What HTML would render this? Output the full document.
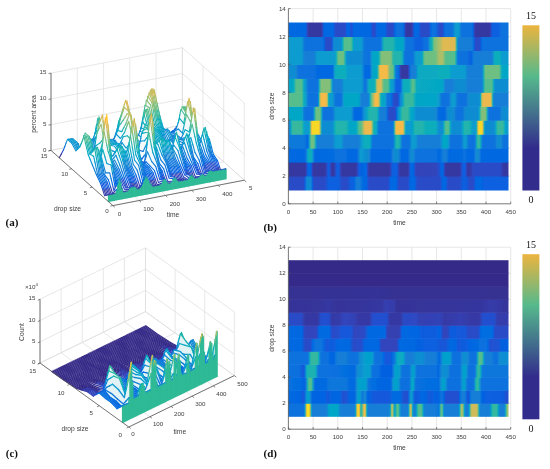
<!DOCTYPE html><html><head><meta charset="utf-8"><title>Figure</title><style>html,body{margin:0;padding:0;background:#fff;overflow:hidden}svg{display:block}.pa .q0{stroke:#352a87}.pa .q1{stroke:#363298}.pa .q2{stroke:#353ba9}.pa .q3{stroke:#3244ba}.pa .q4{stroke:#274dcb}.pa .q5{stroke:#1459db}.pa .q6{stroke:#0363e1}.pa .q7{stroke:#036ae1}.pa .q8{stroke:#0770df}.pa .q9{stroke:#0d75dc}.pa .q10{stroke:#117ad9}.pa .q11{stroke:#1380d6}.pa .q12{stroke:#1485d4}.pa .q13{stroke:#128bd2}.pa .q14{stroke:#0d92d2}.pa .q15{stroke:#0999d1}.pa .q16{stroke:#069ece}.pa .q17{stroke:#06a3ca}.pa .q18{stroke:#06a7c6}.pa .q19{stroke:#08abc0}.pa .q20{stroke:#0eaeba}.pa .q21{stroke:#17b1b3}.pa .q22{stroke:#21b4ac}.pa .q23{stroke:#2cb7a5}.pa .q24{stroke:#39b99d}.pa .q25{stroke:#48bb95}.pa .q26{stroke:#57bd8c}.pa .q27{stroke:#67be85}.pa .q28{stroke:#77bf7e}.pa .q29{stroke:#86bf77}.pa .q30{stroke:#94bf72}.pa .q31{stroke:#a1be6c}.pa .q32{stroke:#adbe68}.pa .q33{stroke:#b9bd63}.pa .q34{stroke:#c5bc5e}.pa .q35{stroke:#d0bb59}.pa .q36{stroke:#dbba55}.pa .q37{stroke:#e6b950}.pa .q38{stroke:#f0b94a}.pa .q39{stroke:#fabc42}.pa .q40{stroke:#fec13a}.pa .q41{stroke:#fec832}.pa .q42{stroke:#fbcf2d}.pa .q43{stroke:#f8d627}.pa .q44{stroke:#f6de21}.pa .q45{stroke:#f5e61b}.pa .q46{stroke:#f6f015}.pa .q47{stroke:#f9fb0e}.pa .w{fill:#f4f9fc;stroke:none}.w0{fill:#fff;stroke:none}.pa .k{stroke:#2fba96;stroke-width:2.0;stroke-linecap:butt}.pc .q0{stroke:#352a87}.pc .q1{stroke:#363298}.pc .q2{stroke:#353ba9}.pc .q3{stroke:#3244ba}.pc .q4{stroke:#274dcb}.pc .q5{stroke:#1459db}.pc .q6{stroke:#0363e1}.pc .q7{stroke:#036ae1}.pc .q8{stroke:#0770df}.pc .q9{stroke:#0d75dc}.pc .q10{stroke:#117ad9}.pc .q11{stroke:#1380d6}.pc .q12{stroke:#1485d4}.pc .q13{stroke:#128bd2}.pc .q14{stroke:#0d92d2}.pc .q15{stroke:#0999d1}.pc .q16{stroke:#069ece}.pc .q17{stroke:#06a3ca}.pc .q18{stroke:#06a7c6}.pc .q19{stroke:#08abc0}.pc .q20{stroke:#0eaeba}.pc .q21{stroke:#17b1b3}.pc .q22{stroke:#21b4ac}.pc .q23{stroke:#2cb7a5}.pc .q24{stroke:#39b99d}.pc .q25{stroke:#48bb95}.pc .q26{stroke:#57bd8c}.pc .q27{stroke:#67be85}.pc .q28{stroke:#77bf7e}.pc .q29{stroke:#86bf77}.pc .q30{stroke:#94bf72}.pc .q31{stroke:#a1be6c}.pc .q32{stroke:#adbe68}.pc .q33{stroke:#b9bd63}.pc .q34{stroke:#c5bc5e}.pc .q35{stroke:#d0bb59}.pc .q36{stroke:#dbba55}.pc .q37{stroke:#e6b950}.pc .q38{stroke:#f0b94a}.pc .q39{stroke:#fabc42}.pc .q40{stroke:#fec13a}.pc .q41{stroke:#fec832}.pc .q42{stroke:#fbcf2d}.pc .q43{stroke:#f8d627}.pc .q44{stroke:#f6de21}.pc .q45{stroke:#f5e61b}.pc .q46{stroke:#f6f015}.pc .q47{stroke:#f9fb0e}.pc .w{fill:#e2f2f5;stroke:none}.w0{fill:#fff;stroke:none}.pc .k{stroke:#2fba96;stroke-width:2.0;stroke-linecap:butt}</style></head><body><svg width="550" height="469" viewBox="0 0 550 469"><defs><linearGradient id="b1" gradientUnits="userSpaceOnUse" x1="288.4" y1="0" x2="508.5" y2="0"><stop offset=".003" stop-color="#2b4bc7"/><stop offset=".070" stop-color="#2b4bc7"/><stop offset=".076" stop-color="#0364e1"/><stop offset=".081" stop-color="#137fd7"/><stop offset=".087" stop-color="#118cd2"/><stop offset=".098" stop-color="#118cd2"/><stop offset=".104" stop-color="#137fd7"/><stop offset=".109" stop-color="#0364e1"/><stop offset=".115" stop-color="#2b4bc7"/><stop offset=".166" stop-color="#2b4bc7"/><stop offset=".182" stop-color="#0860df"/><stop offset=".227" stop-color="#0860df"/><stop offset=".244" stop-color="#2b4bc7"/><stop offset=".267" stop-color="#2b4bc7"/><stop offset=".283" stop-color="#0860df"/><stop offset=".295" stop-color="#0860df"/><stop offset=".300" stop-color="#0269e1"/><stop offset=".306" stop-color="#0f77db"/><stop offset=".311" stop-color="#137ed7"/><stop offset=".323" stop-color="#137ed7"/><stop offset=".328" stop-color="#1079da"/><stop offset=".334" stop-color="#066fdf"/><stop offset=".340" stop-color="#0269e1"/><stop offset=".351" stop-color="#0269e1"/><stop offset=".356" stop-color="#0364e1"/><stop offset=".362" stop-color="#1e53d5"/><stop offset=".368" stop-color="#2b4bc7"/><stop offset=".452" stop-color="#2b4bc7"/><stop offset=".457" stop-color="#1e53d5"/><stop offset=".463" stop-color="#0364e1"/><stop offset=".469" stop-color="#0269e1"/><stop offset=".485" stop-color="#0269e1"/><stop offset=".491" stop-color="#0364e1"/><stop offset=".497" stop-color="#1e53d5"/><stop offset=".502" stop-color="#2b4bc7"/><stop offset=".542" stop-color="#2b4bc7"/><stop offset=".547" stop-color="#1e53d5"/><stop offset=".553" stop-color="#0364e1"/><stop offset=".558" stop-color="#0269e1"/><stop offset=".570" stop-color="#0269e1"/><stop offset=".575" stop-color="#0364e1"/><stop offset=".581" stop-color="#1e53d5"/><stop offset=".586" stop-color="#2b4bc7"/><stop offset=".687" stop-color="#2b4bc7"/><stop offset=".693" stop-color="#1e53d5"/><stop offset=".699" stop-color="#0364e1"/><stop offset=".704" stop-color="#0269e1"/><stop offset=".710" stop-color="#0269e1"/><stop offset=".715" stop-color="#0364e1"/><stop offset=".721" stop-color="#1e53d5"/><stop offset=".727" stop-color="#2b4bc7"/><stop offset=".777" stop-color="#2b4bc7"/><stop offset=".794" stop-color="#0860df"/><stop offset=".811" stop-color="#105bdd"/><stop offset=".822" stop-color="#2b4bc7"/><stop offset=".839" stop-color="#2b4bc7"/><stop offset=".845" stop-color="#1e53d5"/><stop offset=".850" stop-color="#0364e1"/><stop offset=".856" stop-color="#0269e1"/><stop offset=".873" stop-color="#0267e1"/><stop offset=".889" stop-color="#0860df"/><stop offset="1" stop-color="#0860df"/></linearGradient><linearGradient id="b2" gradientUnits="userSpaceOnUse" x1="288.4" y1="0" x2="508.5" y2="0"><stop offset=".003" stop-color="#3637a1"/><stop offset=".076" stop-color="#3637a1"/><stop offset=".081" stop-color="#3243b8"/><stop offset=".087" stop-color="#0a5fdf"/><stop offset=".093" stop-color="#0269e1"/><stop offset=".098" stop-color="#0269e1"/><stop offset=".104" stop-color="#0a5fdf"/><stop offset=".109" stop-color="#3243b8"/><stop offset=".115" stop-color="#3637a1"/><stop offset=".166" stop-color="#3637a1"/><stop offset=".171" stop-color="#3440b3"/><stop offset=".177" stop-color="#1d54d6"/><stop offset=".182" stop-color="#0860df"/><stop offset=".188" stop-color="#1d54d6"/><stop offset=".194" stop-color="#3440b3"/><stop offset=".199" stop-color="#3637a1"/><stop offset=".205" stop-color="#3637a1"/><stop offset=".210" stop-color="#3440b3"/><stop offset=".216" stop-color="#1d54d6"/><stop offset=".222" stop-color="#0860df"/><stop offset=".227" stop-color="#0860df"/><stop offset=".233" stop-color="#1d54d6"/><stop offset=".238" stop-color="#3440b3"/><stop offset=".244" stop-color="#3637a1"/><stop offset=".306" stop-color="#3637a1"/><stop offset=".311" stop-color="#3440b3"/><stop offset=".317" stop-color="#1d54d6"/><stop offset=".323" stop-color="#0860df"/><stop offset=".340" stop-color="#0265e1"/><stop offset=".351" stop-color="#0269e1"/><stop offset=".356" stop-color="#0a5fdf"/><stop offset=".362" stop-color="#3243b8"/><stop offset=".368" stop-color="#3637a1"/><stop offset=".457" stop-color="#3637a1"/><stop offset=".463" stop-color="#3440b3"/><stop offset=".469" stop-color="#1d54d6"/><stop offset=".474" stop-color="#0860df"/><stop offset=".491" stop-color="#0860df"/><stop offset=".497" stop-color="#1d54d6"/><stop offset=".502" stop-color="#3440b3"/><stop offset=".508" stop-color="#3637a1"/><stop offset=".542" stop-color="#3637a1"/><stop offset=".547" stop-color="#3243b8"/><stop offset=".553" stop-color="#0a5fdf"/><stop offset=".558" stop-color="#0269e1"/><stop offset=".564" stop-color="#0269e1"/><stop offset=".570" stop-color="#0462e1"/><stop offset=".575" stop-color="#294cc9"/><stop offset=".581" stop-color="#3243b8"/><stop offset=".671" stop-color="#3244ba"/><stop offset=".687" stop-color="#1e53d5"/><stop offset=".693" stop-color="#0364e1"/><stop offset=".699" stop-color="#0269e1"/><stop offset=".704" stop-color="#0a5fdf"/><stop offset=".710" stop-color="#3243b8"/><stop offset=".715" stop-color="#3637a1"/><stop offset=".777" stop-color="#3637a1"/><stop offset=".783" stop-color="#3440b3"/><stop offset=".788" stop-color="#1d54d6"/><stop offset=".794" stop-color="#0860df"/><stop offset=".800" stop-color="#0860df"/><stop offset=".805" stop-color="#1d54d6"/><stop offset=".811" stop-color="#3440b3"/><stop offset=".816" stop-color="#3637a1"/><stop offset=".828" stop-color="#353cab"/><stop offset=".839" stop-color="#2b4bc7"/><stop offset=".962" stop-color="#2b4bc7"/><stop offset=".979" stop-color="#3637a1"/><stop offset="1" stop-color="#3637a1"/></linearGradient><linearGradient id="b3" gradientUnits="userSpaceOnUse" x1="288.4" y1="0" x2="508.5" y2="0"><stop offset=".003" stop-color="#0269e1"/><stop offset=".076" stop-color="#0269e1"/><stop offset=".081" stop-color="#117bd9"/><stop offset=".087" stop-color="#06a1cc"/><stop offset=".093" stop-color="#0daebb"/><stop offset=".104" stop-color="#0daebb"/><stop offset=".109" stop-color="#06a1cc"/><stop offset=".115" stop-color="#117bd9"/><stop offset=".121" stop-color="#0269e1"/><stop offset=".205" stop-color="#046ce0"/><stop offset=".216" stop-color="#0a72de"/><stop offset=".261" stop-color="#0870df"/><stop offset=".272" stop-color="#0269e1"/><stop offset=".311" stop-color="#0269e1"/><stop offset=".317" stop-color="#0d76dc"/><stop offset=".323" stop-color="#108ed2"/><stop offset=".328" stop-color="#079ccf"/><stop offset=".340" stop-color="#0b95d2"/><stop offset=".351" stop-color="#118cd2"/><stop offset=".362" stop-color="#118cd2"/><stop offset=".368" stop-color="#1483d5"/><stop offset=".373" stop-color="#0a72de"/><stop offset=".379" stop-color="#0269e1"/><stop offset=".463" stop-color="#0269e1"/><stop offset=".469" stop-color="#0a72de"/><stop offset=".474" stop-color="#1483d5"/><stop offset=".480" stop-color="#118cd2"/><stop offset=".497" stop-color="#118cd2"/><stop offset=".502" stop-color="#1483d5"/><stop offset=".508" stop-color="#0a72de"/><stop offset=".513" stop-color="#0269e1"/><stop offset=".542" stop-color="#0269e1"/><stop offset=".547" stop-color="#0a72de"/><stop offset=".553" stop-color="#1483d5"/><stop offset=".558" stop-color="#118cd2"/><stop offset=".564" stop-color="#118cd2"/><stop offset=".570" stop-color="#1485d4"/><stop offset=".575" stop-color="#1078da"/><stop offset=".581" stop-color="#0a72de"/><stop offset=".671" stop-color="#0971de"/><stop offset=".687" stop-color="#0269e1"/><stop offset=".693" stop-color="#066fdf"/><stop offset=".699" stop-color="#1079da"/><stop offset=".704" stop-color="#137ed7"/><stop offset=".715" stop-color="#137ed7"/><stop offset=".721" stop-color="#1079da"/><stop offset=".727" stop-color="#066fdf"/><stop offset=".732" stop-color="#0269e1"/><stop offset=".788" stop-color="#046ce0"/><stop offset=".800" stop-color="#0a72de"/><stop offset=".816" stop-color="#0269e1"/><stop offset=".839" stop-color="#0269e1"/><stop offset=".845" stop-color="#0a72de"/><stop offset=".850" stop-color="#1483d5"/><stop offset=".856" stop-color="#118cd2"/><stop offset=".861" stop-color="#118cd2"/><stop offset=".867" stop-color="#1483d5"/><stop offset=".873" stop-color="#0a72de"/><stop offset=".878" stop-color="#0269e1"/><stop offset="1" stop-color="#0269e1"/></linearGradient><linearGradient id="b4" gradientUnits="userSpaceOnUse" x1="288.4" y1="0" x2="508.5" y2="0"><stop offset=".003" stop-color="#1079da"/><stop offset=".070" stop-color="#1079da"/><stop offset=".087" stop-color="#0269e1"/><stop offset=".093" stop-color="#1485d4"/><stop offset=".098" stop-color="#24b5aa"/><stop offset=".104" stop-color="#6ebf82"/><stop offset=".115" stop-color="#6ebf82"/><stop offset=".121" stop-color="#2fb7a3"/><stop offset=".126" stop-color="#0998d1"/><stop offset=".132" stop-color="#137ed7"/><stop offset=".199" stop-color="#137ed7"/><stop offset=".205" stop-color="#1484d4"/><stop offset=".210" stop-color="#0b95d2"/><stop offset=".216" stop-color="#079ccf"/><stop offset=".238" stop-color="#079ccf"/><stop offset=".244" stop-color="#0b95d2"/><stop offset=".250" stop-color="#1484d4"/><stop offset=".255" stop-color="#137ed7"/><stop offset=".317" stop-color="#137ed7"/><stop offset=".323" stop-color="#1484d4"/><stop offset=".334" stop-color="#069fce"/><stop offset=".345" stop-color="#0aacbe"/><stop offset=".362" stop-color="#0daebb"/><stop offset=".368" stop-color="#0daebb"/><stop offset=".373" stop-color="#06a3ca"/><stop offset=".379" stop-color="#1481d5"/><stop offset=".384" stop-color="#0a72de"/><stop offset=".474" stop-color="#0a72de"/><stop offset=".480" stop-color="#1484d4"/><stop offset=".485" stop-color="#07a9c2"/><stop offset=".491" stop-color="#20b4ad"/><stop offset=".502" stop-color="#20b4ad"/><stop offset=".508" stop-color="#07a9c2"/><stop offset=".513" stop-color="#1484d4"/><stop offset=".519" stop-color="#0a72de"/><stop offset=".547" stop-color="#0a72de"/><stop offset=".553" stop-color="#127cd8"/><stop offset=".558" stop-color="#0e91d2"/><stop offset=".564" stop-color="#079ccf"/><stop offset=".575" stop-color="#079ccf"/><stop offset=".581" stop-color="#0b95d2"/><stop offset=".586" stop-color="#1484d4"/><stop offset=".592" stop-color="#137ed7"/><stop offset=".687" stop-color="#137ed7"/><stop offset=".693" stop-color="#1388d3"/><stop offset=".699" stop-color="#069fce"/><stop offset=".704" stop-color="#06a6c6"/><stop offset=".721" stop-color="#06a6c6"/><stop offset=".727" stop-color="#079cd0"/><stop offset=".732" stop-color="#137fd7"/><stop offset=".738" stop-color="#0a72de"/><stop offset=".783" stop-color="#0a72de"/><stop offset=".788" stop-color="#127cd8"/><stop offset=".794" stop-color="#0e91d2"/><stop offset=".800" stop-color="#079ccf"/><stop offset=".805" stop-color="#079ccf"/><stop offset=".811" stop-color="#0e91d2"/><stop offset=".816" stop-color="#127cd8"/><stop offset=".822" stop-color="#0a72de"/><stop offset=".845" stop-color="#0a72de"/><stop offset=".850" stop-color="#1487d3"/><stop offset=".856" stop-color="#0faeb9"/><stop offset=".861" stop-color="#39b99d"/><stop offset=".867" stop-color="#39b99d"/><stop offset=".873" stop-color="#0faeb9"/><stop offset=".878" stop-color="#1487d3"/><stop offset=".884" stop-color="#0a72de"/><stop offset=".934" stop-color="#0a72de"/><stop offset=".940" stop-color="#1078da"/><stop offset=".946" stop-color="#1485d4"/><stop offset=".951" stop-color="#118cd2"/><stop offset=".962" stop-color="#118cd2"/><stop offset=".968" stop-color="#1485d4"/><stop offset=".974" stop-color="#1078da"/><stop offset=".979" stop-color="#0a72de"/><stop offset="1" stop-color="#0a72de"/></linearGradient><linearGradient id="b5" gradientUnits="userSpaceOnUse" x1="288.4" y1="0" x2="508.5" y2="0"><stop offset=".003" stop-color="#137ed7"/><stop offset=".008" stop-color="#0d92d2"/><stop offset=".014" stop-color="#13b0b6"/><stop offset=".020" stop-color="#39b99d"/><stop offset=".059" stop-color="#39b99d"/><stop offset=".065" stop-color="#20b4ad"/><stop offset=".070" stop-color="#06a6c7"/><stop offset=".076" stop-color="#079ccf"/><stop offset=".093" stop-color="#079ccf"/><stop offset=".098" stop-color="#27b5a8"/><stop offset=".104" stop-color="#dfba53"/><stop offset=".109" stop-color="#f7d826"/><stop offset=".137" stop-color="#f7d826"/><stop offset=".143" stop-color="#d8ba56"/><stop offset=".149" stop-color="#14b0b5"/><stop offset=".154" stop-color="#118cd2"/><stop offset=".199" stop-color="#118cd2"/><stop offset=".205" stop-color="#089bd0"/><stop offset=".210" stop-color="#0cadbb"/><stop offset=".216" stop-color="#20b4ad"/><stop offset=".261" stop-color="#20b4ad"/><stop offset=".267" stop-color="#16b1b4"/><stop offset=".272" stop-color="#08aac1"/><stop offset=".278" stop-color="#06a6c6"/><stop offset=".306" stop-color="#06a6c6"/><stop offset=".311" stop-color="#0daebb"/><stop offset=".317" stop-color="#39b99d"/><stop offset=".323" stop-color="#57bd8c"/><stop offset=".328" stop-color="#57bd8c"/><stop offset=".334" stop-color="#6fbf81"/><stop offset=".345" stop-color="#dcba54"/><stop offset=".351" stop-color="#ebb94d"/><stop offset=".373" stop-color="#ebb94d"/><stop offset=".379" stop-color="#babd62"/><stop offset=".384" stop-color="#3dba9b"/><stop offset=".390" stop-color="#0daebb"/><stop offset=".396" stop-color="#0daebb"/><stop offset=".401" stop-color="#06a3ca"/><stop offset=".407" stop-color="#1481d5"/><stop offset=".412" stop-color="#0a72de"/><stop offset=".474" stop-color="#0a72de"/><stop offset=".480" stop-color="#069ece"/><stop offset=".485" stop-color="#a1be6c"/><stop offset=".491" stop-color="#f6ba46"/><stop offset=".519" stop-color="#f6ba46"/><stop offset=".525" stop-color="#b7bd64"/><stop offset=".530" stop-color="#1ab2b1"/><stop offset=".536" stop-color="#079ccf"/><stop offset=".558" stop-color="#079ccf"/><stop offset=".564" stop-color="#06a4c9"/><stop offset=".570" stop-color="#11afb8"/><stop offset=".575" stop-color="#20b4ad"/><stop offset=".609" stop-color="#20b4ad"/><stop offset=".626" stop-color="#0daebb"/><stop offset=".665" stop-color="#0daebb"/><stop offset=".671" stop-color="#09abbf"/><stop offset=".682" stop-color="#0d92d2"/><stop offset=".687" stop-color="#118cd2"/><stop offset=".699" stop-color="#118cd2"/><stop offset=".704" stop-color="#06a0cd"/><stop offset=".710" stop-color="#2ab6a6"/><stop offset=".715" stop-color="#57bd8c"/><stop offset=".727" stop-color="#57bd8c"/><stop offset=".732" stop-color="#2ab6a6"/><stop offset=".738" stop-color="#06a0cd"/><stop offset=".744" stop-color="#118cd2"/><stop offset=".783" stop-color="#118cd2"/><stop offset=".788" stop-color="#089bd0"/><stop offset=".794" stop-color="#0cadbb"/><stop offset=".800" stop-color="#20b4ad"/><stop offset=".822" stop-color="#20b4ad"/><stop offset=".828" stop-color="#11afb8"/><stop offset=".833" stop-color="#06a4c9"/><stop offset=".839" stop-color="#079ccf"/><stop offset=".850" stop-color="#079ccf"/><stop offset=".856" stop-color="#27b5a8"/><stop offset=".861" stop-color="#dfba53"/><stop offset=".867" stop-color="#f7d826"/><stop offset=".878" stop-color="#f7d826"/><stop offset=".884" stop-color="#d8ba56"/><stop offset=".889" stop-color="#14b0b5"/><stop offset=".895" stop-color="#118cd2"/><stop offset=".934" stop-color="#118cd2"/><stop offset=".940" stop-color="#079dcf"/><stop offset=".946" stop-color="#19b2b1"/><stop offset=".951" stop-color="#39b99d"/><stop offset=".974" stop-color="#39b99d"/><stop offset=".979" stop-color="#20b4ad"/><stop offset=".985" stop-color="#06a6c7"/><stop offset=".990" stop-color="#079ccf"/><stop offset="1" stop-color="#079ccf"/></linearGradient><linearGradient id="b6" gradientUnits="userSpaceOnUse" x1="288.4" y1="0" x2="508.5" y2="0"><stop offset=".003" stop-color="#06a6c6"/><stop offset=".059" stop-color="#06a6c6"/><stop offset=".065" stop-color="#079cd0"/><stop offset=".070" stop-color="#137fd7"/><stop offset=".076" stop-color="#0a72de"/><stop offset=".109" stop-color="#0a72de"/><stop offset=".115" stop-color="#118dd2"/><stop offset=".121" stop-color="#29b6a7"/><stop offset=".126" stop-color="#6ebf82"/><stop offset=".143" stop-color="#6ebf82"/><stop offset=".149" stop-color="#29b6a7"/><stop offset=".154" stop-color="#118dd2"/><stop offset=".160" stop-color="#0a72de"/><stop offset=".199" stop-color="#0a72de"/><stop offset=".205" stop-color="#127cd8"/><stop offset=".210" stop-color="#0e91d2"/><stop offset=".216" stop-color="#079ccf"/><stop offset=".283" stop-color="#079ccf"/><stop offset=".289" stop-color="#108ed2"/><stop offset=".295" stop-color="#0d76dc"/><stop offset=".300" stop-color="#0269e1"/><stop offset=".328" stop-color="#0269e1"/><stop offset=".334" stop-color="#066fdf"/><stop offset=".345" stop-color="#0b95d2"/><stop offset=".356" stop-color="#06a4c9"/><stop offset=".362" stop-color="#11afb8"/><stop offset=".368" stop-color="#20b4ad"/><stop offset=".401" stop-color="#20b4ad"/><stop offset=".407" stop-color="#09abbf"/><stop offset=".412" stop-color="#108ed2"/><stop offset=".418" stop-color="#137ed7"/><stop offset=".441" stop-color="#137ed7"/><stop offset=".446" stop-color="#0d75dc"/><stop offset=".452" stop-color="#0b5edf"/><stop offset=".457" stop-color="#2b4bc7"/><stop offset=".485" stop-color="#2b4bc7"/><stop offset=".491" stop-color="#0268e1"/><stop offset=".497" stop-color="#1389d3"/><stop offset=".502" stop-color="#079ccf"/><stop offset=".508" stop-color="#06a6c7"/><stop offset=".513" stop-color="#20b4ad"/><stop offset=".519" stop-color="#39b99d"/><stop offset=".542" stop-color="#39b99d"/><stop offset=".547" stop-color="#26b5a9"/><stop offset=".553" stop-color="#0aacbe"/><stop offset=".558" stop-color="#06a6c6"/><stop offset=".564" stop-color="#06a6c6"/><stop offset=".570" stop-color="#06a2cc"/><stop offset=".575" stop-color="#0c94d2"/><stop offset=".581" stop-color="#118cd2"/><stop offset=".665" stop-color="#118cd2"/><stop offset=".671" stop-color="#1487d3"/><stop offset=".682" stop-color="#056de0"/><stop offset=".693" stop-color="#0269e1"/><stop offset=".710" stop-color="#0269e1"/><stop offset=".715" stop-color="#0a72de"/><stop offset=".721" stop-color="#1483d5"/><stop offset=".727" stop-color="#118cd2"/><stop offset=".749" stop-color="#118cd2"/><stop offset=".755" stop-color="#1485d4"/><stop offset=".760" stop-color="#1078da"/><stop offset=".766" stop-color="#0a72de"/><stop offset=".788" stop-color="#0a72de"/><stop offset=".794" stop-color="#1078da"/><stop offset=".800" stop-color="#1485d4"/><stop offset=".805" stop-color="#118cd2"/><stop offset=".861" stop-color="#118cd2"/><stop offset=".867" stop-color="#06a3ca"/><stop offset=".873" stop-color="#46bb95"/><stop offset=".878" stop-color="#83bf78"/><stop offset=".895" stop-color="#83bf78"/><stop offset=".901" stop-color="#36b99f"/><stop offset=".906" stop-color="#108fd2"/><stop offset=".912" stop-color="#0a72de"/><stop offset=".957" stop-color="#0a72de"/><stop offset=".962" stop-color="#1078da"/><stop offset=".968" stop-color="#1485d4"/><stop offset=".974" stop-color="#118cd2"/><stop offset="1" stop-color="#118cd2"/></linearGradient><linearGradient id="b7" gradientUnits="userSpaceOnUse" x1="288.4" y1="0" x2="508.5" y2="0"><stop offset=".003" stop-color="#57bd8c"/><stop offset=".059" stop-color="#57bd8c"/><stop offset=".065" stop-color="#39b99d"/><stop offset=".070" stop-color="#0daebb"/><stop offset=".081" stop-color="#079cd0"/><stop offset=".087" stop-color="#137fd7"/><stop offset=".093" stop-color="#0a72de"/><stop offset=".132" stop-color="#0a72de"/><stop offset=".137" stop-color="#069ece"/><stop offset=".143" stop-color="#a1be6c"/><stop offset=".149" stop-color="#f6ba46"/><stop offset=".171" stop-color="#f6ba46"/><stop offset=".177" stop-color="#b7bd64"/><stop offset=".182" stop-color="#1ab2b1"/><stop offset=".188" stop-color="#079ccf"/><stop offset=".199" stop-color="#079ccf"/><stop offset=".205" stop-color="#0e91d2"/><stop offset=".210" stop-color="#127cd8"/><stop offset=".216" stop-color="#0a72de"/><stop offset=".238" stop-color="#0a72de"/><stop offset=".244" stop-color="#137fd7"/><stop offset=".250" stop-color="#079cd0"/><stop offset=".255" stop-color="#06a6c6"/><stop offset=".317" stop-color="#06a6c6"/><stop offset=".323" stop-color="#069fce"/><stop offset=".328" stop-color="#1388d3"/><stop offset=".334" stop-color="#137ed7"/><stop offset=".362" stop-color="#137ed7"/><stop offset=".368" stop-color="#0998d1"/><stop offset=".373" stop-color="#2fb7a3"/><stop offset=".379" stop-color="#6ebf82"/><stop offset=".384" stop-color="#96bf71"/><stop offset=".390" stop-color="#d8ba56"/><stop offset=".396" stop-color="#f6ba46"/><stop offset=".407" stop-color="#f6ba46"/><stop offset=".412" stop-color="#bebc61"/><stop offset=".418" stop-color="#2db7a5"/><stop offset=".424" stop-color="#06a6c6"/><stop offset=".435" stop-color="#06a6c6"/><stop offset=".441" stop-color="#079cd0"/><stop offset=".446" stop-color="#137fd7"/><stop offset=".452" stop-color="#0a72de"/><stop offset=".463" stop-color="#0a72de"/><stop offset=".469" stop-color="#046ce0"/><stop offset=".474" stop-color="#1658da"/><stop offset=".480" stop-color="#2b4bc7"/><stop offset=".497" stop-color="#2b4bc7"/><stop offset=".502" stop-color="#0364e1"/><stop offset=".508" stop-color="#137fd7"/><stop offset=".519" stop-color="#079dcf"/><stop offset=".525" stop-color="#19b2b1"/><stop offset=".530" stop-color="#39b99d"/><stop offset=".564" stop-color="#39b99d"/><stop offset=".570" stop-color="#26b5a9"/><stop offset=".575" stop-color="#0aacbe"/><stop offset=".581" stop-color="#06a6c6"/><stop offset=".671" stop-color="#06a5c8"/><stop offset=".682" stop-color="#079ecf"/><stop offset=".687" stop-color="#0e91d2"/><stop offset=".693" stop-color="#127cd8"/><stop offset=".699" stop-color="#0a72de"/><stop offset=".727" stop-color="#0a72de"/><stop offset=".732" stop-color="#127cd8"/><stop offset=".738" stop-color="#0e91d2"/><stop offset=".744" stop-color="#079ccf"/><stop offset=".755" stop-color="#079ccf"/><stop offset=".760" stop-color="#0e91d2"/><stop offset=".766" stop-color="#127cd8"/><stop offset=".772" stop-color="#0a72de"/><stop offset=".805" stop-color="#0a72de"/><stop offset=".811" stop-color="#1078da"/><stop offset=".816" stop-color="#1485d4"/><stop offset=".822" stop-color="#118cd2"/><stop offset=".867" stop-color="#118cd2"/><stop offset=".873" stop-color="#09abbf"/><stop offset=".878" stop-color="#a6be6b"/><stop offset=".884" stop-color="#ebb94d"/><stop offset=".918" stop-color="#ebb94d"/><stop offset=".923" stop-color="#9ebe6e"/><stop offset=".929" stop-color="#06a4c9"/><stop offset=".934" stop-color="#137ed7"/><stop offset="1" stop-color="#137ed7"/></linearGradient><linearGradient id="b8" gradientUnits="userSpaceOnUse" x1="288.4" y1="0" x2="508.5" y2="0"><stop offset=".003" stop-color="#06a6c6"/><stop offset=".020" stop-color="#06a6c6"/><stop offset=".025" stop-color="#0daebb"/><stop offset=".031" stop-color="#39b99d"/><stop offset=".036" stop-color="#57bd8c"/><stop offset=".059" stop-color="#57bd8c"/><stop offset=".065" stop-color="#32b8a1"/><stop offset=".070" stop-color="#06a8c4"/><stop offset=".076" stop-color="#079ccf"/><stop offset=".081" stop-color="#0e91d2"/><stop offset=".087" stop-color="#127cd8"/><stop offset=".093" stop-color="#0a72de"/><stop offset=".132" stop-color="#0a72de"/><stop offset=".137" stop-color="#108fd2"/><stop offset=".143" stop-color="#36b99f"/><stop offset=".149" stop-color="#83bf78"/><stop offset=".188" stop-color="#83bf78"/><stop offset=".194" stop-color="#3dba9b"/><stop offset=".199" stop-color="#089ad0"/><stop offset=".205" stop-color="#137ed7"/><stop offset=".238" stop-color="#137ed7"/><stop offset=".244" stop-color="#1484d4"/><stop offset=".250" stop-color="#0b95d2"/><stop offset=".255" stop-color="#079ccf"/><stop offset=".328" stop-color="#079ccf"/><stop offset=".334" stop-color="#0a97d1"/><stop offset=".345" stop-color="#0e77db"/><stop offset=".351" stop-color="#0a72de"/><stop offset=".356" stop-color="#1481d5"/><stop offset=".362" stop-color="#06a3ca"/><stop offset=".368" stop-color="#0daebb"/><stop offset=".390" stop-color="#0daebb"/><stop offset=".396" stop-color="#39b99d"/><stop offset=".401" stop-color="#b0bd66"/><stop offset=".407" stop-color="#dfba53"/><stop offset=".418" stop-color="#dfba53"/><stop offset=".424" stop-color="#c2bc5f"/><stop offset=".429" stop-color="#80bf7a"/><stop offset=".435" stop-color="#57bd8c"/><stop offset=".452" stop-color="#57bd8c"/><stop offset=".457" stop-color="#32b8a1"/><stop offset=".463" stop-color="#06a8c4"/><stop offset=".469" stop-color="#079ccf"/><stop offset=".474" stop-color="#079ccf"/><stop offset=".480" stop-color="#118cd2"/><stop offset=".485" stop-color="#0871de"/><stop offset=".491" stop-color="#0860df"/><stop offset=".508" stop-color="#0860df"/><stop offset=".513" stop-color="#0e76dc"/><stop offset=".519" stop-color="#06a0cd"/><stop offset=".525" stop-color="#0daebb"/><stop offset=".547" stop-color="#0daebb"/><stop offset=".553" stop-color="#1bb2b0"/><stop offset=".558" stop-color="#40ba99"/><stop offset=".564" stop-color="#57bd8c"/><stop offset=".570" stop-color="#57bd8c"/><stop offset=".575" stop-color="#3cba9b"/><stop offset=".581" stop-color="#12afb7"/><stop offset=".586" stop-color="#07a9c2"/><stop offset=".676" stop-color="#06a8c4"/><stop offset=".699" stop-color="#06a6c6"/><stop offset=".704" stop-color="#069fce"/><stop offset=".710" stop-color="#1388d3"/><stop offset=".715" stop-color="#137ed7"/><stop offset=".744" stop-color="#137ed7"/><stop offset=".760" stop-color="#118cd2"/><stop offset=".800" stop-color="#118cd2"/><stop offset=".816" stop-color="#137ed7"/><stop offset=".878" stop-color="#137ed7"/><stop offset=".884" stop-color="#0b95d1"/><stop offset=".889" stop-color="#23b4ab"/><stop offset=".895" stop-color="#57bd8c"/><stop offset=".923" stop-color="#57bd8c"/><stop offset=".929" stop-color="#2ab6a6"/><stop offset=".934" stop-color="#06a0cd"/><stop offset=".940" stop-color="#118cd2"/><stop offset="1" stop-color="#118cd2"/></linearGradient><linearGradient id="b9" gradientUnits="userSpaceOnUse" x1="288.4" y1="0" x2="508.5" y2="0"><stop offset=".003" stop-color="#118cd2"/><stop offset=".031" stop-color="#118cd2"/><stop offset=".036" stop-color="#1485d4"/><stop offset=".042" stop-color="#1078da"/><stop offset=".048" stop-color="#0a72de"/><stop offset=".121" stop-color="#0870df"/><stop offset=".132" stop-color="#0269e1"/><stop offset=".199" stop-color="#0269e1"/><stop offset=".205" stop-color="#117bd9"/><stop offset=".210" stop-color="#06a1cc"/><stop offset=".216" stop-color="#0daebb"/><stop offset=".255" stop-color="#0daebb"/><stop offset=".261" stop-color="#08aac1"/><stop offset=".267" stop-color="#06a2cc"/><stop offset=".272" stop-color="#079ccf"/><stop offset=".328" stop-color="#079ccf"/><stop offset=".334" stop-color="#0b95d2"/><stop offset=".345" stop-color="#066fdf"/><stop offset=".351" stop-color="#0269e1"/><stop offset=".368" stop-color="#0269e1"/><stop offset=".373" stop-color="#1078da"/><stop offset=".379" stop-color="#0899d1"/><stop offset=".384" stop-color="#06a6c6"/><stop offset=".401" stop-color="#06a6c6"/><stop offset=".407" stop-color="#2db7a5"/><stop offset=".412" stop-color="#bebc61"/><stop offset=".418" stop-color="#f6ba46"/><stop offset=".446" stop-color="#f6ba46"/><stop offset=".452" stop-color="#d8ba56"/><stop offset=".457" stop-color="#96bf71"/><stop offset=".463" stop-color="#6ebf82"/><stop offset=".474" stop-color="#6ebf82"/><stop offset=".480" stop-color="#29b6a7"/><stop offset=".485" stop-color="#118dd2"/><stop offset=".491" stop-color="#0a72de"/><stop offset=".497" stop-color="#0a72de"/><stop offset=".502" stop-color="#0268e1"/><stop offset=".508" stop-color="#2f46bf"/><stop offset=".513" stop-color="#3637a1"/><stop offset=".542" stop-color="#3637a1"/><stop offset=".547" stop-color="#2a4cc9"/><stop offset=".553" stop-color="#0972de"/><stop offset=".558" stop-color="#137ed7"/><stop offset=".575" stop-color="#137ed7"/><stop offset=".581" stop-color="#1389d3"/><stop offset=".586" stop-color="#06a1cc"/><stop offset=".592" stop-color="#07a9c2"/><stop offset=".671" stop-color="#08aac1"/><stop offset=".687" stop-color="#0daebb"/><stop offset=".727" stop-color="#0daebb"/><stop offset=".732" stop-color="#08aac1"/><stop offset=".738" stop-color="#06a2cc"/><stop offset=".744" stop-color="#079ccf"/><stop offset=".800" stop-color="#079ccf"/><stop offset=".805" stop-color="#0b95d2"/><stop offset=".811" stop-color="#1484d4"/><stop offset=".816" stop-color="#137ed7"/><stop offset=".878" stop-color="#137ed7"/><stop offset=".884" stop-color="#0998d1"/><stop offset=".889" stop-color="#2fb7a3"/><stop offset=".895" stop-color="#6ebf82"/><stop offset=".957" stop-color="#6ebf82"/><stop offset=".962" stop-color="#48bb94"/><stop offset=".968" stop-color="#10afb8"/><stop offset=".974" stop-color="#06a6c6"/><stop offset="1" stop-color="#06a6c6"/></linearGradient><linearGradient id="b10" gradientUnits="userSpaceOnUse" x1="288.4" y1="0" x2="508.5" y2="0"><stop offset=".003" stop-color="#079ccf"/><stop offset=".059" stop-color="#079ccf"/><stop offset=".065" stop-color="#0b95d2"/><stop offset=".070" stop-color="#1484d4"/><stop offset=".076" stop-color="#137ed7"/><stop offset=".115" stop-color="#137ed7"/><stop offset=".121" stop-color="#1484d4"/><stop offset=".126" stop-color="#0b95d2"/><stop offset=".132" stop-color="#079ccf"/><stop offset=".210" stop-color="#079ccf"/><stop offset=".216" stop-color="#07a9c2"/><stop offset=".222" stop-color="#40ba99"/><stop offset=".227" stop-color="#6ebf82"/><stop offset=".250" stop-color="#6ebf82"/><stop offset=".255" stop-color="#37b99e"/><stop offset=".261" stop-color="#06a2cc"/><stop offset=".267" stop-color="#118cd2"/><stop offset=".328" stop-color="#118cd2"/><stop offset=".334" stop-color="#1388d3"/><stop offset=".345" stop-color="#0d75dc"/><stop offset=".362" stop-color="#0a72de"/><stop offset=".368" stop-color="#0a72de"/><stop offset=".373" stop-color="#137fd7"/><stop offset=".379" stop-color="#079cd0"/><stop offset=".384" stop-color="#06a6c6"/><stop offset=".407" stop-color="#06a6c6"/><stop offset=".412" stop-color="#13b0b6"/><stop offset=".418" stop-color="#58bd8c"/><stop offset=".424" stop-color="#83bf78"/><stop offset=".463" stop-color="#83bf78"/><stop offset=".469" stop-color="#69be84"/><stop offset=".474" stop-color="#35b8a0"/><stop offset=".480" stop-color="#20b4ad"/><stop offset=".513" stop-color="#20b4ad"/><stop offset=".519" stop-color="#07a9c2"/><stop offset=".525" stop-color="#1484d4"/><stop offset=".530" stop-color="#0a72de"/><stop offset=".564" stop-color="#0a72de"/><stop offset=".570" stop-color="#127cd8"/><stop offset=".575" stop-color="#0e91d2"/><stop offset=".581" stop-color="#079ccf"/><stop offset=".603" stop-color="#079ccf"/><stop offset=".609" stop-color="#07a9c2"/><stop offset=".614" stop-color="#40ba99"/><stop offset=".620" stop-color="#6ebf82"/><stop offset=".665" stop-color="#6ebf82"/><stop offset=".671" stop-color="#76bf7e"/><stop offset=".682" stop-color="#a6be6b"/><stop offset=".693" stop-color="#adbe68"/><stop offset=".699" stop-color="#adbe68"/><stop offset=".704" stop-color="#9abf6f"/><stop offset=".710" stop-color="#6fbf81"/><stop offset=".715" stop-color="#57bd8c"/><stop offset=".755" stop-color="#57bd8c"/><stop offset=".760" stop-color="#1db3af"/><stop offset=".766" stop-color="#128ad3"/><stop offset=".772" stop-color="#0a72de"/><stop offset=".811" stop-color="#0a72de"/><stop offset=".828" stop-color="#0860df"/><stop offset=".833" stop-color="#0269e1"/><stop offset=".839" stop-color="#0f77db"/><stop offset=".845" stop-color="#137ed7"/><stop offset=".923" stop-color="#137ed7"/><stop offset=".929" stop-color="#128bd2"/><stop offset=".934" stop-color="#06a5c8"/><stop offset=".940" stop-color="#0daebb"/><stop offset=".957" stop-color="#0daebb"/><stop offset=".962" stop-color="#08aac1"/><stop offset=".968" stop-color="#06a2cc"/><stop offset=".974" stop-color="#079ccf"/><stop offset="1" stop-color="#079ccf"/></linearGradient><linearGradient id="b11" gradientUnits="userSpaceOnUse" x1="288.4" y1="0" x2="508.5" y2="0"><stop offset=".003" stop-color="#079ccf"/><stop offset=".059" stop-color="#079ccf"/><stop offset=".065" stop-color="#0e91d2"/><stop offset=".070" stop-color="#127cd8"/><stop offset=".076" stop-color="#0a72de"/><stop offset=".154" stop-color="#0a72de"/><stop offset=".160" stop-color="#046ce0"/><stop offset=".166" stop-color="#1658da"/><stop offset=".171" stop-color="#2b4bc7"/><stop offset=".194" stop-color="#2b4bc7"/><stop offset=".199" stop-color="#0364e1"/><stop offset=".205" stop-color="#137fd7"/><stop offset=".210" stop-color="#118cd2"/><stop offset=".238" stop-color="#118cd2"/><stop offset=".244" stop-color="#06a0cd"/><stop offset=".250" stop-color="#2ab6a6"/><stop offset=".255" stop-color="#57bd8c"/><stop offset=".283" stop-color="#57bd8c"/><stop offset=".289" stop-color="#32b8a1"/><stop offset=".295" stop-color="#06a8c4"/><stop offset=".300" stop-color="#079ccf"/><stop offset=".328" stop-color="#079ccf"/><stop offset=".334" stop-color="#0a97d1"/><stop offset=".345" stop-color="#0e77db"/><stop offset=".351" stop-color="#0a72de"/><stop offset=".418" stop-color="#0a72de"/><stop offset=".424" stop-color="#1484d4"/><stop offset=".429" stop-color="#07a9c2"/><stop offset=".435" stop-color="#20b4ad"/><stop offset=".474" stop-color="#20b4ad"/><stop offset=".480" stop-color="#16b1b4"/><stop offset=".485" stop-color="#08aac1"/><stop offset=".491" stop-color="#06a6c6"/><stop offset=".519" stop-color="#06a6c6"/><stop offset=".525" stop-color="#079cd0"/><stop offset=".530" stop-color="#137fd7"/><stop offset=".536" stop-color="#0a72de"/><stop offset=".564" stop-color="#0a72de"/><stop offset=".581" stop-color="#0860df"/><stop offset=".603" stop-color="#0860df"/><stop offset=".620" stop-color="#0a72de"/><stop offset=".631" stop-color="#0a72de"/><stop offset=".637" stop-color="#1481d5"/><stop offset=".643" stop-color="#06a3ca"/><stop offset=".654" stop-color="#22b4ab"/><stop offset=".659" stop-color="#61be88"/><stop offset=".665" stop-color="#83bf78"/><stop offset=".671" stop-color="#89bf76"/><stop offset=".682" stop-color="#a8be6a"/><stop offset=".693" stop-color="#babd62"/><stop offset=".699" stop-color="#d3bb58"/><stop offset=".704" stop-color="#dfba53"/><stop offset=".755" stop-color="#dfba53"/><stop offset=".760" stop-color="#93bf72"/><stop offset=".766" stop-color="#06a3ca"/><stop offset=".772" stop-color="#137ed7"/><stop offset=".833" stop-color="#137ed7"/><stop offset=".839" stop-color="#0d75dc"/><stop offset=".845" stop-color="#0b5edf"/><stop offset=".850" stop-color="#2b4bc7"/><stop offset=".867" stop-color="#2b4bc7"/><stop offset=".873" stop-color="#1658da"/><stop offset=".878" stop-color="#046ce0"/><stop offset=".884" stop-color="#0a72de"/><stop offset="1" stop-color="#0a72de"/></linearGradient><linearGradient id="b12" gradientUnits="userSpaceOnUse" x1="288.4" y1="0" x2="508.5" y2="0"><stop offset=".003" stop-color="#0269e1"/><stop offset=".076" stop-color="#0269e1"/><stop offset=".081" stop-color="#0a5fdf"/><stop offset=".087" stop-color="#3243b8"/><stop offset=".093" stop-color="#3637a1"/><stop offset=".149" stop-color="#3637a1"/><stop offset=".154" stop-color="#3243b8"/><stop offset=".160" stop-color="#0a5fdf"/><stop offset=".166" stop-color="#0269e1"/><stop offset=".199" stop-color="#0269e1"/><stop offset=".205" stop-color="#0364e1"/><stop offset=".210" stop-color="#1e53d5"/><stop offset=".216" stop-color="#2b4bc7"/><stop offset=".255" stop-color="#2b4bc7"/><stop offset=".261" stop-color="#1e53d5"/><stop offset=".267" stop-color="#0364e1"/><stop offset=".272" stop-color="#0269e1"/><stop offset=".278" stop-color="#0364e1"/><stop offset=".283" stop-color="#1e53d5"/><stop offset=".289" stop-color="#1e53d5"/><stop offset=".295" stop-color="#0364e1"/><stop offset=".300" stop-color="#0269e1"/><stop offset=".368" stop-color="#0269e1"/><stop offset=".373" stop-color="#0364e1"/><stop offset=".379" stop-color="#1e53d5"/><stop offset=".384" stop-color="#2b4bc7"/><stop offset=".390" stop-color="#2b4bc7"/><stop offset=".396" stop-color="#1e53d5"/><stop offset=".401" stop-color="#0364e1"/><stop offset=".407" stop-color="#0269e1"/><stop offset=".435" stop-color="#0269e1"/><stop offset=".441" stop-color="#0364e1"/><stop offset=".446" stop-color="#1e53d5"/><stop offset=".452" stop-color="#2b4bc7"/><stop offset=".474" stop-color="#2b4bc7"/><stop offset=".480" stop-color="#1658da"/><stop offset=".485" stop-color="#046ce0"/><stop offset=".491" stop-color="#0a72de"/><stop offset=".519" stop-color="#0a72de"/><stop offset=".525" stop-color="#0268e1"/><stop offset=".530" stop-color="#2f46bf"/><stop offset=".536" stop-color="#3637a1"/><stop offset=".558" stop-color="#3637a1"/><stop offset=".564" stop-color="#3243b8"/><stop offset=".570" stop-color="#0a5fdf"/><stop offset=".575" stop-color="#0269e1"/><stop offset=".586" stop-color="#0269e1"/><stop offset=".592" stop-color="#0364e1"/><stop offset=".598" stop-color="#1e53d5"/><stop offset=".603" stop-color="#2b4bc7"/><stop offset=".637" stop-color="#2b4bc7"/><stop offset=".643" stop-color="#1658da"/><stop offset=".648" stop-color="#046ce0"/><stop offset=".654" stop-color="#0a72de"/><stop offset=".671" stop-color="#076fdf"/><stop offset=".682" stop-color="#2152d2"/><stop offset=".693" stop-color="#2b4bc7"/><stop offset=".699" stop-color="#2b4bc7"/><stop offset=".704" stop-color="#1658da"/><stop offset=".710" stop-color="#046ce0"/><stop offset=".715" stop-color="#0a72de"/><stop offset=".744" stop-color="#0a72de"/><stop offset=".749" stop-color="#127cd8"/><stop offset=".755" stop-color="#0e91d2"/><stop offset=".760" stop-color="#079ccf"/><stop offset=".772" stop-color="#079ccf"/><stop offset=".777" stop-color="#0e91d2"/><stop offset=".783" stop-color="#127cd8"/><stop offset=".788" stop-color="#0a72de"/><stop offset=".833" stop-color="#0a72de"/><stop offset=".839" stop-color="#0268e1"/><stop offset=".845" stop-color="#2f46bf"/><stop offset=".850" stop-color="#3637a1"/><stop offset=".912" stop-color="#3637a1"/><stop offset=".918" stop-color="#3440b3"/><stop offset=".923" stop-color="#1d54d6"/><stop offset=".929" stop-color="#0860df"/><stop offset=".951" stop-color="#0860df"/><stop offset=".968" stop-color="#0a72de"/><stop offset="1" stop-color="#0a72de"/></linearGradient><linearGradient id="d1" gradientUnits="userSpaceOnUse" x1="288.4" y1="0" x2="508.5" y2="0"><stop offset=".003" stop-color="#0a72de"/><stop offset=".070" stop-color="#0a72de"/><stop offset=".076" stop-color="#06a5c8"/><stop offset=".081" stop-color="#d5ba57"/><stop offset=".087" stop-color="#f5e21e"/><stop offset=".093" stop-color="#f5e21e"/><stop offset=".098" stop-color="#dbba55"/><stop offset=".104" stop-color="#09abbf"/><stop offset=".109" stop-color="#137ed7"/><stop offset=".171" stop-color="#137ed7"/><stop offset=".177" stop-color="#1388d3"/><stop offset=".182" stop-color="#069ece"/><stop offset=".188" stop-color="#06a6c7"/><stop offset=".222" stop-color="#06a6c7"/><stop offset=".227" stop-color="#069ece"/><stop offset=".233" stop-color="#1388d3"/><stop offset=".238" stop-color="#137ed7"/><stop offset=".300" stop-color="#137ed7"/><stop offset=".306" stop-color="#09abbf"/><stop offset=".311" stop-color="#dbba55"/><stop offset=".317" stop-color="#f5e21e"/><stop offset=".323" stop-color="#e3b951"/><stop offset=".328" stop-color="#36b99f"/><stop offset=".334" stop-color="#33b8a0"/><stop offset=".340" stop-color="#b7bd63"/><stop offset=".345" stop-color="#fabc42"/><stop offset=".351" stop-color="#bdbd61"/><stop offset=".356" stop-color="#06a8c4"/><stop offset=".362" stop-color="#137ed7"/><stop offset=".457" stop-color="#137ed7"/><stop offset=".463" stop-color="#06a6c7"/><stop offset=".469" stop-color="#a8be6a"/><stop offset=".474" stop-color="#b1bd66"/><stop offset=".480" stop-color="#0cadbb"/><stop offset=".485" stop-color="#06a3cb"/><stop offset=".491" stop-color="#38b99d"/><stop offset=".497" stop-color="#6ebf82"/><stop offset=".502" stop-color="#2fb7a3"/><stop offset=".508" stop-color="#0998d1"/><stop offset=".513" stop-color="#137ed7"/><stop offset=".542" stop-color="#137ed7"/><stop offset=".547" stop-color="#07a9c3"/><stop offset=".553" stop-color="#c7bc5d"/><stop offset=".558" stop-color="#c7bc5d"/><stop offset=".564" stop-color="#07a9c3"/><stop offset=".570" stop-color="#137ed7"/><stop offset=".575" stop-color="#137ed7"/><stop offset=".581" stop-color="#0b95d1"/><stop offset=".586" stop-color="#23b4ab"/><stop offset=".592" stop-color="#57bd8c"/><stop offset=".603" stop-color="#57bd8c"/><stop offset=".609" stop-color="#23b4ab"/><stop offset=".614" stop-color="#0b95d1"/><stop offset=".620" stop-color="#137ed7"/><stop offset=".671" stop-color="#127cd8"/><stop offset=".682" stop-color="#0b74dd"/><stop offset=".687" stop-color="#0c94d2"/><stop offset=".693" stop-color="#58bd8c"/><stop offset=".699" stop-color="#61be87"/><stop offset=".704" stop-color="#069ece"/><stop offset=".710" stop-color="#137ed7"/><stop offset=".772" stop-color="#137ed7"/><stop offset=".777" stop-color="#06a0cd"/><stop offset=".783" stop-color="#73bf80"/><stop offset=".788" stop-color="#bebc61"/><stop offset=".794" stop-color="#73bf80"/><stop offset=".800" stop-color="#06a0cd"/><stop offset=".805" stop-color="#137ed7"/><stop offset=".816" stop-color="#137ed7"/><stop offset=".822" stop-color="#06a2cc"/><stop offset=".828" stop-color="#83bf78"/><stop offset=".833" stop-color="#cfbb5a"/><stop offset=".856" stop-color="#cfbb5a"/><stop offset=".861" stop-color="#83bf78"/><stop offset=".867" stop-color="#06a2cc"/><stop offset=".873" stop-color="#137ed7"/><stop offset=".912" stop-color="#137ed7"/><stop offset=".918" stop-color="#0e91d2"/><stop offset=".923" stop-color="#11afb7"/><stop offset=".929" stop-color="#35b8a0"/><stop offset=".946" stop-color="#35b8a0"/><stop offset=".951" stop-color="#11afb7"/><stop offset=".957" stop-color="#0e91d2"/><stop offset=".962" stop-color="#137ed7"/><stop offset=".979" stop-color="#137ed7"/><stop offset=".985" stop-color="#079cd0"/><stop offset=".990" stop-color="#4fbc91"/><stop offset=".996" stop-color="#99bf70"/><stop offset="1" stop-color="#99bf70"/></linearGradient><linearGradient id="d2" gradientUnits="userSpaceOnUse" x1="288.4" y1="0" x2="508.5" y2="0"><stop offset=".003" stop-color="#0268e1"/><stop offset=".053" stop-color="#0265e1"/><stop offset=".065" stop-color="#1459db"/><stop offset=".070" stop-color="#1459db"/><stop offset=".076" stop-color="#066fdf"/><stop offset=".081" stop-color="#108ed2"/><stop offset=".087" stop-color="#06a0cd"/><stop offset=".093" stop-color="#06a0cd"/><stop offset=".098" stop-color="#0e91d2"/><stop offset=".104" stop-color="#0c74dd"/><stop offset=".109" stop-color="#0265e1"/><stop offset=".166" stop-color="#0363e1"/><stop offset=".177" stop-color="#1459db"/><stop offset=".199" stop-color="#0265e1"/><stop offset=".233" stop-color="#0265e1"/><stop offset=".250" stop-color="#2350d0"/><stop offset=".267" stop-color="#1956d7"/><stop offset=".278" stop-color="#0265e1"/><stop offset=".300" stop-color="#0265e1"/><stop offset=".306" stop-color="#0c74dd"/><stop offset=".311" stop-color="#0e91d2"/><stop offset=".317" stop-color="#06a0cd"/><stop offset=".323" stop-color="#06a0cd"/><stop offset=".328" stop-color="#0d92d2"/><stop offset=".334" stop-color="#117bd9"/><stop offset=".340" stop-color="#117ad9"/><stop offset=".345" stop-color="#1388d3"/><stop offset=".351" stop-color="#1483d5"/><stop offset=".356" stop-color="#0870df"/><stop offset=".362" stop-color="#0265e1"/><stop offset=".390" stop-color="#1459db"/><stop offset=".457" stop-color="#1459db"/><stop offset=".474" stop-color="#036be0"/><stop offset=".508" stop-color="#036be0"/><stop offset=".525" stop-color="#2350d0"/><stop offset=".542" stop-color="#2350d0"/><stop offset=".547" stop-color="#046ce0"/><stop offset=".553" stop-color="#118dd2"/><stop offset=".558" stop-color="#06a0cd"/><stop offset=".564" stop-color="#108ed2"/><stop offset=".570" stop-color="#066fdf"/><stop offset=".575" stop-color="#1459db"/><stop offset=".592" stop-color="#0c5ede"/><stop offset=".603" stop-color="#0268e1"/><stop offset=".626" stop-color="#0265e1"/><stop offset=".637" stop-color="#1459db"/><stop offset=".654" stop-color="#0d5dde"/><stop offset=".665" stop-color="#0265e1"/><stop offset=".676" stop-color="#0860df"/><stop offset=".682" stop-color="#0363e1"/><stop offset=".693" stop-color="#0a72de"/><stop offset=".699" stop-color="#0a72de"/><stop offset=".704" stop-color="#046ce0"/><stop offset=".710" stop-color="#0e5dde"/><stop offset=".715" stop-color="#2350d0"/><stop offset=".772" stop-color="#2350d0"/><stop offset=".777" stop-color="#0562e0"/><stop offset=".783" stop-color="#0d75dc"/><stop offset=".788" stop-color="#137ed7"/><stop offset=".800" stop-color="#137ed7"/><stop offset=".805" stop-color="#0d75dc"/><stop offset=".811" stop-color="#0562e0"/><stop offset=".816" stop-color="#2350d0"/><stop offset=".822" stop-color="#0562e0"/><stop offset=".828" stop-color="#0d75dc"/><stop offset=".833" stop-color="#137ed7"/><stop offset=".867" stop-color="#137ed7"/><stop offset=".873" stop-color="#0f77db"/><stop offset=".878" stop-color="#036ae1"/><stop offset=".884" stop-color="#0661e0"/><stop offset=".974" stop-color="#0c5dde"/><stop offset=".990" stop-color="#2350d0"/><stop offset="1" stop-color="#2350d0"/></linearGradient><linearGradient id="d3" gradientUnits="userSpaceOnUse" x1="288.4" y1="0" x2="508.5" y2="0"><stop offset=".003" stop-color="#0770df"/><stop offset=".053" stop-color="#056de0"/><stop offset=".065" stop-color="#0265e1"/><stop offset=".076" stop-color="#0265e1"/><stop offset=".081" stop-color="#1481d6"/><stop offset=".087" stop-color="#17b1b3"/><stop offset=".093" stop-color="#57bd8c"/><stop offset=".104" stop-color="#57bd8c"/><stop offset=".109" stop-color="#1ab2b1"/><stop offset=".115" stop-color="#1484d4"/><stop offset=".121" stop-color="#036be0"/><stop offset=".171" stop-color="#036be0"/><stop offset=".188" stop-color="#0e77db"/><stop offset=".261" stop-color="#0e77db"/><stop offset=".278" stop-color="#036be0"/><stop offset=".300" stop-color="#036be0"/><stop offset=".306" stop-color="#0f78db"/><stop offset=".311" stop-color="#0d92d2"/><stop offset=".317" stop-color="#06a0cd"/><stop offset=".351" stop-color="#06a0cd"/><stop offset=".356" stop-color="#0c93d2"/><stop offset=".362" stop-color="#117bd9"/><stop offset=".368" stop-color="#0770df"/><stop offset=".396" stop-color="#056de0"/><stop offset=".407" stop-color="#0265e1"/><stop offset=".463" stop-color="#0265e1"/><stop offset=".469" stop-color="#0c74dd"/><stop offset=".474" stop-color="#0e91d2"/><stop offset=".480" stop-color="#06a0cd"/><stop offset=".497" stop-color="#06a0cd"/><stop offset=".502" stop-color="#0c93d2"/><stop offset=".508" stop-color="#117bd9"/><stop offset=".513" stop-color="#0770df"/><stop offset=".547" stop-color="#0770df"/><stop offset=".553" stop-color="#137ed7"/><stop offset=".558" stop-color="#069fce"/><stop offset=".564" stop-color="#07aac1"/><stop offset=".570" stop-color="#069fce"/><stop offset=".575" stop-color="#137ed7"/><stop offset=".581" stop-color="#0770df"/><stop offset=".676" stop-color="#056de0"/><stop offset=".682" stop-color="#046ce0"/><stop offset=".687" stop-color="#0f78db"/><stop offset=".693" stop-color="#0d92d2"/><stop offset=".699" stop-color="#06a0cd"/><stop offset=".710" stop-color="#06a0cd"/><stop offset=".715" stop-color="#0c93d2"/><stop offset=".721" stop-color="#117bd9"/><stop offset=".727" stop-color="#0770df"/><stop offset=".777" stop-color="#0770df"/><stop offset=".783" stop-color="#117bd9"/><stop offset=".788" stop-color="#0c93d2"/><stop offset=".794" stop-color="#06a0cd"/><stop offset=".800" stop-color="#06a0cd"/><stop offset=".805" stop-color="#0c93d2"/><stop offset=".811" stop-color="#117bd9"/><stop offset=".816" stop-color="#0770df"/><stop offset=".839" stop-color="#0770df"/><stop offset=".845" stop-color="#1484d4"/><stop offset=".850" stop-color="#0cadbc"/><stop offset=".856" stop-color="#35b8a0"/><stop offset=".861" stop-color="#35b8a0"/><stop offset=".867" stop-color="#0dadbb"/><stop offset=".873" stop-color="#1487d3"/><stop offset=".878" stop-color="#0a72de"/><stop offset="1" stop-color="#0a72de"/></linearGradient><linearGradient id="d4" gradientUnits="userSpaceOnUse" x1="288.4" y1="0" x2="508.5" y2="0"><stop offset=".003" stop-color="#0770df"/><stop offset=".048" stop-color="#0770df"/><stop offset=".065" stop-color="#1459db"/><stop offset=".070" stop-color="#1459db"/><stop offset=".076" stop-color="#0d76dc"/><stop offset=".081" stop-color="#06a4c9"/><stop offset=".087" stop-color="#1ab2b1"/><stop offset=".121" stop-color="#1ab2b1"/><stop offset=".126" stop-color="#06a7c5"/><stop offset=".132" stop-color="#1483d5"/><stop offset=".137" stop-color="#0a72de"/><stop offset=".255" stop-color="#066fdf"/><stop offset=".283" stop-color="#036be0"/><stop offset=".300" stop-color="#036be0"/><stop offset=".306" stop-color="#0c74dd"/><stop offset=".311" stop-color="#1484d4"/><stop offset=".317" stop-color="#108ed2"/><stop offset=".334" stop-color="#0e91d2"/><stop offset=".345" stop-color="#079ecf"/><stop offset=".368" stop-color="#06a0cd"/><stop offset=".373" stop-color="#0c93d2"/><stop offset=".379" stop-color="#117bd9"/><stop offset=".384" stop-color="#0770df"/><stop offset=".407" stop-color="#0770df"/><stop offset=".424" stop-color="#0661e0"/><stop offset=".469" stop-color="#0661e0"/><stop offset=".474" stop-color="#0972de"/><stop offset=".480" stop-color="#0f90d2"/><stop offset=".485" stop-color="#06a0cd"/><stop offset=".502" stop-color="#06a0cd"/><stop offset=".508" stop-color="#0c94d2"/><stop offset=".513" stop-color="#127cd8"/><stop offset=".519" stop-color="#0a72de"/><stop offset=".547" stop-color="#0a72de"/><stop offset=".553" stop-color="#127cd8"/><stop offset=".558" stop-color="#0c94d2"/><stop offset=".564" stop-color="#06a0cd"/><stop offset=".570" stop-color="#06a0cd"/><stop offset=".575" stop-color="#0c94d2"/><stop offset=".581" stop-color="#127cd8"/><stop offset=".586" stop-color="#0a72de"/><stop offset=".671" stop-color="#0871de"/><stop offset=".682" stop-color="#0267e1"/><stop offset=".687" stop-color="#0870df"/><stop offset=".693" stop-color="#1483d5"/><stop offset=".699" stop-color="#108ed2"/><stop offset=".721" stop-color="#108ed2"/><stop offset=".727" stop-color="#1486d4"/><stop offset=".732" stop-color="#0e77db"/><stop offset=".738" stop-color="#0770df"/><stop offset=".777" stop-color="#0770df"/><stop offset=".783" stop-color="#117bd9"/><stop offset=".788" stop-color="#0c93d2"/><stop offset=".794" stop-color="#06a0cd"/><stop offset=".805" stop-color="#06a0cd"/><stop offset=".811" stop-color="#0c93d2"/><stop offset=".816" stop-color="#117bd9"/><stop offset=".822" stop-color="#0770df"/><stop offset=".845" stop-color="#0770df"/><stop offset=".850" stop-color="#1484d4"/><stop offset=".856" stop-color="#0cadbc"/><stop offset=".861" stop-color="#35b8a0"/><stop offset=".867" stop-color="#35b8a0"/><stop offset=".873" stop-color="#0faeb9"/><stop offset=".878" stop-color="#128bd3"/><stop offset=".884" stop-color="#0e77db"/><stop offset="1" stop-color="#0e77db"/></linearGradient><linearGradient id="d5" gradientUnits="userSpaceOnUse" x1="288.4" y1="0" x2="508.5" y2="0"><stop offset=".003" stop-color="#0a72de"/><stop offset=".087" stop-color="#0a72de"/><stop offset=".093" stop-color="#1487d3"/><stop offset=".098" stop-color="#0dadbb"/><stop offset=".104" stop-color="#35b8a0"/><stop offset=".132" stop-color="#35b8a0"/><stop offset=".137" stop-color="#0dadbb"/><stop offset=".143" stop-color="#1487d3"/><stop offset=".149" stop-color="#0a72de"/><stop offset=".177" stop-color="#0a72de"/><stop offset=".194" stop-color="#0265e1"/><stop offset=".205" stop-color="#0265e1"/><stop offset=".210" stop-color="#046ce0"/><stop offset=".216" stop-color="#0f78db"/><stop offset=".222" stop-color="#137ed7"/><stop offset=".261" stop-color="#137ed7"/><stop offset=".278" stop-color="#0a72de"/><stop offset=".311" stop-color="#0a72de"/><stop offset=".317" stop-color="#1079da"/><stop offset=".323" stop-color="#1486d3"/><stop offset=".328" stop-color="#108ed2"/><stop offset=".340" stop-color="#0998d1"/><stop offset=".351" stop-color="#06a0cd"/><stop offset=".379" stop-color="#06a0cd"/><stop offset=".384" stop-color="#0c94d2"/><stop offset=".390" stop-color="#127cd8"/><stop offset=".396" stop-color="#0a72de"/><stop offset=".424" stop-color="#0a72de"/><stop offset=".429" stop-color="#056ee0"/><stop offset=".435" stop-color="#0462e0"/><stop offset=".441" stop-color="#1459db"/><stop offset=".463" stop-color="#1459db"/><stop offset=".469" stop-color="#0462e0"/><stop offset=".474" stop-color="#056ee0"/><stop offset=".480" stop-color="#0a72de"/><stop offset=".485" stop-color="#1480d6"/><stop offset=".491" stop-color="#069fce"/><stop offset=".497" stop-color="#07aac1"/><stop offset=".519" stop-color="#07aac1"/><stop offset=".525" stop-color="#06a2cb"/><stop offset=".530" stop-color="#1389d3"/><stop offset=".536" stop-color="#137ed7"/><stop offset=".564" stop-color="#137ed7"/><stop offset=".581" stop-color="#108ed2"/><stop offset=".609" stop-color="#108ed2"/><stop offset=".626" stop-color="#137ed7"/><stop offset=".665" stop-color="#137ed7"/><stop offset=".671" stop-color="#117bd9"/><stop offset=".682" stop-color="#056de0"/><stop offset=".687" stop-color="#036be0"/><stop offset=".693" stop-color="#0f78db"/><stop offset=".699" stop-color="#0d92d2"/><stop offset=".704" stop-color="#06a0cd"/><stop offset=".732" stop-color="#06a0cd"/><stop offset=".738" stop-color="#0c93d2"/><stop offset=".744" stop-color="#117bd9"/><stop offset=".749" stop-color="#0770df"/><stop offset=".777" stop-color="#0770df"/><stop offset=".783" stop-color="#0e77db"/><stop offset=".788" stop-color="#1486d4"/><stop offset=".794" stop-color="#108ed2"/><stop offset=".811" stop-color="#108ed2"/><stop offset=".816" stop-color="#1486d3"/><stop offset=".822" stop-color="#1079da"/><stop offset=".828" stop-color="#0a72de"/><stop offset=".850" stop-color="#0a72de"/><stop offset=".856" stop-color="#128ad3"/><stop offset=".861" stop-color="#1db3af"/><stop offset=".867" stop-color="#57bd8c"/><stop offset=".878" stop-color="#57bd8c"/><stop offset=".884" stop-color="#23b4ab"/><stop offset=".889" stop-color="#0b95d1"/><stop offset=".895" stop-color="#137ed7"/><stop offset=".923" stop-color="#137ed7"/><stop offset=".940" stop-color="#0770df"/><stop offset=".946" stop-color="#0770df"/><stop offset=".951" stop-color="#0e77db"/><stop offset=".957" stop-color="#1486d4"/><stop offset=".962" stop-color="#108ed2"/><stop offset="1" stop-color="#108ed2"/></linearGradient><linearGradient id="d6" gradientUnits="userSpaceOnUse" x1="288.4" y1="0" x2="508.5" y2="0"><stop offset=".003" stop-color="#0268e1"/><stop offset=".059" stop-color="#0268e1"/><stop offset=".076" stop-color="#2b4bc7"/><stop offset=".098" stop-color="#2b4bc7"/><stop offset=".104" stop-color="#1857d8"/><stop offset=".109" stop-color="#0269e1"/><stop offset=".126" stop-color="#0d75dc"/><stop offset=".149" stop-color="#0d75dc"/><stop offset=".160" stop-color="#036be0"/><stop offset=".171" stop-color="#1459db"/><stop offset=".210" stop-color="#0c5ede"/><stop offset=".222" stop-color="#0268e1"/><stop offset=".278" stop-color="#0268e1"/><stop offset=".295" stop-color="#2b4bc7"/><stop offset=".334" stop-color="#254fce"/><stop offset=".345" stop-color="#0266e1"/><stop offset=".407" stop-color="#0269e1"/><stop offset=".412" stop-color="#0462e1"/><stop offset=".418" stop-color="#264ecc"/><stop offset=".424" stop-color="#3145bc"/><stop offset=".491" stop-color="#3145bc"/><stop offset=".497" stop-color="#264fcd"/><stop offset=".502" stop-color="#0363e1"/><stop offset=".508" stop-color="#036ae1"/><stop offset=".570" stop-color="#0268e1"/><stop offset=".586" stop-color="#0661e0"/><stop offset=".671" stop-color="#0860df"/><stop offset=".693" stop-color="#1956d7"/><stop offset=".715" stop-color="#1956d7"/><stop offset=".732" stop-color="#0268e1"/><stop offset=".760" stop-color="#0265e1"/><stop offset=".772" stop-color="#1459db"/><stop offset=".805" stop-color="#0d5dde"/><stop offset=".822" stop-color="#0265e1"/><stop offset=".856" stop-color="#0268e1"/><stop offset=".867" stop-color="#0770df"/><stop offset=".901" stop-color="#0770df"/><stop offset=".906" stop-color="#036ae1"/><stop offset=".912" stop-color="#105bdd"/><stop offset=".918" stop-color="#2350d0"/><stop offset=".957" stop-color="#1c55d6"/><stop offset=".968" stop-color="#0661e0"/><stop offset="1" stop-color="#0661e0"/></linearGradient><linearGradient id="d7" gradientUnits="userSpaceOnUse" x1="288.4" y1="0" x2="508.5" y2="0"><stop offset=".003" stop-color="#0268e1"/><stop offset=".059" stop-color="#0268e1"/><stop offset=".065" stop-color="#0661e0"/><stop offset=".070" stop-color="#274ecc"/><stop offset=".076" stop-color="#3145bc"/><stop offset=".126" stop-color="#3145bc"/><stop offset=".132" stop-color="#254fce"/><stop offset=".137" stop-color="#0364e1"/><stop offset=".143" stop-color="#036be0"/><stop offset=".182" stop-color="#036be0"/><stop offset=".188" stop-color="#0266e1"/><stop offset=".194" stop-color="#1d54d6"/><stop offset=".199" stop-color="#2b4bc7"/><stop offset=".227" stop-color="#264ecd"/><stop offset=".244" stop-color="#1459db"/><stop offset=".283" stop-color="#1459db"/><stop offset=".300" stop-color="#3145bc"/><stop offset=".345" stop-color="#2c4ac6"/><stop offset=".362" stop-color="#0269e1"/><stop offset=".435" stop-color="#0269e1"/><stop offset=".441" stop-color="#0761e0"/><stop offset=".446" stop-color="#2d49c4"/><stop offset=".452" stop-color="#343fb1"/><stop offset=".502" stop-color="#343fb1"/><stop offset=".508" stop-color="#2d49c3"/><stop offset=".513" stop-color="#095fdf"/><stop offset=".519" stop-color="#0268e1"/><stop offset=".592" stop-color="#0265e1"/><stop offset=".609" stop-color="#0e5cde"/><stop offset=".671" stop-color="#0c5dde"/><stop offset=".687" stop-color="#0265e1"/><stop offset=".693" stop-color="#0b5edf"/><stop offset=".699" stop-color="#294cca"/><stop offset=".704" stop-color="#3145bc"/><stop offset=".721" stop-color="#3145bc"/><stop offset=".738" stop-color="#0e5cde"/><stop offset=".805" stop-color="#1758d9"/><stop offset=".816" stop-color="#2b4bc7"/><stop offset=".861" stop-color="#2b4bc7"/><stop offset=".867" stop-color="#1b55d6"/><stop offset=".873" stop-color="#0267e1"/><stop offset=".878" stop-color="#046de0"/><stop offset=".923" stop-color="#046de0"/><stop offset=".929" stop-color="#0267e1"/><stop offset=".934" stop-color="#1b55d6"/><stop offset=".940" stop-color="#2b4bc7"/><stop offset="1" stop-color="#2b4bc7"/></linearGradient><linearGradient id="d8" gradientUnits="userSpaceOnUse" x1="288.4" y1="0" x2="508.5" y2="0"><stop offset=".003" stop-color="#2b4bc7"/><stop offset=".059" stop-color="#2b4bc7"/><stop offset=".076" stop-color="#3638a2"/><stop offset=".132" stop-color="#3638a2"/><stop offset=".149" stop-color="#2350d0"/><stop offset=".182" stop-color="#2350d0"/><stop offset=".199" stop-color="#3639a5"/><stop offset=".233" stop-color="#353cab"/><stop offset=".250" stop-color="#3145bc"/><stop offset=".300" stop-color="#3342b6"/><stop offset=".317" stop-color="#3639a5"/><stop offset=".368" stop-color="#3639a5"/><stop offset=".384" stop-color="#2350d0"/><stop offset=".446" stop-color="#2350d0"/><stop offset=".463" stop-color="#3638a2"/><stop offset=".508" stop-color="#3638a2"/><stop offset=".525" stop-color="#2b4bc7"/><stop offset=".581" stop-color="#2e48c2"/><stop offset=".598" stop-color="#343fb1"/><stop offset=".676" stop-color="#3342b7"/><stop offset=".693" stop-color="#3342b6"/><stop offset=".710" stop-color="#3639a5"/><stop offset=".783" stop-color="#343fb1"/><stop offset=".828" stop-color="#3639a5"/><stop offset=".867" stop-color="#3639a5"/><stop offset=".884" stop-color="#2350d0"/><stop offset=".934" stop-color="#2350d0"/><stop offset=".951" stop-color="#353cac"/><stop offset="1" stop-color="#353cac"/></linearGradient><linearGradient id="d9" gradientUnits="userSpaceOnUse" x1="288.4" y1="0" x2="508.5" y2="0"><stop offset=".003" stop-color="#363398"/><stop offset=".137" stop-color="#36349a"/><stop offset=".182" stop-color="#3638a2"/><stop offset=".222" stop-color="#363398"/><stop offset=".424" stop-color="#3637a1"/><stop offset=".441" stop-color="#343fb1"/><stop offset=".480" stop-color="#353cab"/><stop offset=".491" stop-color="#363398"/><stop offset=".884" stop-color="#36369f"/><stop offset=".912" stop-color="#353ba9"/><stop offset=".951" stop-color="#3639a5"/><stop offset=".985" stop-color="#36359c"/><stop offset="1" stop-color="#36359c"/></linearGradient><linearGradient id="d10" gradientUnits="userSpaceOnUse" x1="288.4" y1="0" x2="508.5" y2="0"><stop offset=".003" stop-color="#363093"/><stop offset=".407" stop-color="#363398"/><stop offset=".485" stop-color="#363093"/><stop offset="1" stop-color="#363092"/></linearGradient><linearGradient id="d11" gradientUnits="userSpaceOnUse" x1="288.4" y1="0" x2="508.5" y2="0"><stop offset=".003" stop-color="#352c8a"/><stop offset="1" stop-color="#352c8a"/></linearGradient><linearGradient id="d12" gradientUnits="userSpaceOnUse" x1="288.4" y1="0" x2="508.5" y2="0"><stop offset=".003" stop-color="#352b88"/><stop offset="1" stop-color="#352b88"/></linearGradient><filter id="bl" x="-5%" y="-5%" width="110%" height="110%"><feGaussianBlur stdDeviation="0.45"/></filter><linearGradient id="cb" x1="0" y1="0" x2="0" y2="1"><stop offset="0" stop-color="#ecb43e"/><stop offset="0.31" stop-color="#55b98c"/><stop offset="0.74" stop-color="#322d8c"/><stop offset="1" stop-color="#322d8c"/></linearGradient></defs><g font-family="Liberation Sans, sans-serif"><path d="M313.1 8.6V203.8M337.8 8.6V203.8M362.5 8.6V203.8M387.2 8.6V203.8M411.9 8.6V203.8M436.6 8.6V203.8M461.3 8.6V203.8M486 8.6V203.8M510.7 8.6V203.8M288.4 175.9H510.7M288.4 148.1H510.7M288.4 120.2H510.7M288.4 92.2H510.7M288.4 64.3H510.7M288.4 36.5H510.7M288.4 8.6H510.7" stroke="#dcdcdc" stroke-width="0.7" fill="none"/>
<g filter="url(#bl)">
<rect x="288.4" y="175.95" width="220.1" height="14.55" fill="url(#b1)"/>
<rect x="288.4" y="162.00" width="220.1" height="14.55" fill="url(#b2)"/>
<rect x="288.4" y="148.05" width="220.1" height="14.55" fill="url(#b3)"/>
<rect x="288.4" y="134.10" width="220.1" height="14.55" fill="url(#b4)"/>
<rect x="288.4" y="120.15" width="220.1" height="14.55" fill="url(#b5)"/>
<rect x="288.4" y="106.20" width="220.1" height="14.55" fill="url(#b6)"/>
<rect x="288.4" y="92.25" width="220.1" height="14.55" fill="url(#b7)"/>
<rect x="288.4" y="78.30" width="220.1" height="14.55" fill="url(#b8)"/>
<rect x="288.4" y="64.35" width="220.1" height="14.55" fill="url(#b9)"/>
<rect x="288.4" y="50.40" width="220.1" height="14.55" fill="url(#b10)"/>
<rect x="288.4" y="36.45" width="220.1" height="14.55" fill="url(#b11)"/>
<rect x="288.4" y="22.50" width="220.1" height="14.55" fill="url(#b12)"/>
</g>
<path d="M288.4 8.6V203.8H510.7" stroke="#555" stroke-width="0.8" fill="none"/>
<path d="M288.4 203.8v-2.2M313.1 203.8v-2.2M337.8 203.8v-2.2M362.5 203.8v-2.2M387.2 203.8v-2.2M411.9 203.8v-2.2M436.6 203.8v-2.2M461.3 203.8v-2.2M486 203.8v-2.2M510.7 203.8v-2.2M288.4 203.8h2.2M288.4 175.9h2.2M288.4 148.1h2.2M288.4 120.2h2.2M288.4 92.2h2.2M288.4 64.3h2.2M288.4 36.5h2.2M288.4 8.6h2.2" stroke="#555" stroke-width="0.7" fill="none"/>
<text x="288.4" y="214" font-size="6.2" text-anchor="middle" fill="#404040" >0</text>
<text x="313.1" y="214" font-size="6.2" text-anchor="middle" fill="#404040" >50</text>
<text x="337.8" y="214" font-size="6.2" text-anchor="middle" fill="#404040" >100</text>
<text x="362.5" y="214" font-size="6.2" text-anchor="middle" fill="#404040" >150</text>
<text x="387.2" y="214" font-size="6.2" text-anchor="middle" fill="#404040" >200</text>
<text x="411.9" y="214" font-size="6.2" text-anchor="middle" fill="#404040" >250</text>
<text x="436.6" y="214" font-size="6.2" text-anchor="middle" fill="#404040" >300</text>
<text x="461.3" y="214" font-size="6.2" text-anchor="middle" fill="#404040" >350</text>
<text x="486" y="214" font-size="6.2" text-anchor="middle" fill="#404040" >400</text>
<text x="510.7" y="214" font-size="6.2" text-anchor="middle" fill="#404040" >450</text>
<text x="285.8" y="206" font-size="6.2" text-anchor="end" fill="#404040" >0</text>
<text x="285.8" y="178.1" font-size="6.2" text-anchor="end" fill="#404040" >2</text>
<text x="285.8" y="150.2" font-size="6.2" text-anchor="end" fill="#404040" >4</text>
<text x="285.8" y="122.4" font-size="6.2" text-anchor="end" fill="#404040" >6</text>
<text x="285.8" y="94.5" font-size="6.2" text-anchor="end" fill="#404040" >8</text>
<text x="285.8" y="66.5" font-size="6.2" text-anchor="end" fill="#404040" >10</text>
<text x="285.8" y="38.7" font-size="6.2" text-anchor="end" fill="#404040" >12</text>
<text x="285.8" y="10.8" font-size="6.2" text-anchor="end" fill="#404040" >14</text>
<text x="399.5" y="224.8" font-size="6.7" text-anchor="middle" fill="#404040" >time</text>
<text transform="translate(274.2 106.2) rotate(-90)" font-size="6.7" text-anchor="middle" fill="#404040">drop size</text>
<path d="M313.1 247.2V429.2M337.8 247.2V429.2M362.5 247.2V429.2M387.2 247.2V429.2M411.9 247.2V429.2M436.6 247.2V429.2M461.3 247.2V429.2M486 247.2V429.2M510.7 247.2V429.2M288.4 403.2H510.7M288.4 377.2H510.7M288.4 351.2H510.7M288.4 325.2H510.7M288.4 299.2H510.7M288.4 273.2H510.7M288.4 247.2H510.7" stroke="#dcdcdc" stroke-width="0.7" fill="none"/>
<g filter="url(#bl)">
<rect x="288.4" y="403.20" width="220.1" height="13.60" fill="url(#d1)"/>
<rect x="288.4" y="390.20" width="220.1" height="13.60" fill="url(#d2)"/>
<rect x="288.4" y="377.20" width="220.1" height="13.60" fill="url(#d3)"/>
<rect x="288.4" y="364.20" width="220.1" height="13.60" fill="url(#d4)"/>
<rect x="288.4" y="351.20" width="220.1" height="13.60" fill="url(#d5)"/>
<rect x="288.4" y="338.20" width="220.1" height="13.60" fill="url(#d6)"/>
<rect x="288.4" y="325.20" width="220.1" height="13.60" fill="url(#d7)"/>
<rect x="288.4" y="312.20" width="220.1" height="13.60" fill="url(#d8)"/>
<rect x="288.4" y="299.20" width="220.1" height="13.60" fill="url(#d9)"/>
<rect x="288.4" y="286.20" width="220.1" height="13.60" fill="url(#d10)"/>
<rect x="288.4" y="273.20" width="220.1" height="13.60" fill="url(#d11)"/>
<rect x="288.4" y="260.20" width="220.1" height="13.60" fill="url(#d12)"/>
</g>
<path d="M288.4 247.2V429.2H510.7" stroke="#555" stroke-width="0.8" fill="none"/>
<path d="M288.4 429.2v-2.2M313.1 429.2v-2.2M337.8 429.2v-2.2M362.5 429.2v-2.2M387.2 429.2v-2.2M411.9 429.2v-2.2M436.6 429.2v-2.2M461.3 429.2v-2.2M486 429.2v-2.2M510.7 429.2v-2.2M288.4 429.2h2.2M288.4 403.2h2.2M288.4 377.2h2.2M288.4 351.2h2.2M288.4 325.2h2.2M288.4 299.2h2.2M288.4 273.2h2.2M288.4 247.2h2.2" stroke="#555" stroke-width="0.7" fill="none"/>
<text x="288.4" y="439.4" font-size="6.2" text-anchor="middle" fill="#404040" >0</text>
<text x="313.1" y="439.4" font-size="6.2" text-anchor="middle" fill="#404040" >50</text>
<text x="337.8" y="439.4" font-size="6.2" text-anchor="middle" fill="#404040" >100</text>
<text x="362.5" y="439.4" font-size="6.2" text-anchor="middle" fill="#404040" >150</text>
<text x="387.2" y="439.4" font-size="6.2" text-anchor="middle" fill="#404040" >200</text>
<text x="411.9" y="439.4" font-size="6.2" text-anchor="middle" fill="#404040" >250</text>
<text x="436.6" y="439.4" font-size="6.2" text-anchor="middle" fill="#404040" >300</text>
<text x="461.3" y="439.4" font-size="6.2" text-anchor="middle" fill="#404040" >350</text>
<text x="486" y="439.4" font-size="6.2" text-anchor="middle" fill="#404040" >400</text>
<text x="510.7" y="439.4" font-size="6.2" text-anchor="middle" fill="#404040" >450</text>
<text x="285.8" y="431.4" font-size="6.2" text-anchor="end" fill="#404040" >0</text>
<text x="285.8" y="405.4" font-size="6.2" text-anchor="end" fill="#404040" >2</text>
<text x="285.8" y="379.4" font-size="6.2" text-anchor="end" fill="#404040" >4</text>
<text x="285.8" y="353.4" font-size="6.2" text-anchor="end" fill="#404040" >6</text>
<text x="285.8" y="327.4" font-size="6.2" text-anchor="end" fill="#404040" >8</text>
<text x="285.8" y="301.4" font-size="6.2" text-anchor="end" fill="#404040" >10</text>
<text x="285.8" y="275.4" font-size="6.2" text-anchor="end" fill="#404040" >12</text>
<text x="285.8" y="249.4" font-size="6.2" text-anchor="end" fill="#404040" >14</text>
<text x="399.5" y="450.2" font-size="6.7" text-anchor="middle" fill="#404040" >time</text>
<text transform="translate(274.2 338.2) rotate(-90)" font-size="6.7" text-anchor="middle" fill="#404040">drop size</text>
<rect x="522.4" y="25.3" width="17" height="165.2" fill="url(#cb)"/>
<text x="531" y="18.6" font-size="10" text-anchor="middle" fill="#111" font-family="Liberation Serif, serif">15</text>
<text x="531" y="203.3" font-size="10" text-anchor="middle" fill="#111" font-family="Liberation Serif, serif">0</text>
<rect x="522.4" y="254.2" width="17" height="165.1" fill="url(#cb)"/>
<text x="531" y="247.5" font-size="10" text-anchor="middle" fill="#111" font-family="Liberation Serif, serif">15</text>
<text x="531" y="432.3" font-size="10" text-anchor="middle" fill="#111" font-family="Liberation Serif, serif">0</text>
<path d="M112.9 205.6L51 150.4L51 73.1M139.2 200.5L77.3 145.3L77.3 68.1M165.5 195.4L103.6 140.2L103.6 63M191.7 190.4L129.8 135.2L129.8 57.9M218 185.3L156.1 130.1L156.1 52.8M244.3 180.2L182.4 125L182.4 47.7M112.9 205.6L244.3 180.2L244.3 102.9M92.3 187.2L223.7 161.8L223.7 84.5M71.6 168.8L203 143.4L203 66.1M51 150.4L182.4 125L182.4 47.7M51 150.4L182.4 125L244.3 180.2M51 124.6L182.4 99.2L244.3 154.4M51 98.9L182.4 73.5L244.3 128.7M51 73.1L182.4 47.7L244.3 102.9" stroke="#dcdcdc" stroke-width="0.7" fill="none"/>
<g class="pa" filter="url(#bl)" fill="none" stroke-width="1.1" stroke-linecap="round" stroke-linejoin="round"><path class="w" d="M225.7 179.3L225.7 168.7L221.6 173.1L217.5 160.6L213.3 154.4L209.2 138.5L205.1 139.3L201 139.7L196.8 131.9L192.7 120.5L188.6 120.4L184.5 128.6L180.3 124.9L176.2 135.2L176.2 135.2Z"/><path class="k" d="M225.7 179.3L225.7 168.7"/><path class="q4" d="M225.7 168.7L223.7 170.9"/><path class="q2" d="M223.7 170.9L221.6 173.1L219.5 166.8"/><path class="q5" d="M219.5 166.8L217.5 160.6"/><path class="q7" d="M217.5 160.6L213.3 154.4"/><path class="q10" d="M213.3 154.4L211.3 146.5"/><path class="q14" d="M211.3 146.5L209.2 138.5L205.1 139.3"/><path class="q11" d="M205.1 139.3L201 139.7L196.8 131.9"/><path class="q14" d="M196.8 131.9L194.8 126.2"/><path class="q17" d="M194.8 126.2L192.7 120.5L188.6 120.4"/><path class="q13" d="M188.6 120.4L186.5 124.5"/><path class="q10" d="M186.5 124.5L184.5 128.6"/><path class="q8" d="M184.5 128.6L180.3 124.9"/><path class="q6" d="M180.3 124.9L179 128.3"/><path class="q3" d="M179 128.3L177.6 131.7"/><path class="q0" d="M177.6 131.7L176.2 135.2"/><path class="w" d="M224.4 179.6L224.4 168.9L220.3 173.2L216.2 160.9L212 154.5L207.9 136.1L203.8 139.5L199.6 140L195.5 132.2L191.4 120.8L187.3 120.7L183.1 128.9L179 125.2L174.9 135.4L174.9 135.4Z"/><path class="k" d="M224.4 179.6L224.4 168.9"/><path class="q4" d="M224.4 168.9L222.3 171.1"/><path class="q2" d="M222.3 171.1L220.3 173.2L218.2 167.1"/><path class="q5" d="M218.2 167.1L216.2 160.9"/><path class="q7" d="M216.2 160.9L212 154.5"/><path class="q9" d="M212 154.5L210.6 148.3"/><path class="q13" d="M210.6 148.3L209.3 142.2"/><path class="q16" d="M209.3 142.2L207.9 136.1L205.8 137.8"/><path class="q14" d="M205.8 137.8L203.8 139.5"/><path class="q11" d="M203.8 139.5L199.6 140L195.5 132.2"/><path class="q14" d="M195.5 132.2L193.5 126.5"/><path class="q17" d="M193.5 126.5L191.4 120.8L187.3 120.7"/><path class="q13" d="M187.3 120.7L185.2 124.8"/><path class="q10" d="M185.2 124.8L183.1 128.9"/><path class="q8" d="M183.1 128.9L179 125.2"/><path class="q6" d="M179 125.2L177.6 128.6"/><path class="q3" d="M177.6 128.6L176.3 132"/><path class="q0" d="M176.3 132L174.9 135.4"/><path class="w" d="M223.1 179.8L223.1 169.2L219 172.8L214.8 161.1L210.7 153.2L206.6 131.2L202.5 140.5L198.3 140.2L194.2 132.4L190.1 119.6L186 120.3L181.8 129.1L177.7 125.5L173.6 135.7L173.6 135.7Z"/><path class="k" d="M223.1 179.8L223.1 169.2"/><path class="q4" d="M223.1 169.2L221 171"/><path class="q2" d="M221 171L219 172.8L216.9 166.9"/><path class="q5" d="M216.9 166.9L214.8 161.1"/><path class="q7" d="M214.8 161.1L210.7 153.2"/><path class="q11" d="M210.7 153.2L209.3 145.8"/><path class="q15" d="M209.3 145.8L208 138.5"/><path class="q19" d="M208 138.5L206.6 131.2L204.5 135.8"/><path class="q14" d="M204.5 135.8L202.5 140.5"/><path class="q11" d="M202.5 140.5L198.3 140.2L194.2 132.4"/><path class="q14" d="M194.2 132.4L192.1 126"/><path class="q17" d="M192.1 126L190.1 119.6L186 120.3"/><path class="q14" d="M186 120.3L183.9 124.7"/><path class="q10" d="M183.9 124.7L181.8 129.1"/><path class="q8" d="M181.8 129.1L177.7 125.5"/><path class="q6" d="M177.7 125.5L176.3 128.9"/><path class="q3" d="M176.3 128.9L174.9 132.3"/><path class="q0" d="M174.9 132.3L173.6 135.7"/><path class="w" d="M221.8 180.1L221.8 169.4L217.7 171.7L213.5 161.4L209.4 150.5L205.3 127.2L201.1 143.1L197 140.5L192.9 132.7L188.8 115L184.6 118.4L180.5 129.4L176.4 126.7L172.3 135.9L172.3 135.9Z"/><path class="k" d="M221.8 180.1L221.8 169.4"/><path class="q4" d="M221.8 169.4L217.7 171.7L213.5 161.4"/><path class="q7" d="M213.5 161.4L211.5 155.9"/><path class="q10" d="M211.5 155.9L209.4 150.5"/><path class="q13" d="M209.4 150.5L208 142.7"/><path class="q17" d="M208 142.7L206.6 134.9"/><path class="q21" d="M206.6 134.9L205.3 127.2L203.9 132.5"/><path class="q17" d="M203.9 132.5L202.5 137.8"/><path class="q13" d="M202.5 137.8L201.1 143.1"/><path class="q10" d="M201.1 143.1L197 140.5"/><path class="q11" d="M197 140.5L192.9 132.7"/><path class="q14" d="M192.9 132.7L191.5 126.8"/><path class="q17" d="M191.5 126.8L190.1 120.9"/><path class="q20" d="M190.1 120.9L188.8 115"/><path class="q21" d="M188.8 115L186.7 116.7"/><path class="q18" d="M186.7 116.7L184.6 118.4"/><path class="q16" d="M184.6 118.4L183.3 122.1"/><path class="q12" d="M183.3 122.1L181.9 125.7"/><path class="q9" d="M181.9 125.7L180.5 129.4"/><path class="q7" d="M180.5 129.4L176.4 126.7"/><path class="q5" d="M176.4 126.7L174.3 131.3"/><path class="q1" d="M174.3 131.3L172.3 135.9"/><path class="w" d="M220.5 180.3L220.5 169.7L216.3 170.8L212.2 161.6L208.1 149L204 127.8L199.8 146.3L195.7 140.7L191.6 132.9L187.5 109.3L183.3 116.1L179.2 129.6L175.1 128.7L170.9 136.2L170.9 136.2Z"/><path class="k" d="M220.5 180.3L220.5 169.7"/><path class="q4" d="M220.5 169.7L216.3 170.8L212.2 161.6"/><path class="q7" d="M212.2 161.6L210.1 155.3"/><path class="q10" d="M210.1 155.3L208.1 149"/><path class="q14" d="M208.1 149L206.7 142"/><path class="q18" d="M206.7 142L205.3 134.9"/><path class="q21" d="M205.3 134.9L204 127.8L202.9 132.4"/><path class="q18" d="M202.9 132.4L201.9 137.1"/><path class="q14" d="M201.9 137.1L200.9 141.7"/><path class="q11" d="M200.9 141.7L199.8 146.3"/><path class="q9" d="M199.8 146.3L195.7 140.7"/><path class="q11" d="M195.7 140.7L191.6 132.9"/><path class="q15" d="M191.6 132.9L190.2 125.1"/><path class="q19" d="M190.2 125.1L188.8 117.2"/><path class="q23" d="M188.8 117.2L187.5 109.3"/><path class="q24" d="M187.5 109.3L185.4 112.7"/><path class="q21" d="M185.4 112.7L183.3 116.1"/><path class="q17" d="M183.3 116.1L181.9 120.6"/><path class="q13" d="M181.9 120.6L180.6 125.1"/><path class="q10" d="M180.6 125.1L179.2 129.6"/><path class="q7" d="M179.2 129.6L175.1 128.7"/><path class="q4" d="M175.1 128.7L173 132.4"/><path class="q0" d="M173 132.4L170.9 136.2"/><path class="w" d="M219.1 180.6L219.1 169.9L215 170.7L210.9 161.9L206.8 151L202.6 133.6L198.5 148.1L194.4 140L190.3 131.3L186.1 106.4L182 116.3L177.9 129.9L173.8 130.4L169.6 136.4L169.6 136.4Z"/><path class="k" d="M219.1 180.6L219.1 169.9"/><path class="q4" d="M219.1 169.9L215 170.7L210.9 161.9"/><path class="q7" d="M210.9 161.9L208.8 156.4"/><path class="q10" d="M208.8 156.4L206.8 151"/><path class="q12" d="M206.8 151L205.4 145.2"/><path class="q15" d="M205.4 145.2L204 139.4"/><path class="q18" d="M204 139.4L202.6 133.6L201.3 138.4"/><path class="q14" d="M201.3 138.4L199.9 143.3"/><path class="q10" d="M199.9 143.3L198.5 148.1"/><path class="q9" d="M198.5 148.1L194.4 140"/><path class="q12" d="M194.4 140L190.3 131.3"/><path class="q16" d="M190.3 131.3L189.2 125.1"/><path class="q19" d="M189.2 125.1L188.2 118.9"/><path class="q22" d="M188.2 118.9L187.2 112.7"/><path class="q26" d="M187.2 112.7L186.1 106.4L184.8 109.7"/><path class="q23" d="M184.8 109.7L183.4 113"/><path class="q20" d="M183.4 113L182 116.3"/><path class="q17" d="M182 116.3L180.6 120.8"/><path class="q13" d="M180.6 120.8L179.3 125.3"/><path class="q10" d="M179.3 125.3L177.9 129.9"/><path class="q6" d="M177.9 129.9L173.8 130.4"/><path class="q3" d="M173.8 130.4L171.7 133.4"/><path class="q0" d="M171.7 133.4L169.6 136.4"/><path class="w" d="M217.8 180.8L217.8 170.2L213.7 171L209.6 162.1L205.5 154.2L201.3 140.5L197.2 148.5L193.1 131.5L188.9 125L184.8 106.3L180.7 121.1L176.6 130.1L172.4 131.7L168.3 136.7L168.3 136.7Z"/><path class="k" d="M217.8 180.8L217.8 170.2"/><path class="q4" d="M217.8 170.2L213.7 171L209.6 162.1"/><path class="q7" d="M209.6 162.1L205.5 154.2"/><path class="q10" d="M205.5 154.2L203.4 147.4"/><path class="q14" d="M203.4 147.4L201.3 140.5"/><path class="q13" d="M201.3 140.5L199.3 144.5"/><path class="q10" d="M199.3 144.5L197.2 148.5L195.1 140"/><path class="q14" d="M195.1 140L193.1 131.5"/><path class="q17" d="M193.1 131.5L188.9 125"/><path class="q20" d="M188.9 125L187.6 118.8"/><path class="q23" d="M187.6 118.8L186.2 112.6"/><path class="q26" d="M186.2 112.6L184.8 106.3L183.4 111.3"/><path class="q22" d="M183.4 111.3L182.1 116.2"/><path class="q18" d="M182.1 116.2L180.7 121.1"/><path class="q14" d="M180.7 121.1L178.6 125.6"/><path class="q10" d="M178.6 125.6L176.6 130.1"/><path class="q6" d="M176.6 130.1L172.4 131.7"/><path class="q3" d="M172.4 131.7L170.4 134.2"/><path class="q0" d="M170.4 134.2L168.3 136.7"/><path class="w" d="M216.5 181.1L216.5 170.4L212.4 171.2L208.3 162.4L204.1 156L200 144.3L195.9 148L191.8 115.1L187.6 117.3L183.5 106.6L179.4 127.1L175.3 130.4L171.1 134L167 136.9L167 136.9Z"/><path class="k" d="M216.5 181.1L216.5 170.4"/><path class="q4" d="M216.5 170.4L212.4 171.2L208.3 162.4"/><path class="q7" d="M208.3 162.4L204.1 156"/><path class="q9" d="M204.1 156L202.1 150.2"/><path class="q12" d="M202.1 150.2L200 144.3L198 146.2"/><path class="q9" d="M198 146.2L195.9 148"/><path class="q10" d="M195.9 148L195.1 141.5"/><path class="q14" d="M195.1 141.5L194.2 134.9"/><path class="q18" d="M194.2 134.9L193.4 128.3"/><path class="q21" d="M193.4 128.3L192.6 121.7"/><path class="q25" d="M192.6 121.7L191.8 115.1L187.6 117.3"/><path class="q24" d="M187.6 117.3L185.6 111.9"/><path class="q26" d="M185.6 111.9L183.5 106.6L182.5 111.7"/><path class="q22" d="M182.5 111.7L181.4 116.8"/><path class="q18" d="M181.4 116.8L180.4 122"/><path class="q14" d="M180.4 122L179.4 127.1"/><path class="q11" d="M179.4 127.1L177.3 128.7"/><path class="q9" d="M177.3 128.7L175.3 130.4"/><path class="q6" d="M175.3 130.4L173.2 132.2"/><path class="q4" d="M173.2 132.2L171.1 134"/><path class="q1" d="M171.1 134L167 136.9"/><path class="w" d="M215.2 181.3L215.2 170.7L211.1 171.5L207 162.7L202.8 156.4L198.7 145L194.6 141.6L190.4 101.6L186.3 113.3L182.2 106.8L178.1 130.4L173.9 130.6L169.8 136.8L165.7 137.2L165.7 137.2Z"/><path class="k" d="M215.2 181.3L215.2 170.7"/><path class="q4" d="M215.2 170.7L211.1 171.5L207 162.7"/><path class="q7" d="M207 162.7L202.8 156.4"/><path class="q9" d="M202.8 156.4L200.8 150.7"/><path class="q11" d="M200.8 150.7L198.7 145"/><path class="q13" d="M198.7 145L194.6 141.6"/><path class="q15" d="M194.6 141.6L193.9 134.9"/><path class="q18" d="M193.9 134.9L193.2 128.3"/><path class="q22" d="M193.2 128.3L192.5 121.6"/><path class="q26" d="M192.5 121.6L191.8 115"/><path class="q30" d="M191.8 115L191.1 108.3"/><path class="q33" d="M191.1 108.3L190.4 101.6"/><path class="q34" d="M190.4 101.6L189.1 105.5"/><path class="q30" d="M189.1 105.5L187.7 109.4"/><path class="q27" d="M187.7 109.4L186.3 113.3L182.2 106.8"/><path class="q26" d="M182.2 106.8L181.4 111.6"/><path class="q22" d="M181.4 111.6L180.5 116.3"/><path class="q19" d="M180.5 116.3L179.7 121"/><path class="q16" d="M179.7 121L178.9 125.7"/><path class="q12" d="M178.9 125.7L178.1 130.4"/><path class="q9" d="M178.1 130.4L173.9 130.6"/><path class="q6" d="M173.9 130.6L171.9 133.7"/><path class="q3" d="M171.9 133.7L169.8 136.8"/><path class="q0" d="M169.8 136.8L165.7 137.2"/><path class="w" d="M213.9 181.6L213.9 170.9L209.8 171.7L205.6 162.9L201.5 156.7L197.4 140.9L193.3 129.2L189.1 98L185 115.3L180.9 109.5L176.8 131L172.6 130.9L168.5 138.4L164.4 137.4L164.4 137.4Z"/><path class="k" d="M213.9 181.6L213.9 170.9"/><path class="q4" d="M213.9 170.9L209.8 171.7L205.6 162.9"/><path class="q7" d="M205.6 162.9L201.5 156.7"/><path class="q10" d="M201.5 156.7L199.5 148.8"/><path class="q14" d="M199.5 148.8L197.4 140.9"/><path class="q17" d="M197.4 140.9L195.3 135"/><path class="q19" d="M195.3 135L193.3 129.2"/><path class="q22" d="M193.3 129.2L192.4 123"/><path class="q26" d="M192.4 123L191.6 116.7"/><path class="q29" d="M191.6 116.7L190.8 110.5"/><path class="q32" d="M190.8 110.5L190 104.2"/><path class="q36" d="M190 104.2L189.1 98L188.1 102.3"/><path class="q33" d="M188.1 102.3L187.1 106.7"/><path class="q29" d="M187.1 106.7L186 111"/><path class="q26" d="M186 111L185 115.3"/><path class="q25" d="M185 115.3L180.9 109.5"/><path class="q24" d="M180.9 109.5L179.8 114.9"/><path class="q20" d="M179.8 114.9L178.8 120.3"/><path class="q16" d="M178.8 120.3L177.8 125.6"/><path class="q12" d="M177.8 125.6L176.8 131"/><path class="q9" d="M176.8 131L172.6 130.9"/><path class="q6" d="M172.6 130.9L170.6 134.6"/><path class="q2" d="M170.6 134.6L168.5 138.4"/><path class="q0" d="M168.5 138.4L164.4 137.4"/><path class="w" d="M212.6 181.9L212.6 171L208.5 172L204.3 162.9L200.2 154.6L196.1 125.7L191.9 119.6L187.8 101.8L183.7 123.4L179.6 118.4L175.4 131.2L171.3 131.8L167.2 138.8L163.1 137.7L163.1 137.7Z"/><path class="k" d="M212.6 181.9L212.6 171"/><path class="q4" d="M212.6 171L208.5 172L204.3 162.9"/><path class="q8" d="M204.3 162.9L200.2 154.6"/><path class="q11" d="M200.2 154.6L199.2 147.4"/><path class="q15" d="M199.2 147.4L198.1 140.2"/><path class="q19" d="M198.1 140.2L197.1 133"/><path class="q23" d="M197.1 133L196.1 125.7"/><path class="q26" d="M196.1 125.7L191.9 119.6"/><path class="q28" d="M191.9 119.6L190.6 113.7"/><path class="q31" d="M190.6 113.7L189.2 107.7"/><path class="q34" d="M189.2 107.7L187.8 101.8"/><path class="q33" d="M187.8 101.8L186.8 107.2"/><path class="q30" d="M186.8 107.2L185.8 112.6"/><path class="q26" d="M185.8 112.6L184.7 118"/><path class="q22" d="M184.7 118L183.7 123.4"/><path class="q20" d="M183.7 123.4L179.6 118.4"/><path class="q19" d="M179.6 118.4L178.2 122.7"/><path class="q15" d="M178.2 122.7L176.8 126.9"/><path class="q12" d="M176.8 126.9L175.4 131.2"/><path class="q9" d="M175.4 131.2L171.3 131.8"/><path class="q5" d="M171.3 131.8L169.2 135.3"/><path class="q2" d="M169.2 135.3L167.2 138.8"/><path class="q0" d="M167.2 138.8L163.1 137.7"/><path class="w" d="M211.3 182.1L211.3 170.5L207.1 172.2L203 161.1L198.9 147L194.8 108.3L190.6 122.1L186.5 114.5L182.4 133.2L178.3 129L174.1 131.5L170 134.5L165.9 139.1L161.7 137.9L161.7 137.9Z"/><path class="k" d="M211.3 182.1L211.3 170.5"/><path class="q4" d="M211.3 170.5L207.1 172.2L205.1 166.7"/><path class="q6" d="M205.1 166.7L203 161.1"/><path class="q9" d="M203 161.1L200.9 154"/><path class="q13" d="M200.9 154L198.9 147"/><path class="q16" d="M198.9 147L198.2 140.5"/><path class="q20" d="M198.2 140.5L197.5 134.1"/><path class="q24" d="M197.5 134.1L196.8 127.6"/><path class="q27" d="M196.8 127.6L196.1 121.2"/><path class="q31" d="M196.1 121.2L195.4 114.8"/><path class="q34" d="M195.4 114.8L194.8 108.3L193.4 112.9"/><path class="q31" d="M193.4 112.9L192 117.5"/><path class="q27" d="M192 117.5L190.6 122.1L186.5 114.5"/><path class="q26" d="M186.5 114.5L185.5 119.1"/><path class="q23" d="M185.5 119.1L184.4 123.8"/><path class="q19" d="M184.4 123.8L183.4 128.5"/><path class="q16" d="M183.4 128.5L182.4 133.2"/><path class="q14" d="M182.4 133.2L178.3 129"/><path class="q12" d="M178.3 129L174.1 131.5"/><path class="q8" d="M174.1 131.5L170 134.5"/><path class="q4" d="M170 134.5L167.9 136.8"/><path class="q2" d="M167.9 136.8L165.9 139.1"/><path class="q0" d="M165.9 139.1L161.7 137.9"/><path class="w" d="M210 182.4L210 170L205.8 172.5L201.7 157.7L197.6 139.9L193.4 107.7L189.3 132L185.2 129.8L181.1 138.5L176.9 134.8L172.8 131.7L168.7 137.7L164.6 139.3L160.4 138.2L160.4 138.2Z"/><path class="k" d="M210 182.4L210 170"/><path class="q5" d="M210 170L205.8 172.5"/><path class="q4" d="M205.8 172.5L203.8 165.1"/><path class="q8" d="M203.8 165.1L201.7 157.7"/><path class="q11" d="M201.7 157.7L200.3 151.8"/><path class="q15" d="M200.3 151.8L198.9 145.8"/><path class="q18" d="M198.9 145.8L197.6 139.9"/><path class="q21" d="M197.6 139.9L196.7 133.4"/><path class="q24" d="M196.7 133.4L195.9 127"/><path class="q28" d="M195.9 127L195.1 120.6"/><path class="q31" d="M195.1 120.6L194.3 114.2"/><path class="q35" d="M194.3 114.2L193.4 107.7L192.6 112.6"/><path class="q31" d="M192.6 112.6L191.8 117.5"/><path class="q28" d="M191.8 117.5L191 122.3"/><path class="q25" d="M191 122.3L190.1 127.2"/><path class="q21" d="M190.1 127.2L189.3 132"/><path class="q19" d="M189.3 132L185.2 129.8"/><path class="q17" d="M185.2 129.8L183.1 134.2"/><path class="q12" d="M183.1 134.2L181.1 138.5"/><path class="q10" d="M181.1 138.5L176.9 134.8L172.8 131.7"/><path class="q8" d="M172.8 131.7L170.7 134.7"/><path class="q5" d="M170.7 134.7L168.7 137.7"/><path class="q2" d="M168.7 137.7L164.6 139.3"/><path class="q0" d="M164.6 139.3L160.4 138.2"/><path class="w" d="M208.6 182.6L208.6 171L204.5 172.8L200.4 156.8L196.3 142.9L192.1 124L188 140.3L183.9 138L179.8 139.3L175.6 135.7L171.5 132.2L167.4 138.5L163.2 138.6L159.1 138.5L159.1 138.5Z"/><path class="k" d="M208.6 182.6L208.6 171"/><path class="q4" d="M208.6 171L204.5 172.8"/><path class="q5" d="M204.5 172.8L202.4 164.8"/><path class="q9" d="M202.4 164.8L200.4 156.8"/><path class="q12" d="M200.4 156.8L198.3 149.9"/><path class="q16" d="M198.3 149.9L196.3 142.9"/><path class="q19" d="M196.3 142.9L194.9 136.6"/><path class="q22" d="M194.9 136.6L193.5 130.3"/><path class="q25" d="M193.5 130.3L192.1 124L190.8 129.4"/><path class="q21" d="M190.8 129.4L189.4 134.9"/><path class="q16" d="M189.4 134.9L188 140.3"/><path class="q14" d="M188 140.3L183.9 138"/><path class="q12" d="M183.9 138L179.8 139.3"/><path class="q10" d="M179.8 139.3L175.6 135.7L171.5 132.2"/><path class="q8" d="M171.5 132.2L169.4 135.3"/><path class="q5" d="M169.4 135.3L167.4 138.5"/><path class="q2" d="M167.4 138.5L163.2 138.6"/><path class="q0" d="M163.2 138.6L159.1 138.5"/><path class="w" d="M207.3 182.9L207.3 173.4L203.2 173.3L199.1 160.1L194.9 152.3L190.8 137.5L186.7 142.8L182.6 139.2L178.4 139.6L174.3 135.9L170.2 134.1L166.1 135.4L161.9 135.3L157.8 138.7L157.8 138.7Z"/><path class="k" d="M207.3 182.9L207.3 173.4"/><path class="q4" d="M207.3 173.4L203.2 173.3L201.1 166.7"/><path class="q7" d="M201.1 166.7L199.1 160.1"/><path class="q10" d="M199.1 160.1L194.9 152.3"/><path class="q13" d="M194.9 152.3L192.9 144.9"/><path class="q17" d="M192.9 144.9L190.8 137.5L188.8 140.1"/><path class="q14" d="M188.8 140.1L186.7 142.8"/><path class="q13" d="M186.7 142.8L182.6 139.2"/><path class="q11" d="M182.6 139.2L178.4 139.6"/><path class="q10" d="M178.4 139.6L174.3 135.9"/><path class="q9" d="M174.3 135.9L170.2 134.1"/><path class="q7" d="M170.2 134.1L166.1 135.4"/><path class="q4" d="M166.1 135.4L161.9 135.3"/><path class="q2" d="M161.9 135.3L159.9 137"/><path class="q0" d="M159.9 137L157.8 138.7"/><path class="w" d="M206 183.1L206 175.4L201.9 174.7L197.8 163.5L193.6 157.3L189.5 138.5L185.4 143.1L181.2 139.6L177.1 139.9L173 136.2L168.9 137L164.7 131.3L160.6 131.3L156.5 139L156.5 139Z"/><path class="k" d="M206 183.1L206 175.4"/><path class="q3" d="M206 175.4L201.9 174.7L199.8 169.1"/><path class="q5" d="M199.8 169.1L197.8 163.5"/><path class="q7" d="M197.8 163.5L193.6 157.3"/><path class="q10" d="M193.6 157.3L192.3 151.1"/><path class="q13" d="M192.3 151.1L190.9 144.8"/><path class="q16" d="M190.9 144.8L189.5 138.5"/><path class="q17" d="M189.5 138.5L187.4 140.8"/><path class="q14" d="M187.4 140.8L185.4 143.1"/><path class="q13" d="M185.4 143.1L181.2 139.6"/><path class="q11" d="M181.2 139.6L177.1 139.9"/><path class="q10" d="M177.1 139.9L173 136.2"/><path class="q9" d="M173 136.2L168.9 137"/><path class="q8" d="M168.9 137L164.7 131.3"/><path class="q7" d="M164.7 131.3L160.6 131.3"/><path class="q4" d="M160.6 131.3L158.6 135.1"/><path class="q0" d="M158.6 135.1L156.5 139"/><path class="w" d="M204.7 183.4L204.7 175.5L200.6 175.7L196.4 164.5L192.3 155.8L188.2 134.9L184.1 143.3L179.9 141.4L175.8 139.7L171.7 135.7L167.6 138.4L163.4 129.3L159.3 129.2L155.2 139.2L155.2 139.2Z"/><path class="k" d="M204.7 183.4L204.7 175.5"/><path class="q2" d="M204.7 175.5L200.6 175.7L198.5 170.1"/><path class="q5" d="M198.5 170.1L196.4 164.5"/><path class="q8" d="M196.4 164.5L192.3 155.8"/><path class="q11" d="M192.3 155.8L190.9 148.8"/><path class="q15" d="M190.9 148.8L189.6 141.9"/><path class="q19" d="M189.6 141.9L188.2 134.9L186.1 139.1"/><path class="q15" d="M186.1 139.1L184.1 143.3"/><path class="q12" d="M184.1 143.3L179.9 141.4"/><path class="q11" d="M179.9 141.4L175.8 139.7"/><path class="q10" d="M175.8 139.7L171.7 135.7"/><path class="q8" d="M171.7 135.7L167.6 138.4L163.4 129.3"/><path class="q9" d="M163.4 129.3L159.3 129.2"/><path class="q6" d="M159.3 129.2L157.9 132.6"/><path class="q3" d="M157.9 132.6L156.6 135.9"/><path class="q0" d="M156.6 135.9L155.2 139.2"/><path class="w" d="M203.4 183.6L203.4 174.4L199.3 174.6L195.1 164L191 151.8L186.9 133.4L182.7 144.3L178.6 144.6L174.5 138.7L170.4 133.4L166.2 137.6L162.1 129.3L158 129.2L153.9 139.5L153.9 139.5Z"/><path class="k" d="M203.4 183.6L203.4 174.4"/><path class="q3" d="M203.4 174.4L199.3 174.6L197.2 169.3"/><path class="q5" d="M197.2 169.3L195.1 164"/><path class="q8" d="M195.1 164L193.1 157.9"/><path class="q11" d="M193.1 157.9L191 151.8"/><path class="q14" d="M191 151.8L189.6 145.7"/><path class="q17" d="M189.6 145.7L188.3 139.6"/><path class="q20" d="M188.3 139.6L186.9 133.4L185.5 137"/><path class="q17" d="M185.5 137L184.1 140.7"/><path class="q14" d="M184.1 140.7L182.7 144.3"/><path class="q11" d="M182.7 144.3L178.6 144.6"/><path class="q10" d="M178.6 144.6L174.5 138.7"/><path class="q12" d="M174.5 138.7L170.4 133.4"/><path class="q11" d="M170.4 133.4L168.3 135.5"/><path class="q8" d="M168.3 135.5L166.2 137.6"/><path class="q9" d="M166.2 137.6L162.1 129.3L158 129.2"/><path class="q6" d="M158 129.2L156.6 132.7"/><path class="q3" d="M156.6 132.7L155.2 136.1"/><path class="q0" d="M155.2 136.1L153.9 139.5"/><path class="w" d="M202.1 183.9L202.1 173.9L197.9 173L193.8 163.8L189.7 150.8L185.6 136.3L181.4 146.9L177.3 147.2L173.2 137.4L169.1 130.5L164.9 137L160.8 129.6L156.7 129.2L152.5 139.7L152.5 139.7Z"/><path class="k" d="M202.1 183.9L202.1 173.9"/><path class="q4" d="M202.1 173.9L197.9 173"/><path class="q5" d="M197.9 173L193.8 163.8"/><path class="q8" d="M193.8 163.8L191.8 157.3"/><path class="q12" d="M191.8 157.3L189.7 150.8"/><path class="q15" d="M189.7 150.8L187.6 143.6"/><path class="q18" d="M187.6 143.6L185.6 136.3"/><path class="q19" d="M185.6 136.3L184.2 139.9"/><path class="q15" d="M184.2 139.9L182.8 143.4"/><path class="q12" d="M182.8 143.4L181.4 146.9"/><path class="q9" d="M181.4 146.9L177.3 147.2"/><path class="q10" d="M177.3 147.2L173.2 137.4"/><path class="q13" d="M173.2 137.4L169.1 130.5L167 133.7"/><path class="q9" d="M167 133.7L164.9 137L160.8 129.6L156.7 129.2"/><path class="q6" d="M156.7 129.2L155.3 132.7"/><path class="q3" d="M155.3 132.7L153.9 136.2"/><path class="q0" d="M153.9 136.2L152.5 139.7"/><path class="w" d="M200.8 184.1L200.8 174.9L196.6 174L192.5 164.5L188.4 154.5L184.2 142L180.1 150.1L176 148.2L171.9 136.8L167.7 129.1L163.6 137.1L159.5 129.8L155.4 127.1L151.2 140L151.2 140Z"/><path class="k" d="M200.8 184.1L200.8 174.9"/><path class="q4" d="M200.8 174.9L196.6 174"/><path class="q5" d="M196.6 174L192.5 164.5"/><path class="q9" d="M192.5 164.5L188.4 154.5"/><path class="q12" d="M188.4 154.5L186.3 148.2"/><path class="q15" d="M186.3 148.2L184.2 142L182.2 146.1"/><path class="q11" d="M182.2 146.1L180.1 150.1"/><path class="q8" d="M180.1 150.1L176 148.2"/><path class="q9" d="M176 148.2L173.9 142.5"/><path class="q11" d="M173.9 142.5L171.9 136.8"/><path class="q14" d="M171.9 136.8L167.7 129.1"/><path class="q13" d="M167.7 129.1L165.7 133.1"/><path class="q10" d="M165.7 133.1L163.6 137.1"/><path class="q9" d="M163.6 137.1L159.5 129.8"/><path class="q10" d="M159.5 129.8L155.4 127.1"/><path class="q8" d="M155.4 127.1L154 131.4"/><path class="q4" d="M154 131.4L152.6 135.7"/><path class="q0" d="M152.6 135.7L151.2 140"/><path class="w" d="M199.4 184.4L199.4 176.5L195.3 176.7L191.2 165.5L187.1 158.4L182.9 146.8L178.8 151.7L174.7 147.4L170.6 137L166.4 129.2L162.3 134.8L158.2 126.3L154 122.9L149.9 140.2L149.9 140.2Z"/><path class="k" d="M199.4 184.4L199.4 176.5"/><path class="q3" d="M199.4 176.5L195.3 176.7"/><path class="q2" d="M195.3 176.7L193.2 171.1"/><path class="q5" d="M193.2 171.1L191.2 165.5"/><path class="q7" d="M191.2 165.5L187.1 158.4"/><path class="q10" d="M187.1 158.4L185 152.6"/><path class="q12" d="M185 152.6L182.9 146.8L180.9 149.3"/><path class="q9" d="M180.9 149.3L178.8 151.7"/><path class="q8" d="M178.8 151.7L174.7 147.4"/><path class="q11" d="M174.7 147.4L170.6 137"/><path class="q14" d="M170.6 137L166.4 129.2L164.4 132"/><path class="q11" d="M164.4 132L162.3 134.8L158.2 126.3"/><path class="q12" d="M158.2 126.3L154 122.9"/><path class="q11" d="M154 122.9L153 127.2"/><path class="q7" d="M153 127.2L152 131.6"/><path class="q4" d="M152 131.6L151 135.9"/><path class="q0" d="M151 135.9L149.9 140.2"/><path class="w" d="M198.1 184.6L198.1 177.5L194 178.2L189.9 166L185.7 159.7L181.6 148.3L177.5 150.6L173.4 143.9L169.2 137.6L165.1 129.5L161 126.1L156.9 113.4L152.7 120.5L148.6 140.5L148.6 140.5Z"/><path class="k" d="M198.1 184.6L198.1 177.5"/><path class="q2" d="M198.1 177.5L194 178.2L191.9 172.1"/><path class="q5" d="M191.9 172.1L189.9 166"/><path class="q7" d="M189.9 166L185.7 159.7"/><path class="q9" d="M185.7 159.7L183.7 154"/><path class="q11" d="M183.7 154L181.6 148.3L177.5 150.6"/><path class="q10" d="M177.5 150.6L173.4 143.9"/><path class="q12" d="M173.4 143.9L169.2 137.6"/><path class="q14" d="M169.2 137.6L165.1 129.5"/><path class="q15" d="M165.1 129.5L161 126.1"/><path class="q17" d="M161 126.1L158.9 119.8"/><path class="q20" d="M158.9 119.8L156.9 113.4"/><path class="q19" d="M156.9 113.4L154.8 117"/><path class="q16" d="M154.8 117L152.7 120.5"/><path class="q12" d="M152.7 120.5L151.7 125.5"/><path class="q8" d="M151.7 125.5L150.7 130.5"/><path class="q4" d="M150.7 130.5L149.6 135.5"/><path class="q1" d="M149.6 135.5L148.6 140.5"/><path class="w" d="M196.8 184.9L196.8 177.8L192.7 178.6L188.6 166.2L184.4 160L180.3 148.1L176.2 148L172.1 140L167.9 139.2L163.8 129.6L159.7 115.4L155.5 97.7L151.4 123.4L147.3 140.7L147.3 140.7Z"/><path class="k" d="M196.8 184.9L196.8 177.8"/><path class="q2" d="M196.8 177.8L192.7 178.6L190.6 172.4"/><path class="q5" d="M190.6 172.4L188.6 166.2"/><path class="q7" d="M188.6 166.2L184.4 160"/><path class="q9" d="M184.4 160L182.4 154"/><path class="q12" d="M182.4 154L180.3 148.1L176.2 148L172.1 140"/><path class="q13" d="M172.1 140L167.9 139.2"/><path class="q14" d="M167.9 139.2L163.8 129.6"/><path class="q17" d="M163.8 129.6L161.7 122.5"/><path class="q21" d="M161.7 122.5L159.7 115.4"/><path class="q24" d="M159.7 115.4L158.3 109.5"/><path class="q26" d="M158.3 109.5L156.9 103.6"/><path class="q29" d="M156.9 103.6L155.5 97.7L154.7 102.9"/><path class="q25" d="M154.7 102.9L153.9 108"/><path class="q22" d="M153.9 108L153.1 113.1"/><path class="q18" d="M153.1 113.1L152.2 118.3"/><path class="q14" d="M152.2 118.3L151.4 123.4"/><path class="q11" d="M151.4 123.4L150.4 127.7"/><path class="q7" d="M150.4 127.7L149.4 132.1"/><path class="q4" d="M149.4 132.1L148.3 136.4"/><path class="q0" d="M148.3 136.4L147.3 140.7"/><path class="w" d="M195.5 185.2L195.5 178L191.4 178.9L187.2 166.3L183.1 158.8L179 144.1L174.9 145.8L170.7 140.2L166.6 141L162.5 128.4L158.4 109.9L154.2 89.6L150.1 128.1L146 141L146 141Z"/><path class="k" d="M195.5 185.2L195.5 178"/><path class="q2" d="M195.5 178L191.4 178.9L189.3 172.6"/><path class="q5" d="M189.3 172.6L187.2 166.3"/><path class="q7" d="M187.2 166.3L183.1 158.8"/><path class="q10" d="M183.1 158.8L181.1 151.5"/><path class="q14" d="M181.1 151.5L179 144.1L174.9 145.8"/><path class="q13" d="M174.9 145.8L170.7 140.2"/><path class="q12" d="M170.7 140.2L166.6 141L164.5 134.7"/><path class="q15" d="M164.5 134.7L162.5 128.4"/><path class="q18" d="M162.5 128.4L161.1 122.3"/><path class="q21" d="M161.1 122.3L159.7 116.1"/><path class="q24" d="M159.7 116.1L158.4 109.9"/><path class="q27" d="M158.4 109.9L157 103.1"/><path class="q31" d="M157 103.1L155.6 96.3"/><path class="q34" d="M155.6 96.3L154.2 89.6L153.6 95.1"/><path class="q30" d="M153.6 95.1L153.1 100.6"/><path class="q27" d="M153.1 100.6L152.5 106.1"/><path class="q23" d="M152.5 106.1L151.9 111.6"/><path class="q19" d="M151.9 111.6L151.3 117.1"/><path class="q15" d="M151.3 117.1L150.7 122.6"/><path class="q11" d="M150.7 122.6L150.1 128.1"/><path class="q8" d="M150.1 128.1L148.7 132.4"/><path class="q4" d="M148.7 132.4L147.4 136.7"/><path class="q0" d="M147.4 136.7L146 141"/><path class="w" d="M194.2 185.4L194.2 177.8L190.1 179.2L185.9 165.3L181.8 154.3L177.7 136.4L173.6 146.3L169.4 144.7L165.3 142L161.2 126L157 109.5L152.9 88.9L148.8 130.8L144.7 141.2L144.7 141.2Z"/><path class="k" d="M194.2 185.4L194.2 177.8"/><path class="q2" d="M194.2 177.8L190.1 179.2L188 172.3"/><path class="q5" d="M188 172.3L185.9 165.3"/><path class="q8" d="M185.9 165.3L183.9 159.8"/><path class="q11" d="M183.9 159.8L181.8 154.3"/><path class="q13" d="M181.8 154.3L180.4 148.3"/><path class="q16" d="M180.4 148.3L179.1 142.4"/><path class="q19" d="M179.1 142.4L177.7 136.4L176.3 139.7"/><path class="q17" d="M176.3 139.7L174.9 143"/><path class="q14" d="M174.9 143L173.6 146.3"/><path class="q11" d="M173.6 146.3L169.4 144.7"/><path class="q10" d="M169.4 144.7L165.3 142"/><path class="q12" d="M165.3 142L163.2 134"/><path class="q16" d="M163.2 134L161.2 126"/><path class="q20" d="M161.2 126L159.1 117.8"/><path class="q24" d="M159.1 117.8L157 109.5"/><path class="q28" d="M157 109.5L155.7 102.7"/><path class="q31" d="M155.7 102.7L154.3 95.8"/><path class="q35" d="M154.3 95.8L152.9 88.9"/><path class="q34" d="M152.9 88.9L152.3 94.9"/><path class="q30" d="M152.3 94.9L151.7 100.8"/><path class="q26" d="M151.7 100.8L151.1 106.8"/><path class="q22" d="M151.1 106.8L150.6 112.8"/><path class="q19" d="M150.6 112.8L150 118.8"/><path class="q14" d="M150 118.8L149.4 124.8"/><path class="q10" d="M149.4 124.8L148.8 130.8"/><path class="q6" d="M148.8 130.8L147.4 134.3"/><path class="q3" d="M147.4 134.3L146 137.8"/><path class="q0" d="M146 137.8L144.7 141.2"/><path class="w" d="M192.9 185.7L192.9 176.2L188.7 178.6L184.6 163.3L180.5 148.7L176.4 132L172.2 149.8L168.1 148.6L164 141.3L159.9 124.1L155.7 108.9L151.6 89.1L147.5 132L143.3 141.5L143.3 141.5Z"/><path class="k" d="M192.9 185.7L192.9 176.2"/><path class="q3" d="M192.9 176.2L188.7 178.6L186.7 170.9"/><path class="q7" d="M186.7 170.9L184.6 163.3"/><path class="q10" d="M184.6 163.3L182.6 156"/><path class="q14" d="M182.6 156L180.5 148.7"/><path class="q18" d="M180.5 148.7L178.4 140.3"/><path class="q22" d="M178.4 140.3L176.4 132L175.3 136.4"/><path class="q19" d="M175.3 136.4L174.3 140.9"/><path class="q15" d="M174.3 140.9L173.3 145.3"/><path class="q12" d="M173.3 145.3L172.2 149.8"/><path class="q9" d="M172.2 149.8L168.1 148.6"/><path class="q10" d="M168.1 148.6L164 141.3"/><path class="q12" d="M164 141.3L162.6 135.6"/><path class="q15" d="M162.6 135.6L161.2 129.9"/><path class="q18" d="M161.2 129.9L159.9 124.1"/><path class="q21" d="M159.9 124.1L157.8 116.5"/><path class="q25" d="M157.8 116.5L155.7 108.9"/><path class="q28" d="M155.7 108.9L154.4 102.3"/><path class="q31" d="M154.4 102.3L153 95.7"/><path class="q35" d="M153 95.7L151.6 89.1"/><path class="q34" d="M151.6 89.1L151 95.2"/><path class="q30" d="M151 95.2L150.4 101.4"/><path class="q26" d="M150.4 101.4L149.8 107.5"/><path class="q22" d="M149.8 107.5L149.2 113.6"/><path class="q18" d="M149.2 113.6L148.7 119.7"/><path class="q14" d="M148.7 119.7L148.1 125.8"/><path class="q9" d="M148.1 125.8L147.5 132"/><path class="q5" d="M147.5 132L145.4 136.7"/><path class="q1" d="M145.4 136.7L143.3 141.5"/><path class="w" d="M191.6 185.9L191.6 174.7L187.4 176.3L183.3 162.1L179.2 146.9L175 136.9L170.9 153.9L166.8 149.7L162.7 137.9L158.5 123.8L154.4 106.1L150.3 90L146.2 134.6L142 141.8L142 141.8Z"/><path class="k" d="M191.6 185.9L191.6 174.7"/><path class="q4" d="M191.6 174.7L187.4 176.3L185.4 169.2"/><path class="q8" d="M185.4 169.2L183.3 162.1"/><path class="q11" d="M183.3 162.1L181.2 154.5"/><path class="q15" d="M181.2 154.5L179.2 146.9"/><path class="q19" d="M179.2 146.9L175 136.9L174 141.1"/><path class="q16" d="M174 141.1L173 145.4"/><path class="q13" d="M173 145.4L172 149.6"/><path class="q9" d="M172 149.6L170.9 153.9"/><path class="q8" d="M170.9 153.9L166.8 149.7"/><path class="q9" d="M166.8 149.7L164.7 143.8"/><path class="q12" d="M164.7 143.8L162.7 137.9"/><path class="q15" d="M162.7 137.9L160.6 130.8"/><path class="q18" d="M160.6 130.8L158.5 123.8"/><path class="q21" d="M158.5 123.8L157.2 117.9"/><path class="q24" d="M157.2 117.9L155.8 112"/><path class="q27" d="M155.8 112L154.4 106.1"/><path class="q30" d="M154.4 106.1L152.4 98.1"/><path class="q34" d="M152.4 98.1L150.3 90L149.8 95.6"/><path class="q30" d="M149.8 95.6L149.3 101.2"/><path class="q27" d="M149.3 101.2L148.7 106.7"/><path class="q23" d="M148.7 106.7L148.2 112.3"/><path class="q19" d="M148.2 112.3L147.7 117.9"/><path class="q16" d="M147.7 117.9L147.2 123.5"/><path class="q12" d="M147.2 123.5L146.7 129"/><path class="q8" d="M146.7 129L146.2 134.6"/><path class="q4" d="M146.2 134.6L144.1 138.2"/><path class="q0" d="M144.1 138.2L142 141.8"/><path class="w" d="M190.2 186.2L190.2 175.6L186.1 174.3L182 163.7L177.9 150.5L173.7 145L169.6 156.1L165.5 147.5L161.4 133.7L157.2 124.1L153.1 102.8L149 92.6L144.8 137.7L140.7 142L140.7 142Z"/><path class="k" d="M190.2 186.2L190.2 175.6"/><path class="q5" d="M190.2 175.6L186.1 174.3L184.1 169"/><path class="q7" d="M184.1 169L182 163.7"/><path class="q10" d="M182 163.7L179.9 157.1"/><path class="q13" d="M179.9 157.1L177.9 150.5"/><path class="q15" d="M177.9 150.5L173.7 145"/><path class="q14" d="M173.7 145L172.4 148.7"/><path class="q11" d="M172.4 148.7L171 152.4"/><path class="q8" d="M171 152.4L169.6 156.1L165.5 147.5"/><path class="q11" d="M165.5 147.5L163.4 140.6"/><path class="q14" d="M163.4 140.6L161.4 133.7"/><path class="q18" d="M161.4 133.7L157.2 124.1"/><path class="q22" d="M157.2 124.1L155.9 117"/><path class="q25" d="M155.9 117L154.5 109.9"/><path class="q29" d="M154.5 109.9L153.1 102.8"/><path class="q33" d="M153.1 102.8L149 92.6L148.5 98.2"/><path class="q29" d="M148.5 98.2L147.9 103.9"/><path class="q25" d="M147.9 103.9L147.4 109.5"/><path class="q22" d="M147.4 109.5L146.9 115.1"/><path class="q18" d="M146.9 115.1L146.4 120.8"/><path class="q14" d="M146.4 120.8L145.9 126.4"/><path class="q10" d="M145.9 126.4L145.4 132.1"/><path class="q6" d="M145.4 132.1L144.8 137.7"/><path class="q3" d="M144.8 137.7L142.8 139.9"/><path class="q0" d="M142.8 139.9L140.7 142"/><path class="w" d="M188.9 186.4L188.9 178L184.8 174.9L180.7 166L176.5 155.2L172.4 147.8L168.3 155.2L164.2 142.8L160 131.4L155.9 124.6L151.8 102.2L147.7 96.3L143.5 138.4L139.4 142.3L139.4 142.3Z"/><path class="k" d="M188.9 186.4L188.9 178"/><path class="q4" d="M188.9 178L184.8 174.9"/><path class="q5" d="M184.8 174.9L180.7 166"/><path class="q8" d="M180.7 166L178.6 160.6"/><path class="q11" d="M178.6 160.6L176.5 155.2"/><path class="q13" d="M176.5 155.2L172.4 147.8"/><path class="q12" d="M172.4 147.8L170.4 151.5"/><path class="q9" d="M170.4 151.5L168.3 155.2"/><path class="q8" d="M168.3 155.2L166.2 149"/><path class="q11" d="M166.2 149L164.2 142.8"/><path class="q14" d="M164.2 142.8L162.1 137.1"/><path class="q16" d="M162.1 137.1L160 131.4"/><path class="q19" d="M160 131.4L155.9 124.6"/><path class="q22" d="M155.9 124.6L154.5 117.1"/><path class="q25" d="M154.5 117.1L153.2 109.6"/><path class="q29" d="M153.2 109.6L151.8 102.2"/><path class="q32" d="M151.8 102.2L147.7 96.3"/><path class="q30" d="M147.7 96.3L147.1 102.3"/><path class="q26" d="M147.1 102.3L146.5 108.3"/><path class="q23" d="M146.5 108.3L145.9 114.3"/><path class="q19" d="M145.9 114.3L145.3 120.3"/><path class="q14" d="M145.3 120.3L144.7 126.3"/><path class="q10" d="M144.7 126.3L144.1 132.3"/><path class="q6" d="M144.1 132.3L143.5 138.4"/><path class="q2" d="M143.5 138.4L141.5 140.3"/><path class="q0" d="M141.5 140.3L139.4 142.3"/><path class="w" d="M187.6 186.7L187.6 179.4L183.5 177.1L179.4 166.6L175.2 157.9L171.1 144.7L167 152L162.9 138.1L158.7 130.9L154.6 125.5L150.5 104.8L146.3 100.1L142.2 136.1L138.1 142.5L138.1 142.5Z"/><path class="k" d="M187.6 186.7L187.6 179.4"/><path class="q3" d="M187.6 179.4L183.5 177.1"/><path class="q4" d="M183.5 177.1L181.4 171.8"/><path class="q6" d="M181.4 171.8L179.4 166.6"/><path class="q9" d="M179.4 166.6L175.2 157.9"/><path class="q12" d="M175.2 157.9L173.2 151.3"/><path class="q15" d="M173.2 151.3L171.1 144.7L169 148.3"/><path class="q11" d="M169 148.3L167 152L164.9 145"/><path class="q14" d="M164.9 145L162.9 138.1"/><path class="q17" d="M162.9 138.1L158.7 130.9"/><path class="q19" d="M158.7 130.9L154.6 125.5"/><path class="q21" d="M154.6 125.5L153.2 118.6"/><path class="q24" d="M153.2 118.6L151.8 111.7"/><path class="q28" d="M151.8 111.7L150.5 104.8"/><path class="q30" d="M150.5 104.8L146.3 100.1"/><path class="q28" d="M146.3 100.1L145.7 106.1"/><path class="q24" d="M145.7 106.1L145 112.1"/><path class="q20" d="M145 112.1L144.3 118.1"/><path class="q16" d="M144.3 118.1L143.6 124.1"/><path class="q12" d="M143.6 124.1L142.9 130.1"/><path class="q7" d="M142.9 130.1L142.2 136.1"/><path class="q4" d="M142.2 136.1L140.2 139.3"/><path class="q0" d="M140.2 139.3L138.1 142.5"/><path class="w" d="M186.3 186.9L186.3 179.8L182.2 178.3L178 166.1L173.9 158.4L169.8 141.2L165.7 148.6L161.5 136.1L157.4 130.7L153.3 126.5L149.2 107.6L145 105.2L140.9 133.9L136.8 142.8L136.8 142.8Z"/><path class="k" d="M186.3 186.9L186.3 179.8"/><path class="q3" d="M186.3 179.8L182.2 178.3L180.1 172.2"/><path class="q6" d="M180.1 172.2L178 166.1"/><path class="q9" d="M178 166.1L173.9 158.4"/><path class="q12" d="M173.9 158.4L172.5 152.7"/><path class="q14" d="M172.5 152.7L171.2 146.9"/><path class="q17" d="M171.2 146.9L169.8 141.2L167.7 144.9"/><path class="q13" d="M167.7 144.9L165.7 148.6L163.6 142.3"/><path class="q16" d="M163.6 142.3L161.5 136.1"/><path class="q18" d="M161.5 136.1L157.4 130.7"/><path class="q19" d="M157.4 130.7L153.3 126.5"/><path class="q20" d="M153.3 126.5L151.9 120.2"/><path class="q23" d="M151.9 120.2L150.5 113.9"/><path class="q27" d="M150.5 113.9L149.2 107.6"/><path class="q28" d="M149.2 107.6L145 105.2"/><path class="q25" d="M145 105.2L144.2 110.9"/><path class="q21" d="M144.2 110.9L143.4 116.7"/><path class="q17" d="M143.4 116.7L142.6 122.4"/><path class="q13" d="M142.6 122.4L141.7 128.2"/><path class="q9" d="M141.7 128.2L140.9 133.9"/><path class="q5" d="M140.9 133.9L138.8 138.3"/><path class="q1" d="M138.8 138.3L136.8 142.8"/><path class="w" d="M185 187.2L185 180.1L180.9 178.8L176.7 166L172.6 158.6L168.5 139.9L164.4 147.3L160.2 135.8L156.1 130.7L152 127L147.8 108.9L143.7 113.4L139.6 134.6L135.5 143L135.5 143Z"/><path class="k" d="M185 187.2L185 180.1"/><path class="q2" d="M185 180.1L180.9 178.8"/><path class="q3" d="M180.9 178.8L178.8 172.4"/><path class="q6" d="M178.8 172.4L176.7 166"/><path class="q9" d="M176.7 166L172.6 158.6"/><path class="q12" d="M172.6 158.6L171.2 152.4"/><path class="q15" d="M171.2 152.4L169.9 146.1"/><path class="q18" d="M169.9 146.1L168.5 139.9L166.4 143.6"/><path class="q14" d="M166.4 143.6L164.4 147.3L162.3 141.5"/><path class="q16" d="M162.3 141.5L160.2 135.8"/><path class="q18" d="M160.2 135.8L156.1 130.7"/><path class="q19" d="M156.1 130.7L152 127"/><path class="q20" d="M152 127L150.6 121"/><path class="q23" d="M150.6 121L149.2 115"/><path class="q26" d="M149.2 115L147.8 108.9L145.8 111.2"/><path class="q24" d="M145.8 111.2L143.7 113.4"/><path class="q21" d="M143.7 113.4L142.7 118.7"/><path class="q17" d="M142.7 118.7L141.7 124"/><path class="q13" d="M141.7 124L140.6 129.3"/><path class="q9" d="M140.6 129.3L139.6 134.6"/><path class="q5" d="M139.6 134.6L137.5 138.8"/><path class="q1" d="M137.5 138.8L135.5 143"/><path class="w" d="M183.7 187.4L183.7 180.3L179.5 179L175.4 166.2L171.3 158.9L167.2 140L163 147.4L158.9 136L154.8 131L150.7 127.3L146.5 109.3L142.4 124.2L138.3 137.7L134.2 143.3L134.2 143.3Z"/><path class="k" d="M183.7 187.4L183.7 180.3"/><path class="q2" d="M183.7 180.3L179.5 179"/><path class="q3" d="M179.5 179L177.5 172.6"/><path class="q6" d="M177.5 172.6L175.4 166.2"/><path class="q9" d="M175.4 166.2L171.3 158.9"/><path class="q12" d="M171.3 158.9L169.9 152.6"/><path class="q15" d="M169.9 152.6L168.5 146.3"/><path class="q18" d="M168.5 146.3L167.2 140L165.1 143.7"/><path class="q15" d="M165.1 143.7L163 147.4"/><path class="q14" d="M163 147.4L161 141.7"/><path class="q17" d="M161 141.7L158.9 136"/><path class="q18" d="M158.9 136L154.8 131"/><path class="q19" d="M154.8 131L150.7 127.3"/><path class="q20" d="M150.7 127.3L149.3 121.3"/><path class="q23" d="M149.3 121.3L147.9 115.3"/><path class="q26" d="M147.9 115.3L146.5 109.3L145.2 114.2"/><path class="q22" d="M145.2 114.2L143.8 119.2"/><path class="q18" d="M143.8 119.2L142.4 124.2"/><path class="q14" d="M142.4 124.2L141 128.7"/><path class="q10" d="M141 128.7L139.7 133.2"/><path class="q7" d="M139.7 133.2L138.3 137.7"/><path class="q3" d="M138.3 137.7L136.2 140.5"/><path class="q0" d="M136.2 140.5L134.2 143.3"/><path class="w" d="M182.4 187.7L182.4 180.6L178.2 179.3L174.1 166.4L170 159.1L165.9 140L161.7 147.7L157.6 136.3L153.5 131.2L149.3 127.6L145.2 109.9L141.1 132.9L137 140.3L132.8 143.5L132.8 143.5Z"/><path class="k" d="M182.4 187.7L182.4 180.6"/><path class="q2" d="M182.4 180.6L178.2 179.3"/><path class="q3" d="M178.2 179.3L176.2 172.9"/><path class="q6" d="M176.2 172.9L174.1 166.4"/><path class="q9" d="M174.1 166.4L170 159.1"/><path class="q12" d="M170 159.1L168.6 152.8"/><path class="q15" d="M168.6 152.8L167.2 146.4"/><path class="q18" d="M167.2 146.4L165.9 140L163.8 143.8"/><path class="q15" d="M163.8 143.8L161.7 147.7"/><path class="q14" d="M161.7 147.7L159.7 142"/><path class="q17" d="M159.7 142L157.6 136.3"/><path class="q18" d="M157.6 136.3L153.5 131.2"/><path class="q19" d="M153.5 131.2L149.3 127.6"/><path class="q20" d="M149.3 127.6L148 121.7"/><path class="q23" d="M148 121.7L146.6 115.8"/><path class="q26" d="M146.6 115.8L145.2 109.9"/><path class="q25" d="M145.2 109.9L144.2 115.7"/><path class="q21" d="M144.2 115.7L143.2 121.4"/><path class="q17" d="M143.2 121.4L142.1 127.2"/><path class="q13" d="M142.1 127.2L141.1 132.9"/><path class="q9" d="M141.1 132.9L139 136.6"/><path class="q5" d="M139 136.6L137 140.3"/><path class="q2" d="M137 140.3L134.9 141.9"/><path class="q0" d="M134.9 141.9L132.8 143.5"/><path class="w" d="M181 187.9L181 180.8L176.9 179.5L172.8 166.7L168.7 159.4L164.5 139.2L160.4 147.9L156.3 136.5L152.2 131.5L148 127.8L143.9 114.1L139.8 137.9L135.7 141.3L131.5 143.8L131.5 143.8Z"/><path class="k" d="M181 187.9L181 180.8"/><path class="q2" d="M181 180.8L176.9 179.5"/><path class="q3" d="M176.9 179.5L174.9 173.1"/><path class="q6" d="M174.9 173.1L172.8 166.7"/><path class="q9" d="M172.8 166.7L168.7 159.4"/><path class="q12" d="M168.7 159.4L167.3 152.7"/><path class="q15" d="M167.3 152.7L165.9 145.9"/><path class="q19" d="M165.9 145.9L164.5 139.2L162.5 143.6"/><path class="q15" d="M162.5 143.6L160.4 147.9"/><path class="q14" d="M160.4 147.9L158.3 142.2"/><path class="q17" d="M158.3 142.2L156.3 136.5"/><path class="q18" d="M156.3 136.5L152.2 131.5"/><path class="q19" d="M152.2 131.5L148 127.8"/><path class="q20" d="M148 127.8L146 120.9"/><path class="q23" d="M146 120.9L143.9 114.1L143.1 118.8"/><path class="q20" d="M143.1 118.8L142.3 123.6"/><path class="q16" d="M142.3 123.6L141.4 128.3"/><path class="q13" d="M141.4 128.3L140.6 133.1"/><path class="q9" d="M140.6 133.1L139.8 137.9"/><path class="q6" d="M139.8 137.9L137.7 139.6"/><path class="q4" d="M137.7 139.6L135.7 141.3"/><path class="q1" d="M135.7 141.3L131.5 143.8"/><path class="w" d="M179.7 188.2L179.7 181.1L175.6 179.8L171.5 166.9L167.3 159.7L163.2 138.2L159.1 148.2L155 136.8L150.8 131.7L146.7 128.1L142.6 121.6L138.5 140.3L134.3 141.1L130.2 144L130.2 144Z"/><path class="k" d="M179.7 188.2L179.7 181.1"/><path class="q2" d="M179.7 181.1L175.6 179.8"/><path class="q3" d="M175.6 179.8L173.5 173.4"/><path class="q6" d="M173.5 173.4L171.5 166.9"/><path class="q9" d="M171.5 166.9L167.3 159.7"/><path class="q12" d="M167.3 159.7L166 152.5"/><path class="q16" d="M166 152.5L164.6 145.3"/><path class="q20" d="M164.6 145.3L163.2 138.2L161.8 141.5"/><path class="q17" d="M161.8 141.5L160.5 144.8"/><path class="q14" d="M160.5 144.8L159.1 148.2L157 142.5"/><path class="q17" d="M157 142.5L155 136.8"/><path class="q18" d="M155 136.8L150.8 131.7"/><path class="q19" d="M150.8 131.7L146.7 128.1"/><path class="q20" d="M146.7 128.1L142.6 121.6"/><path class="q19" d="M142.6 121.6L141.6 126.3"/><path class="q15" d="M141.6 126.3L140.5 130.9"/><path class="q11" d="M140.5 130.9L139.5 135.6"/><path class="q8" d="M139.5 135.6L138.5 140.3"/><path class="q4" d="M138.5 140.3L134.3 141.1"/><path class="q1" d="M134.3 141.1L130.2 144"/><path class="w" d="M178.4 188.5L178.4 181.2L174.3 180L170.2 167.2L166 159.2L161.9 137.8L157.8 148.4L153.7 137L149.5 131.7L145.4 129.5L141.3 127.9L137.1 142L133 139.7L128.9 144.3L128.9 144.3Z"/><path class="k" d="M178.4 188.5L178.4 181.2"/><path class="q3" d="M178.4 181.2L174.3 180L172.2 173.6"/><path class="q6" d="M172.2 173.6L170.2 167.2"/><path class="q9" d="M170.2 167.2L166 159.2"/><path class="q12" d="M166 159.2L164.7 152"/><path class="q16" d="M164.7 152L163.3 144.9"/><path class="q20" d="M163.3 144.9L161.9 137.8L160.5 141.3"/><path class="q17" d="M160.5 141.3L159.2 144.9"/><path class="q14" d="M159.2 144.9L157.8 148.4L155.7 142.7"/><path class="q17" d="M155.7 142.7L153.7 137"/><path class="q18" d="M153.7 137L149.5 131.7L145.4 129.5"/><path class="q17" d="M145.4 129.5L141.3 127.9"/><path class="q15" d="M141.3 127.9L139.9 132.6"/><path class="q11" d="M139.9 132.6L138.5 137.3"/><path class="q7" d="M138.5 137.3L137.1 142"/><path class="q4" d="M137.1 142L133 139.7"/><path class="q3" d="M133 139.7L131 142"/><path class="q0" d="M131 142L128.9 144.3"/><path class="w" d="M177.1 188.7L177.1 180.3L173 179.7L168.8 166.8L164.7 156.9L160.6 138.2L156.5 148L152.3 136.4L148.2 129.6L144.1 133.9L140 130.9L135.8 142.2L131.7 138.2L127.6 144.6L127.6 144.6Z"/><path class="k" d="M177.1 188.7L177.1 180.3"/><path class="q3" d="M177.1 180.3L173 179.7"/><path class="q4" d="M173 179.7L170.9 173.2"/><path class="q7" d="M170.9 173.2L168.8 166.8"/><path class="q10" d="M168.8 166.8L164.7 156.9"/><path class="q14" d="M164.7 156.9L163.3 150.6"/><path class="q17" d="M163.3 150.6L162 144.4"/><path class="q20" d="M162 144.4L160.6 138.2L159.2 141.4"/><path class="q18" d="M159.2 141.4L157.8 144.7"/><path class="q15" d="M157.8 144.7L156.5 148"/><path class="q14" d="M156.5 148L154.4 142.2"/><path class="q17" d="M154.4 142.2L152.3 136.4"/><path class="q19" d="M152.3 136.4L148.2 129.6L146.2 131.7"/><path class="q17" d="M146.2 131.7L144.1 133.9"/><path class="q15" d="M144.1 133.9L140 130.9"/><path class="q13" d="M140 130.9L138.6 134.7"/><path class="q10" d="M138.6 134.7L137.2 138.5"/><path class="q7" d="M137.2 138.5L135.8 142.2"/><path class="q5" d="M135.8 142.2L131.7 138.2"/><path class="q3" d="M131.7 138.2L129.6 141.4"/><path class="q0" d="M129.6 141.4L127.6 144.6"/><path class="w" d="M175.8 189L175.8 178.3L171.7 177.9L167.5 164.6L163.4 154.3L159.3 140.5L155.2 145.8L151 133.5L146.9 125.5L142.8 139.1L138.6 134.8L134.5 141L130.4 139.2L126.3 144.8L126.3 144.8Z"/><path class="k" d="M175.8 189L175.8 178.3"/><path class="q4" d="M175.8 178.3L171.7 177.9"/><path class="q5" d="M171.7 177.9L169.6 171.3"/><path class="q8" d="M169.6 171.3L167.5 164.6"/><path class="q12" d="M167.5 164.6L163.4 154.3"/><path class="q16" d="M163.4 154.3L161.3 147.4"/><path class="q19" d="M161.3 147.4L159.3 140.5L157.2 143.2"/><path class="q16" d="M157.2 143.2L155.2 145.8L153.1 139.7"/><path class="q19" d="M153.1 139.7L151 133.5"/><path class="q22" d="M151 133.5L146.9 125.5"/><path class="q21" d="M146.9 125.5L145.5 130"/><path class="q18" d="M145.5 130L144.1 134.6"/><path class="q14" d="M144.1 134.6L142.8 139.1"/><path class="q12" d="M142.8 139.1L138.6 134.8"/><path class="q11" d="M138.6 134.8L136.6 137.9"/><path class="q7" d="M136.6 137.9L134.5 141"/><path class="q5" d="M134.5 141L130.4 139.2"/><path class="q3" d="M130.4 139.2L128.3 142"/><path class="q0" d="M128.3 142L126.3 144.8"/><path class="w" d="M174.5 189.2L174.5 177.2L170.3 176.5L166.2 162.9L162.1 155.2L158 144.6L153.8 142.3L149.7 130L145.6 124L141.5 143.3L137.3 139.6L133.2 139.5L129.1 142.7L125 145.1L125 145.1Z"/><path class="k" d="M174.5 189.2L174.5 177.2"/><path class="q5" d="M174.5 177.2L170.3 176.5"/><path class="q6" d="M170.3 176.5L168.3 169.7"/><path class="q9" d="M168.3 169.7L166.2 162.9"/><path class="q12" d="M166.2 162.9L162.1 155.2"/><path class="q15" d="M162.1 155.2L160 149.9"/><path class="q17" d="M160 149.9L158 144.6"/><path class="q18" d="M158 144.6L153.8 142.3"/><path class="q19" d="M153.8 142.3L151.8 136.1"/><path class="q21" d="M151.8 136.1L149.7 130"/><path class="q23" d="M149.7 130L145.6 124"/><path class="q22" d="M145.6 124L144.6 128.8"/><path class="q19" d="M144.6 128.8L143.5 133.7"/><path class="q15" d="M143.5 133.7L142.5 138.5"/><path class="q11" d="M142.5 138.5L141.5 143.3"/><path class="q9" d="M141.5 143.3L137.3 139.6"/><path class="q8" d="M137.3 139.6L133.2 139.5"/><path class="q6" d="M133.2 139.5L131.1 141.1"/><path class="q4" d="M131.1 141.1L129.1 142.7"/><path class="q1" d="M129.1 142.7L125 145.1"/><path class="w" d="M173.2 189.5L173.2 178.8L169 178.1L164.9 164.8L160.8 159.8L156.7 148.1L152.5 137.9L148.4 128.2L144.3 127L140.1 148.5L136 142.2L131.9 138.9L127.8 145.6L123.6 145.3L123.6 145.3Z"/><path class="k" d="M173.2 189.5L173.2 178.8"/><path class="q5" d="M173.2 178.8L169 178.1L167 171.4"/><path class="q8" d="M167 171.4L164.9 164.8"/><path class="q10" d="M164.9 164.8L160.8 159.8"/><path class="q12" d="M160.8 159.8L158.7 153.9"/><path class="q15" d="M158.7 153.9L156.7 148.1"/><path class="q18" d="M156.7 148.1L152.5 137.9"/><path class="q22" d="M152.5 137.9L148.4 128.2"/><path class="q23" d="M148.4 128.2L144.3 127"/><path class="q20" d="M144.3 127L143.2 132.4"/><path class="q16" d="M143.2 132.4L142.2 137.7"/><path class="q12" d="M142.2 137.7L141.2 143.1"/><path class="q8" d="M141.2 143.1L140.1 148.5"/><path class="q7" d="M140.1 148.5L136 142.2"/><path class="q8" d="M136 142.2L131.9 138.9"/><path class="q6" d="M131.9 138.9L129.8 142.3"/><path class="q2" d="M129.8 142.3L127.8 145.6"/><path class="q0" d="M127.8 145.6L123.6 145.3"/><path class="w" d="M171.8 189.7L171.8 181.3L167.7 181.5L163.6 168.7L159.5 163.7L155.3 145.9L151.2 134.2L147.1 128.6L143 130.4L138.8 154.4L134.7 142.2L130.6 137.6L126.5 145.7L122.3 145.6L122.3 145.6Z"/><path class="k" d="M171.8 189.7L171.8 181.3"/><path class="q3" d="M171.8 181.3L167.7 181.5L165.7 175.1"/><path class="q6" d="M165.7 175.1L163.6 168.7"/><path class="q8" d="M163.6 168.7L159.5 163.7"/><path class="q10" d="M159.5 163.7L158.1 157.8"/><path class="q13" d="M158.1 157.8L156.7 151.9"/><path class="q16" d="M156.7 151.9L155.3 145.9"/><path class="q19" d="M155.3 145.9L153.3 140"/><path class="q21" d="M153.3 140L151.2 134.2"/><path class="q23" d="M151.2 134.2L147.1 128.6"/><path class="q22" d="M147.1 128.6L143 130.4"/><path class="q19" d="M143 130.4L142.1 135.2"/><path class="q15" d="M142.1 135.2L141.3 140"/><path class="q12" d="M141.3 140L140.5 144.8"/><path class="q8" d="M140.5 144.8L139.7 149.6"/><path class="q4" d="M139.7 149.6L138.8 154.4L136.8 148.3"/><path class="q7" d="M136.8 148.3L134.7 142.2"/><path class="q8" d="M134.7 142.2L130.6 137.6"/><path class="q7" d="M130.6 137.6L128.5 141.7"/><path class="q3" d="M128.5 141.7L126.5 145.7"/><path class="q0" d="M126.5 145.7L122.3 145.6"/><path class="w" d="M170.5 190L170.5 182.7L166.4 183.5L162.3 171.1L158.2 164.5L154 134.5L149.9 132.7L145.8 132.5L141.6 133.6L137.5 157.6L133.4 138L129.3 133.1L125.1 142.4L121 145.8L121 145.8Z"/><path class="k" d="M170.5 190L170.5 182.7"/><path class="q2" d="M170.5 182.7L166.4 183.5L164.3 177.3"/><path class="q5" d="M164.3 177.3L162.3 171.1"/><path class="q7" d="M162.3 171.1L158.2 164.5"/><path class="q10" d="M158.2 164.5L157.1 157"/><path class="q14" d="M157.1 157L156.1 149.5"/><path class="q19" d="M156.1 149.5L155.1 142"/><path class="q23" d="M155.1 142L154 134.5"/><path class="q24" d="M154 134.5L149.9 132.7"/><path class="q23" d="M149.9 132.7L145.8 132.5"/><path class="q20" d="M145.8 132.5L141.6 133.6"/><path class="q17" d="M141.6 133.6L140.8 138.4"/><path class="q13" d="M140.8 138.4L140 143.2"/><path class="q10" d="M140 143.2L139.2 148"/><path class="q6" d="M139.2 148L138.3 152.8"/><path class="q2" d="M138.3 152.8L137.5 157.6L136.1 151.1"/><path class="q6" d="M136.1 151.1L134.8 144.6"/><path class="q9" d="M134.8 144.6L133.4 138"/><path class="q11" d="M133.4 138L129.3 133.1"/><path class="q10" d="M129.3 133.1L127.2 137.7"/><path class="q5" d="M127.2 137.7L125.1 142.4"/><path class="q2" d="M125.1 142.4L123.1 144.1"/><path class="q0" d="M123.1 144.1L121 145.8"/><path class="w" d="M169.2 190.2L169.2 183.1L165.1 183.8L161 170.6L156.8 160.4L152.7 120.5L148.6 135.5L144.5 140.8L140.3 141.1L136.2 157.2L132.1 129.9L128 127.5L123.8 138.4L119.7 146.1L119.7 146.1Z"/><path class="k" d="M169.2 190.2L169.2 183.1"/><path class="q2" d="M169.2 183.1L165.1 183.8L163 177.2"/><path class="q5" d="M163 177.2L161 170.6"/><path class="q9" d="M161 170.6L156.8 160.4"/><path class="q13" d="M156.8 160.4L156.1 153.7"/><path class="q17" d="M156.1 153.7L155.5 147.1"/><path class="q21" d="M155.5 147.1L154.8 140.4"/><path class="q24" d="M154.8 140.4L154.1 133.8"/><path class="q28" d="M154.1 133.8L153.4 127.2"/><path class="q32" d="M153.4 127.2L152.7 120.5L151.3 125.5"/><path class="q28" d="M151.3 125.5L150 130.5"/><path class="q24" d="M150 130.5L148.6 135.5"/><path class="q21" d="M148.6 135.5L146.5 138.1"/><path class="q18" d="M146.5 138.1L144.5 140.8"/><path class="q15" d="M144.5 140.8L140.3 141.1"/><path class="q12" d="M140.3 141.1L139 146.5"/><path class="q7" d="M139 146.5L137.6 151.9"/><path class="q3" d="M137.6 151.9L136.2 157.2L135.2 150.4"/><path class="q7" d="M135.2 150.4L134.1 143.6"/><path class="q11" d="M134.1 143.6L133.1 136.7"/><path class="q14" d="M133.1 136.7L132.1 129.9"/><path class="q16" d="M132.1 129.9L128 127.5"/><path class="q14" d="M128 127.5L126.6 131.1"/><path class="q11" d="M126.6 131.1L125.2 134.8"/><path class="q8" d="M125.2 134.8L123.8 138.4"/><path class="q4" d="M123.8 138.4L121.8 142.2"/><path class="q0" d="M121.8 142.2L119.7 146.1"/><path class="w" d="M167.9 190.5L167.9 182.9L163.8 182.7L159.7 167.7L155.5 152.3L151.4 113.3L147.3 142.6L143.1 151.4L139 150.3L134.9 153.9L130.8 123.3L126.6 124.7L122.5 136.4L118.4 146.3L118.4 146.3Z"/><path class="k" d="M167.9 190.5L167.9 182.9"/><path class="q2" d="M167.9 182.9L163.8 182.7"/><path class="q3" d="M163.8 182.7L161.7 175.2"/><path class="q7" d="M161.7 175.2L159.7 167.7"/><path class="q11" d="M159.7 167.7L157.6 160"/><path class="q14" d="M157.6 160L155.5 152.3"/><path class="q18" d="M155.5 152.3L154.8 145.8"/><path class="q22" d="M154.8 145.8L154.1 139.3"/><path class="q25" d="M154.1 139.3L153.5 132.8"/><path class="q29" d="M153.5 132.8L152.8 126.3"/><path class="q33" d="M152.8 126.3L152.1 119.8"/><path class="q36" d="M152.1 119.8L151.4 113.3L150.6 119.1"/><path class="q32" d="M150.6 119.1L149.7 125"/><path class="q28" d="M149.7 125L148.9 130.9"/><path class="q24" d="M148.9 130.9L148.1 136.7"/><path class="q20" d="M148.1 136.7L147.3 142.6"/><path class="q16" d="M147.3 142.6L145.2 147"/><path class="q12" d="M145.2 147L143.1 151.4"/><path class="q9" d="M143.1 151.4L139 150.3"/><path class="q7" d="M139 150.3L137 152.1"/><path class="q4" d="M137 152.1L134.9 153.9"/><path class="q5" d="M134.9 153.9L134.1 147.8"/><path class="q9" d="M134.1 147.8L133.2 141.7"/><path class="q12" d="M133.2 141.7L132.4 135.6"/><path class="q16" d="M132.4 135.6L131.6 129.4"/><path class="q19" d="M131.6 129.4L130.8 123.3L126.6 124.7"/><path class="q16" d="M126.6 124.7L125.3 128.6"/><path class="q13" d="M125.3 128.6L123.9 132.5"/><path class="q9" d="M123.9 132.5L122.5 136.4"/><path class="q6" d="M122.5 136.4L121.1 139.7"/><path class="q3" d="M121.1 139.7L119.8 143"/><path class="q0" d="M119.8 143L118.4 146.3"/><path class="w" d="M166.6 190.7L166.6 181.3L162.5 180.5L158.3 164L154.2 147.6L150.1 117.1L146 153.2L141.8 159.1L137.7 153.7L133.6 147.1L129.4 121.6L125.3 124L121.2 137L117.1 146.6L117.1 146.6Z"/><path class="k" d="M166.6 190.7L166.6 181.3"/><path class="q4" d="M166.6 181.3L162.5 180.5"/><path class="q5" d="M162.5 180.5L160.4 172.3"/><path class="q9" d="M160.4 172.3L158.3 164"/><path class="q13" d="M158.3 164L156.3 155.8"/><path class="q18" d="M156.3 155.8L154.2 147.6"/><path class="q21" d="M154.2 147.6L153.4 141.5"/><path class="q24" d="M153.4 141.5L152.6 135.4"/><path class="q28" d="M152.6 135.4L151.7 129.3"/><path class="q31" d="M151.7 129.3L150.9 123.2"/><path class="q34" d="M150.9 123.2L150.1 117.1L149.4 123.1"/><path class="q30" d="M149.4 123.1L148.7 129.1"/><path class="q26" d="M148.7 129.1L148 135.1"/><path class="q22" d="M148 135.1L147.3 141.2"/><path class="q18" d="M147.3 141.2L146.6 147.2"/><path class="q13" d="M146.6 147.2L146 153.2"/><path class="q10" d="M146 153.2L143.9 156.1"/><path class="q6" d="M143.9 156.1L141.8 159.1"/><path class="q5" d="M141.8 159.1L137.7 153.7"/><path class="q7" d="M137.7 153.7L133.6 147.1"/><path class="q10" d="M133.6 147.1L132.5 140.8"/><path class="q13" d="M132.5 140.8L131.5 134.4"/><path class="q17" d="M131.5 134.4L130.5 128"/><path class="q20" d="M130.5 128L129.4 121.6L125.3 124"/><path class="q16" d="M125.3 124L123.9 128.3"/><path class="q13" d="M123.9 128.3L122.6 132.7"/><path class="q9" d="M122.6 132.7L121.2 137"/><path class="q5" d="M121.2 137L119.1 141.8"/><path class="q1" d="M119.1 141.8L117.1 146.6"/><path class="w" d="M165.3 191L165.3 179.3L161.1 178.8L157 163.2L152.9 152.8L148.8 132.7L144.6 162.1L140.5 161.7L136.4 149.4L132.3 135.4L128.1 120.8L124 122.2L119.9 139.7L115.8 146.8L115.8 146.8Z"/><path class="k" d="M165.3 191L165.3 179.3"/><path class="q5" d="M165.3 179.3L161.1 178.8"/><path class="q6" d="M161.1 178.8L159.1 171"/><path class="q10" d="M159.1 171L157 163.2"/><path class="q13" d="M157 163.2L155 158"/><path class="q15" d="M155 158L152.9 152.8"/><path class="q18" d="M152.9 152.8L151.5 146.1"/><path class="q22" d="M151.5 146.1L150.1 139.4"/><path class="q25" d="M150.1 139.4L148.8 132.7"/><path class="q24" d="M148.8 132.7L147.9 138.6"/><path class="q20" d="M147.9 138.6L147.1 144.5"/><path class="q16" d="M147.1 144.5L146.3 150.3"/><path class="q12" d="M146.3 150.3L145.5 156.2"/><path class="q8" d="M145.5 156.2L144.6 162.1"/><path class="q4" d="M144.6 162.1L140.5 161.7"/><path class="q5" d="M140.5 161.7L138.5 155.5"/><path class="q8" d="M138.5 155.5L136.4 149.4"/><path class="q11" d="M136.4 149.4L134.3 142.4"/><path class="q14" d="M134.3 142.4L132.3 135.4"/><path class="q17" d="M132.3 135.4L130.2 128.1"/><path class="q21" d="M130.2 128.1L128.1 120.8L124 122.2"/><path class="q18" d="M124 122.2L123 126.5"/><path class="q14" d="M123 126.5L121.9 130.9"/><path class="q11" d="M121.9 130.9L120.9 135.3"/><path class="q7" d="M120.9 135.3L119.9 139.7"/><path class="q4" d="M119.9 139.7L117.8 143.3"/><path class="q0" d="M117.8 143.3L115.8 146.8"/><path class="w" d="M164 191.3L164 178.9L159.8 179.8L155.7 166.4L151.6 161.4L147.5 151.6L143.3 166.2L139.2 159.9L135.1 141.9L130.9 123.3L126.8 117.5L122.7 119.9L118.6 142.9L114.4 147.1L114.4 147.1Z"/><path class="k" d="M164 191.3L164 178.9"/><path class="q5" d="M164 178.9L159.8 179.8L157.8 173.1"/><path class="q8" d="M157.8 173.1L155.7 166.4"/><path class="q10" d="M155.7 166.4L151.6 161.4"/><path class="q13" d="M151.6 161.4L147.5 151.6L146.1 156.5"/><path class="q9" d="M146.1 156.5L144.7 161.4"/><path class="q5" d="M144.7 161.4L143.3 166.2"/><path class="q4" d="M143.3 166.2L139.2 159.9"/><path class="q6" d="M139.2 159.9L137.8 153.9"/><path class="q9" d="M137.8 153.9L136.5 147.9"/><path class="q12" d="M136.5 147.9L135.1 141.9"/><path class="q16" d="M135.1 141.9L133.7 135.7"/><path class="q19" d="M133.7 135.7L132.3 129.5"/><path class="q22" d="M132.3 129.5L130.9 123.3"/><path class="q24" d="M130.9 123.3L126.8 117.5"/><path class="q23" d="M126.8 117.5L122.7 119.9"/><path class="q19" d="M122.7 119.9L121.7 125.6"/><path class="q15" d="M121.7 125.6L120.6 131.4"/><path class="q10" d="M120.6 131.4L119.6 137.1"/><path class="q6" d="M119.6 137.1L118.6 142.9"/><path class="q2" d="M118.6 142.9L116.5 145"/><path class="q0" d="M116.5 145L114.4 147.1"/><path class="w" d="M162.6 191.5L162.6 180.8L158.5 182.6L154.4 170.5L150.3 166.1L146.1 161.8L142 165.9L137.9 156.9L133.8 133.6L129.6 113.6L125.5 113.5L121.4 118.8L117.3 144.6L113.1 147.3L113.1 147.3Z"/><path class="k" d="M162.6 191.5L162.6 180.8"/><path class="q4" d="M162.6 180.8L158.5 182.6"/><path class="q3" d="M158.5 182.6L156.5 176.6"/><path class="q6" d="M156.5 176.6L154.4 170.5"/><path class="q8" d="M154.4 170.5L150.3 166.1L146.1 161.8"/><path class="q7" d="M146.1 161.8L144.1 163.9"/><path class="q5" d="M144.1 163.9L142 165.9L137.9 156.9"/><path class="q9" d="M137.9 156.9L136.5 149.1"/><path class="q13" d="M136.5 149.1L135.1 141.3"/><path class="q17" d="M135.1 141.3L133.8 133.6"/><path class="q21" d="M133.8 133.6L132.4 126.9"/><path class="q25" d="M132.4 126.9L131 120.3"/><path class="q28" d="M131 120.3L129.6 113.6L125.5 113.5"/><path class="q26" d="M125.5 113.5L123.4 116.2"/><path class="q23" d="M123.4 116.2L121.4 118.8"/><path class="q20" d="M121.4 118.8L120.6 124"/><path class="q16" d="M120.6 124L119.7 129.1"/><path class="q12" d="M119.7 129.1L118.9 134.3"/><path class="q9" d="M118.9 134.3L118.1 139.4"/><path class="q5" d="M118.1 139.4L117.3 144.6"/><path class="q1" d="M117.3 144.6L113.1 147.3"/><path class="w" d="M161.3 191.8L161.3 183.3L157.2 184.9L153.1 172.8L149 166.8L144.8 163.1L140.7 162.6L136.6 152.5L132.4 127L128.3 106.3L124.2 111.5L120.1 118.9L115.9 144L111.8 147.6L111.8 147.6Z"/><path class="k" d="M161.3 191.8L161.3 183.3"/><path class="q2" d="M161.3 183.3L157.2 184.9L155.1 178.9"/><path class="q5" d="M155.1 178.9L153.1 172.8"/><path class="q7" d="M153.1 172.8L149 166.8"/><path class="q8" d="M149 166.8L144.8 163.1"/><path class="q7" d="M144.8 163.1L140.7 162.6"/><path class="q8" d="M140.7 162.6L136.6 152.5"/><path class="q12" d="M136.6 152.5L135.5 146.1"/><path class="q15" d="M135.5 146.1L134.5 139.8"/><path class="q19" d="M134.5 139.8L133.5 133.4"/><path class="q22" d="M133.5 133.4L132.4 127"/><path class="q25" d="M132.4 127L131.1 120.1"/><path class="q29" d="M131.1 120.1L129.7 113.2"/><path class="q32" d="M129.7 113.2L128.3 106.3"/><path class="q33" d="M128.3 106.3L126.3 108.9"/><path class="q30" d="M126.3 108.9L124.2 111.5"/><path class="q27" d="M124.2 111.5L122.1 115.2"/><path class="q24" d="M122.1 115.2L120.1 118.9"/><path class="q20" d="M120.1 118.9L119.2 123.9"/><path class="q17" d="M119.2 123.9L118.4 128.9"/><path class="q13" d="M118.4 128.9L117.6 133.9"/><path class="q9" d="M117.6 133.9L116.8 138.9"/><path class="q5" d="M116.8 138.9L115.9 144"/><path class="q2" d="M115.9 144L113.9 145.8"/><path class="q0" d="M113.9 145.8L111.8 147.6"/><path class="w" d="M160 192L160 184.8L155.9 185.8L151.8 173.3L147.6 167.1L143.5 163.4L139.4 158.6L135.3 146.8L131.1 122.4L127 100.9L122.9 111.5L118.8 121.1L114.6 142.3L110.5 147.9L110.5 147.9Z"/><path class="k" d="M160 192L160 184.8"/><path class="q2" d="M160 184.8L155.9 185.8L153.8 179.5"/><path class="q5" d="M153.8 179.5L151.8 173.3"/><path class="q7" d="M151.8 173.3L147.6 167.1"/><path class="q8" d="M147.6 167.1L143.5 163.4L139.4 158.6"/><path class="q10" d="M139.4 158.6L137.3 152.7"/><path class="q12" d="M137.3 152.7L135.3 146.8"/><path class="q15" d="M135.3 146.8L134.2 140.7"/><path class="q19" d="M134.2 140.7L133.2 134.6"/><path class="q22" d="M133.2 134.6L132.2 128.5"/><path class="q25" d="M132.2 128.5L131.1 122.4"/><path class="q29" d="M131.1 122.4L129.8 115.2"/><path class="q32" d="M129.8 115.2L128.4 108"/><path class="q36" d="M128.4 108L127 100.9L125.6 104.4"/><path class="q33" d="M125.6 104.4L124.3 108"/><path class="q30" d="M124.3 108L122.9 111.5"/><path class="q27" d="M122.9 111.5L120.8 116.3"/><path class="q23" d="M120.8 116.3L118.8 121.1"/><path class="q19" d="M118.8 121.1L117.7 126.4"/><path class="q15" d="M117.7 126.4L116.7 131.7"/><path class="q11" d="M116.7 131.7L115.7 137"/><path class="q7" d="M115.7 137L114.6 142.3"/><path class="q3" d="M114.6 142.3L112.6 145.1"/><path class="q0" d="M112.6 145.1L110.5 147.9"/><path class="w" d="M158.7 192.3L158.7 185.2L154.6 186L150.5 173.6L146.3 167.3L142.2 163.6L138.1 156.2L133.9 139.2L129.8 117L125.7 100.2L121.6 113.4L117.4 128.3L113.3 140.9L109.2 148.1L109.2 148.1Z"/><path class="k" d="M158.7 192.3L158.7 185.2"/><path class="q2" d="M158.7 185.2L154.6 186L152.5 179.8"/><path class="q5" d="M152.5 179.8L150.5 173.6"/><path class="q7" d="M150.5 173.6L146.3 167.3"/><path class="q8" d="M146.3 167.3L142.2 163.6"/><path class="q9" d="M142.2 163.6L138.1 156.2"/><path class="q12" d="M138.1 156.2L136 147.7"/><path class="q17" d="M136 147.7L133.9 139.2"/><path class="q21" d="M133.9 139.2L132.6 131.8"/><path class="q25" d="M132.6 131.8L131.2 124.4"/><path class="q28" d="M131.2 124.4L129.8 117"/><path class="q32" d="M129.8 117L127.8 108.6"/><path class="q36" d="M127.8 108.6L125.7 100.2L124.3 104.6"/><path class="q33" d="M124.3 104.6L122.9 109"/><path class="q30" d="M122.9 109L121.6 113.4"/><path class="q26" d="M121.6 113.4L120.2 118.3"/><path class="q22" d="M120.2 118.3L118.8 123.3"/><path class="q18" d="M118.8 123.3L117.4 128.3"/><path class="q15" d="M117.4 128.3L116.1 132.5"/><path class="q11" d="M116.1 132.5L114.7 136.7"/><path class="q7" d="M114.7 136.7L113.3 140.9"/><path class="q4" d="M113.3 140.9L111.2 144.5"/><path class="q0" d="M111.2 144.5L109.2 148.1"/><path class="w" d="M157.4 192.5L157.4 185.4L153.3 186.3L149.1 173.8L145 167.6L140.9 162.2L136.8 152.5L132.6 127.5L128.5 111.4L124.4 107.3L120.3 119.2L116.1 136.9L112 140.8L107.9 148.4L107.9 148.4Z"/><path class="k" d="M157.4 192.5L157.4 185.4"/><path class="q2" d="M157.4 185.4L153.3 186.3L151.2 180"/><path class="q5" d="M151.2 180L149.1 173.8"/><path class="q7" d="M149.1 173.8L145 167.6"/><path class="q8" d="M145 167.6L140.9 162.2"/><path class="q11" d="M140.9 162.2L136.8 152.5"/><path class="q14" d="M136.8 152.5L135.7 146.2"/><path class="q18" d="M135.7 146.2L134.7 140"/><path class="q21" d="M134.7 140L133.7 133.7"/><path class="q25" d="M133.7 133.7L132.6 127.5"/><path class="q28" d="M132.6 127.5L130.6 119.4"/><path class="q32" d="M130.6 119.4L128.5 111.4"/><path class="q34" d="M128.5 111.4L124.4 107.3"/><path class="q32" d="M124.4 107.3L123 111.3"/><path class="q29" d="M123 111.3L121.6 115.3"/><path class="q26" d="M121.6 115.3L120.3 119.2"/><path class="q23" d="M120.3 119.2L119.2 123.6"/><path class="q20" d="M119.2 123.6L118.2 128.1"/><path class="q16" d="M118.2 128.1L117.2 132.5"/><path class="q13" d="M117.2 132.5L116.1 136.9"/><path class="q10" d="M116.1 136.9L114.1 138.9"/><path class="q7" d="M114.1 138.9L112 140.8"/><path class="q4" d="M112 140.8L109.9 144.6"/><path class="q0" d="M109.9 144.6L107.9 148.4"/><path class="w" d="M156.1 192.8L156.1 185.7L152 186.5L147.8 174.1L143.7 167.8L139.6 156.6L135.4 145.7L131.3 115.3L127.2 113.7L123.1 120.4L118.9 126.3L114.8 141.6L110.7 142.1L106.6 148.6L106.6 148.6Z"/><path class="k" d="M156.1 192.8L156.1 185.7"/><path class="q2" d="M156.1 185.7L152 186.5L149.9 180.3"/><path class="q5" d="M149.9 180.3L147.8 174.1"/><path class="q7" d="M147.8 174.1L143.7 167.8"/><path class="q9" d="M143.7 167.8L141.6 162.2"/><path class="q11" d="M141.6 162.2L139.6 156.6"/><path class="q14" d="M139.6 156.6L137.5 151.2"/><path class="q16" d="M137.5 151.2L135.4 145.7"/><path class="q19" d="M135.4 145.7L134.4 138.1"/><path class="q24" d="M134.4 138.1L133.4 130.5"/><path class="q28" d="M133.4 130.5L132.3 122.9"/><path class="q32" d="M132.3 122.9L131.3 115.3"/><path class="q33" d="M131.3 115.3L127.2 113.7"/><path class="q31" d="M127.2 113.7L125.1 117"/><path class="q28" d="M125.1 117L123.1 120.4"/><path class="q25" d="M123.1 120.4L121 123.3"/><path class="q22" d="M121 123.3L118.9 126.3"/><path class="q18" d="M118.9 126.3L117.6 131.4"/><path class="q14" d="M117.6 131.4L116.2 136.5"/><path class="q10" d="M116.2 136.5L114.8 141.6"/><path class="q7" d="M114.8 141.6L110.7 142.1"/><path class="q4" d="M110.7 142.1L108.6 145.4"/><path class="q0" d="M108.6 145.4L106.6 148.6"/><path class="w" d="M154.8 193L154.8 185.9L150.6 186.8L146.5 174.3L142.4 167.7L138.3 147.2L134.1 140.2L130 112.4L125.9 123.8L121.8 131.6L117.6 130.5L113.5 142.3L109.4 144.2L105.2 148.9L105.2 148.9Z"/><path class="k" d="M154.8 193L154.8 185.9"/><path class="q2" d="M154.8 185.9L150.6 186.8L148.6 180.6"/><path class="q5" d="M148.6 180.6L146.5 174.3"/><path class="q7" d="M146.5 174.3L142.4 167.7"/><path class="q10" d="M142.4 167.7L141 160.9"/><path class="q13" d="M141 160.9L139.6 154"/><path class="q17" d="M139.6 154L138.3 147.2"/><path class="q20" d="M138.3 147.2L134.1 140.2"/><path class="q23" d="M134.1 140.2L133.1 133.3"/><path class="q26" d="M133.1 133.3L132.1 126.3"/><path class="q30" d="M132.1 126.3L131 119.4"/><path class="q34" d="M131 119.4L130 112.4L128.6 116.2"/><path class="q31" d="M128.6 116.2L127.3 120"/><path class="q28" d="M127.3 120L125.9 123.8"/><path class="q25" d="M125.9 123.8L123.8 127.7"/><path class="q21" d="M123.8 127.7L121.8 131.6"/><path class="q19" d="M121.8 131.6L117.6 130.5"/><path class="q16" d="M117.6 130.5L116.2 134.4"/><path class="q13" d="M116.2 134.4L114.9 138.4"/><path class="q9" d="M114.9 138.4L113.5 142.3"/><path class="q6" d="M113.5 142.3L109.4 144.2"/><path class="q3" d="M109.4 144.2L107.3 146.5"/><path class="q0" d="M107.3 146.5L105.2 148.9"/><path class="w" d="M153.4 193.3L153.4 186.2L149.3 187L145.2 173.7L141.1 164.2L136.9 134.7L132.8 138.8L128.7 121.3L124.6 132.4L120.4 138.5L116.3 134.2L112.2 142.6L108.1 145L103.9 149.1L103.9 149.1Z"/><path class="k" d="M153.4 193.3L153.4 186.2"/><path class="q2" d="M153.4 186.2L149.3 187L147.3 180.4"/><path class="q5" d="M147.3 180.4L145.2 173.7"/><path class="q9" d="M145.2 173.7L141.1 164.2"/><path class="q13" d="M141.1 164.2L140 156.8"/><path class="q17" d="M140 156.8L139 149.5"/><path class="q21" d="M139 149.5L138 142.1"/><path class="q25" d="M138 142.1L136.9 134.7L134.9 136.8"/><path class="q23" d="M134.9 136.8L132.8 138.8L131.4 133"/><path class="q26" d="M131.4 133L130.1 127.1"/><path class="q29" d="M130.1 127.1L128.7 121.3L127.3 125"/><path class="q26" d="M127.3 125L125.9 128.7"/><path class="q23" d="M125.9 128.7L124.6 132.4"/><path class="q20" d="M124.6 132.4L122.5 135.5"/><path class="q17" d="M122.5 135.5L120.4 138.5"/><path class="q15" d="M120.4 138.5L116.3 134.2"/><path class="q14" d="M116.3 134.2L114.2 138.4"/><path class="q10" d="M114.2 138.4L112.2 142.6"/><path class="q6" d="M112.2 142.6L108.1 145"/><path class="q2" d="M108.1 145L106 147.1"/><path class="q0" d="M106 147.1L103.9 149.1"/><path class="w" d="M152.1 193.5L152.1 185.9L148 186.5L143.9 170.7L139.8 157.3L135.6 123.7L131.5 140L127.4 135.8L123.2 136.7L119.1 145.6L115 140.3L110.9 142.8L106.7 143.8L102.6 149.4L102.6 149.4Z"/><path class="k" d="M152.1 193.5L152.1 185.9"/><path class="q2" d="M152.1 185.9L148 186.5"/><path class="q3" d="M148 186.5L145.9 178.6"/><path class="q7" d="M145.9 178.6L143.9 170.7"/><path class="q10" d="M143.9 170.7L141.8 164"/><path class="q13" d="M141.8 164L139.8 157.3"/><path class="q17" d="M139.8 157.3L138.9 150.6"/><path class="q21" d="M138.9 150.6L138.1 143.9"/><path class="q24" d="M138.1 143.9L137.3 137.1"/><path class="q28" d="M137.3 137.1L136.5 130.4"/><path class="q32" d="M136.5 130.4L135.6 123.7L134.3 129.1"/><path class="q27" d="M134.3 129.1L132.9 134.6"/><path class="q23" d="M132.9 134.6L131.5 140"/><path class="q22" d="M131.5 140L127.4 135.8"/><path class="q20" d="M127.4 135.8L123.2 136.7"/><path class="q17" d="M123.2 136.7L121.2 141.2"/><path class="q13" d="M121.2 141.2L119.1 145.6"/><path class="q11" d="M119.1 145.6L115 140.3"/><path class="q10" d="M115 140.3L110.9 142.8"/><path class="q6" d="M110.9 142.8L106.7 143.8"/><path class="q3" d="M106.7 143.8L104.7 146.6"/><path class="q0" d="M104.7 146.6L102.6 149.4"/><path class="w" d="M150.8 193.8L150.8 184.3L146.7 184.1L142.6 167L138.4 151.8L134.3 118.4L130.2 143.6L126.1 148.1L121.9 142.7L117.8 151.3L113.7 145.3L109.6 143L105.4 142.4L101.3 149.6L101.3 149.6Z"/><path class="k" d="M150.8 193.8L150.8 184.3"/><path class="q4" d="M150.8 184.3L146.7 184.1"/><path class="q5" d="M146.7 184.1L144.6 175.6"/><path class="q9" d="M144.6 175.6L142.6 167"/><path class="q13" d="M142.6 167L140.5 159.4"/><path class="q17" d="M140.5 159.4L138.4 151.8"/><path class="q21" d="M138.4 151.8L137.6 145.1"/><path class="q24" d="M137.6 145.1L136.8 138.4"/><path class="q28" d="M136.8 138.4L136 131.7"/><path class="q32" d="M136 131.7L135.1 125.1"/><path class="q35" d="M135.1 125.1L134.3 118.4L133.5 123.4"/><path class="q32" d="M133.5 123.4L132.7 128.5"/><path class="q28" d="M132.7 128.5L131.8 133.5"/><path class="q25" d="M131.8 133.5L131 138.6"/><path class="q21" d="M131 138.6L130.2 143.6"/><path class="q18" d="M130.2 143.6L128.1 145.9"/><path class="q15" d="M128.1 145.9L126.1 148.1L121.9 142.7"/><path class="q13" d="M121.9 142.7L119.9 147"/><path class="q9" d="M119.9 147L117.8 151.3"/><path class="q8" d="M117.8 151.3L113.7 145.3L109.6 143"/><path class="q7" d="M109.6 143L105.4 142.4"/><path class="q4" d="M105.4 142.4L103.4 146"/><path class="q0" d="M103.4 146L101.3 149.6"/><path class="w" d="M149.5 194L149.5 182.2L145.4 181.3L141.3 164.6L137.1 151.4L133 120.7L128.9 150L124.7 153.8L120.6 148.4L116.5 151.2L112.4 145.9L108.2 141.5L104.1 142.2L100 149.9L100 149.9Z"/><path class="k" d="M149.5 194L149.5 182.2"/><path class="q5" d="M149.5 182.2L145.4 181.3"/><path class="q7" d="M145.4 181.3L143.3 173"/><path class="q11" d="M143.3 173L141.3 164.6"/><path class="q15" d="M141.3 164.6L139.2 158"/><path class="q18" d="M139.2 158L137.1 151.4"/><path class="q21" d="M137.1 151.4L136.3 145.2"/><path class="q24" d="M136.3 145.2L135.5 139.1"/><path class="q27" d="M135.5 139.1L134.7 132.9"/><path class="q31" d="M134.7 132.9L133.8 126.8"/><path class="q34" d="M133.8 126.8L133 120.7L132.2 126.5"/><path class="q30" d="M132.2 126.5L131.4 132.4"/><path class="q26" d="M131.4 132.4L130.5 138.3"/><path class="q22" d="M130.5 138.3L129.7 144.1"/><path class="q18" d="M129.7 144.1L128.9 150"/><path class="q14" d="M128.9 150L126.8 151.9"/><path class="q12" d="M126.8 151.9L124.7 153.8"/><path class="q11" d="M124.7 153.8L120.6 148.4"/><path class="q9" d="M120.6 148.4L116.5 151.2"/><path class="q8" d="M116.5 151.2L112.4 145.9"/><path class="q9" d="M112.4 145.9L108.2 141.5"/><path class="q7" d="M108.2 141.5L104.1 142.2"/><path class="q4" d="M104.1 142.2L102.1 146.1"/><path class="q0" d="M102.1 146.1L100 149.9"/><path class="w" d="M148.2 194.3L148.2 179.8L144.1 180.5L139.9 163.6L135.8 154.7L131.7 127.4L127.6 157.3L123.4 153.7L119.3 148.3L115.2 146.5L111.1 143.5L106.9 137.7L102.8 142.5L98.7 150.1L98.7 150.1Z"/><path class="k" d="M148.2 194.3L148.2 179.8"/><path class="q7" d="M148.2 179.8L144.1 180.5L142 172"/><path class="q12" d="M142 172L139.9 163.6"/><path class="q16" d="M139.9 163.6L135.8 154.7"/><path class="q19" d="M135.8 154.7L134.8 147.9"/><path class="q23" d="M134.8 147.9L133.8 141"/><path class="q26" d="M133.8 141L132.7 134.2"/><path class="q30" d="M132.7 134.2L131.7 127.4L131 132.4"/><path class="q27" d="M131 132.4L130.3 137.4"/><path class="q23" d="M130.3 137.4L129.6 142.3"/><path class="q20" d="M129.6 142.3L128.9 147.3"/><path class="q16" d="M128.9 147.3L128.2 152.3"/><path class="q13" d="M128.2 152.3L127.6 157.3"/><path class="q11" d="M127.6 157.3L123.4 153.7L119.3 148.3L115.2 146.5"/><path class="q10" d="M115.2 146.5L111.1 143.5"/><path class="q11" d="M111.1 143.5L106.9 137.7"/><path class="q10" d="M106.9 137.7L104.9 140.1"/><path class="q7" d="M104.9 140.1L102.8 142.5"/><path class="q4" d="M102.8 142.5L100.7 146.3"/><path class="q0" d="M100.7 146.3L98.7 150.1"/><path class="w" d="M146.9 194.6L146.9 177.3L142.8 181.9L138.6 165.3L134.5 160L130.4 135.3L126.2 162.7L122.1 150.2L118 144.9L113.9 141.7L109.7 141L105.6 133.9L101.5 142.7L97.4 150.4L97.4 150.4Z"/><path class="k" d="M146.9 194.6L146.9 177.3"/><path class="q9" d="M146.9 177.3L144.8 179.6"/><path class="q6" d="M144.8 179.6L142.8 181.9"/><path class="q7" d="M142.8 181.9L140.7 173.6"/><path class="q11" d="M140.7 173.6L138.6 165.3"/><path class="q13" d="M138.6 165.3L134.5 160"/><path class="q16" d="M134.5 160L133.5 153.8"/><path class="q19" d="M133.5 153.8L132.4 147.6"/><path class="q22" d="M132.4 147.6L131.4 141.5"/><path class="q25" d="M131.4 141.5L130.4 135.3L129.5 140.8"/><path class="q21" d="M129.5 140.8L128.7 146.3"/><path class="q18" d="M128.7 146.3L127.9 151.8"/><path class="q13" d="M127.9 151.8L127.1 157.2"/><path class="q9" d="M127.1 157.2L126.2 162.7L124.2 156.5"/><path class="q12" d="M124.2 156.5L122.1 150.2"/><path class="q14" d="M122.1 150.2L118 144.9L113.9 141.7"/><path class="q13" d="M113.9 141.7L109.7 141L105.6 133.9"/><path class="q12" d="M105.6 133.9L103.5 138.3"/><path class="q8" d="M103.5 138.3L101.5 142.7"/><path class="q4" d="M101.5 142.7L99.4 146.6"/><path class="q0" d="M99.4 146.6L97.4 150.4"/><path class="w" d="M145.6 194.8L145.6 176.1L141.4 184.5L137.3 170.4L133.2 164.3L129.1 142.5L124.9 164.9L120.8 146L116.7 143.4L112.6 139.8L108.4 140.1L104.3 132.4L100.2 143L96 150.6L96 150.6Z"/><path class="k" d="M145.6 194.8L145.6 176.1"/><path class="q9" d="M145.6 176.1L143.5 180.3"/><path class="q5" d="M143.5 180.3L141.4 184.5L139.4 177.5"/><path class="q8" d="M139.4 177.5L137.3 170.4"/><path class="q11" d="M137.3 170.4L133.2 164.3"/><path class="q13" d="M133.2 164.3L131.8 157.1"/><path class="q17" d="M131.8 157.1L130.4 149.8"/><path class="q21" d="M130.4 149.8L129.1 142.5L128 148.1"/><path class="q17" d="M128 148.1L127 153.7"/><path class="q13" d="M127 153.7L126 159.3"/><path class="q8" d="M126 159.3L124.9 164.9L123.6 158.6"/><path class="q11" d="M123.6 158.6L122.2 152.3"/><path class="q14" d="M122.2 152.3L120.8 146"/><path class="q16" d="M120.8 146L116.7 143.4"/><path class="q15" d="M116.7 143.4L112.6 139.8"/><path class="q14" d="M112.6 139.8L108.4 140.1L104.3 132.4L102.9 135.9"/><path class="q11" d="M102.9 135.9L101.5 139.5"/><path class="q8" d="M101.5 139.5L100.2 143"/><path class="q4" d="M100.2 143L98.1 146.8"/><path class="q0" d="M98.1 146.8L96 150.6"/><path class="w" d="M144.3 195.1L144.3 178.7L140.1 187.3L136 175.1L131.9 166.3L127.7 148L123.6 164.1L119.5 143.9L115.4 143.6L111.2 139.9L107.1 140.3L103 131L98.9 143.7L94.7 150.9L94.7 150.9Z"/><path class="k" d="M144.3 195.1L144.3 178.7"/><path class="q7" d="M144.3 178.7L142.2 183"/><path class="q3" d="M142.2 183L140.1 187.3L138.1 181.2"/><path class="q5" d="M138.1 181.2L136 175.1"/><path class="q9" d="M136 175.1L131.9 166.3"/><path class="q12" d="M131.9 166.3L130.5 160.2"/><path class="q15" d="M130.5 160.2L129.1 154.1"/><path class="q18" d="M129.1 154.1L127.7 148L126.4 153.4"/><path class="q13" d="M126.4 153.4L125 158.7"/><path class="q9" d="M125 158.7L123.6 164.1L122.2 157.3"/><path class="q12" d="M122.2 157.3L120.9 150.6"/><path class="q16" d="M120.9 150.6L119.5 143.9"/><path class="q17" d="M119.5 143.9L115.4 143.6"/><path class="q15" d="M115.4 143.6L111.2 139.9"/><path class="q14" d="M111.2 139.9L107.1 140.3"/><path class="q15" d="M107.1 140.3L103 131L101.6 135.2"/><path class="q11" d="M101.6 135.2L100.2 139.5"/><path class="q7" d="M100.2 139.5L98.9 143.7"/><path class="q4" d="M98.9 143.7L96.8 147.3"/><path class="q0" d="M96.8 147.3L94.7 150.9"/><path class="w" d="M142.9 195.3L142.9 182.6L138.8 188.9L134.7 176.6L130.6 166.8L126.4 150.9L122.3 159.8L118.2 143.9L114.1 143.8L109.9 140.1L105.8 140.6L101.7 126L97.5 145.1L93.4 151.2L93.4 151.2Z"/><path class="k" d="M142.9 195.3L142.9 182.6"/><path class="q5" d="M142.9 182.6L140.9 185.8"/><path class="q2" d="M140.9 185.8L138.8 188.9L136.7 182.8"/><path class="q5" d="M136.7 182.8L134.7 176.6"/><path class="q8" d="M134.7 176.6L130.6 166.8"/><path class="q12" d="M130.6 166.8L128.5 158.9"/><path class="q16" d="M128.5 158.9L126.4 150.9L124.4 155.4"/><path class="q12" d="M124.4 155.4L122.3 159.8L120.2 151.8"/><path class="q16" d="M120.2 151.8L118.2 143.9"/><path class="q17" d="M118.2 143.9L114.1 143.8"/><path class="q15" d="M114.1 143.8L109.9 140.1"/><path class="q14" d="M109.9 140.1L105.8 140.6"/><path class="q15" d="M105.8 140.6L103.7 133.3"/><path class="q18" d="M103.7 133.3L101.7 126L100.6 130.8"/><path class="q14" d="M100.6 130.8L99.6 135.5"/><path class="q11" d="M99.6 135.5L98.6 140.3"/><path class="q7" d="M98.6 140.3L97.5 145.1"/><path class="q3" d="M97.5 145.1L95.5 148.1"/><path class="q0" d="M95.5 148.1L93.4 151.2"/><path class="w" d="M141.6 195.6L141.6 185.5L137.5 189.3L133.4 176.8L129.2 167L125.1 150.9L121 154.6L116.9 144.1L112.7 144.1L108.6 140.2L104.5 140.8L100.4 119.8L96.2 145.8L92.1 151.4L92.1 151.4Z"/><path class="k" d="M141.6 195.6L141.6 185.5"/><path class="q4" d="M141.6 185.5L139.6 187.4"/><path class="q2" d="M139.6 187.4L137.5 189.3L135.4 183.1"/><path class="q5" d="M135.4 183.1L133.4 176.8"/><path class="q8" d="M133.4 176.8L129.2 167"/><path class="q12" d="M129.2 167L127.2 159"/><path class="q16" d="M127.2 159L125.1 150.9"/><path class="q17" d="M125.1 150.9L123.1 152.8"/><path class="q15" d="M123.1 152.8L121 154.6"/><path class="q14" d="M121 154.6L118.9 149.4"/><path class="q17" d="M118.9 149.4L116.9 144.1L112.7 144.1"/><path class="q15" d="M112.7 144.1L108.6 140.2"/><path class="q14" d="M108.6 140.2L104.5 140.8"/><path class="q15" d="M104.5 140.8L103.1 133.8"/><path class="q18" d="M103.1 133.8L101.7 126.8"/><path class="q22" d="M101.7 126.8L100.4 119.8L99.5 125"/><path class="q18" d="M99.5 125L98.7 130.2"/><path class="q14" d="M98.7 130.2L97.9 135.4"/><path class="q10" d="M97.9 135.4L97.1 140.6"/><path class="q7" d="M97.1 140.6L96.2 145.8"/><path class="q3" d="M96.2 145.8L94.2 148.6"/><path class="q0" d="M94.2 148.6L92.1 151.4"/><path class="w" d="M140.3 195.8L140.3 187.3L136.2 189.6L132.1 176.6L127.9 167.3L123.8 149.1L119.7 152L115.5 144.4L111.4 144.3L107.3 139.1L103.2 139L99 116.7L94.9 146.2L90.8 151.7L90.8 151.7Z"/><path class="k" d="M140.3 195.8L140.3 187.3"/><path class="q2" d="M140.3 187.3L136.2 189.6L134.1 183.1"/><path class="q5" d="M134.1 183.1L132.1 176.6"/><path class="q8" d="M132.1 176.6L127.9 167.3"/><path class="q12" d="M127.9 167.3L126.6 161.2"/><path class="q15" d="M126.6 161.2L125.2 155.1"/><path class="q18" d="M125.2 155.1L123.8 149.1"/><path class="q17" d="M123.8 149.1L119.7 152L115.5 144.4L111.4 144.3"/><path class="q16" d="M111.4 144.3L107.3 139.1"/><path class="q15" d="M107.3 139.1L103.2 139"/><path class="q16" d="M103.2 139L101.8 131.5"/><path class="q20" d="M101.8 131.5L100.4 124.1"/><path class="q24" d="M100.4 124.1L99 116.7L98.2 122.6"/><path class="q20" d="M98.2 122.6L97.4 128.5"/><path class="q15" d="M97.4 128.5L96.6 134.4"/><path class="q11" d="M96.6 134.4L95.7 140.3"/><path class="q7" d="M95.7 140.3L94.9 146.2"/><path class="q3" d="M94.9 146.2L92.9 148.9"/><path class="q0" d="M92.9 148.9L90.8 151.7"/><path class="w" d="M139 196.1L139 188.7L134.9 189.8L130.7 175.8L126.6 166.8L122.5 146.8L118.4 151.9L114.2 146L110.1 145.3L106 136.7L101.9 132L97.7 118.4L93.6 147.5L89.5 151.9L89.5 151.9Z"/><path class="k" d="M139 196.1L139 188.7"/><path class="q2" d="M139 188.7L134.9 189.8L132.8 182.8"/><path class="q5" d="M132.8 182.8L130.7 175.8"/><path class="q9" d="M130.7 175.8L126.6 166.8"/><path class="q12" d="M126.6 166.8L125.2 160.1"/><path class="q16" d="M125.2 160.1L123.9 153.5"/><path class="q19" d="M123.9 153.5L122.5 146.8"/><path class="q20" d="M122.5 146.8L120.4 149.4"/><path class="q17" d="M120.4 149.4L118.4 151.9"/><path class="q16" d="M118.4 151.9L114.2 146L110.1 145.3"/><path class="q17" d="M110.1 145.3L106 136.7"/><path class="q19" d="M106 136.7L101.9 132"/><path class="q20" d="M101.9 132L99.8 125.2"/><path class="q23" d="M99.8 125.2L97.7 118.4L96.9 124.2"/><path class="q19" d="M96.9 124.2L96.1 130"/><path class="q15" d="M96.1 130L95.3 135.8"/><path class="q10" d="M95.3 135.8L94.4 141.7"/><path class="q6" d="M94.4 141.7L93.6 147.5"/><path class="q3" d="M93.6 147.5L91.5 149.7"/><path class="q0" d="M91.5 149.7L89.5 151.9"/><path class="w" d="M137.7 196.3L137.7 188.9L133.6 189.5L129.4 175.3L125.3 164.5L121.2 145.7L117 152.2L112.9 151.1L108.8 148.1L104.7 134.8L100.5 123.4L96.4 125.2L92.3 149.2L88.2 152.2L88.2 152.2Z"/><path class="k" d="M137.7 196.3L137.7 188.9"/><path class="q2" d="M137.7 188.9L133.6 189.5L131.5 182.4"/><path class="q6" d="M131.5 182.4L129.4 175.3"/><path class="q9" d="M129.4 175.3L127.4 169.9"/><path class="q11" d="M127.4 169.9L125.3 164.5"/><path class="q14" d="M125.3 164.5L123.9 158.2"/><path class="q17" d="M123.9 158.2L122.6 152"/><path class="q20" d="M122.6 152L121.2 145.7L119.1 148.9"/><path class="q17" d="M119.1 148.9L117 152.2"/><path class="q15" d="M117 152.2L112.9 151.1"/><path class="q14" d="M112.9 151.1L108.8 148.1"/><path class="q15" d="M108.8 148.1L106.7 141.5"/><path class="q18" d="M106.7 141.5L104.7 134.8"/><path class="q21" d="M104.7 134.8L102.6 129.1"/><path class="q23" d="M102.6 129.1L100.5 123.4L96.4 125.2"/><path class="q19" d="M96.4 125.2L95.6 130"/><path class="q16" d="M95.6 130L94.8 134.8"/><path class="q12" d="M94.8 134.8L93.9 139.6"/><path class="q8" d="M93.9 139.6L93.1 144.4"/><path class="q5" d="M93.1 144.4L92.3 149.2"/><path class="q1" d="M92.3 149.2L88.2 152.2"/><path class="w" d="M136.4 196.6L136.4 188.1L132.2 187.7L128.1 175.3L124 161.6L119.9 145.8L115.7 152.4L111.6 157.2L107.5 151.5L103.4 134.4L99.2 119.4L95.1 133.5L91 149.9L86.8 152.4L86.8 152.4Z"/><path class="k" d="M136.4 196.6L136.4 188.1"/><path class="q3" d="M136.4 188.1L132.2 187.7L130.2 181.5"/><path class="q6" d="M130.2 181.5L128.1 175.3"/><path class="q9" d="M128.1 175.3L126.1 168.5"/><path class="q13" d="M126.1 168.5L124 161.6"/><path class="q16" d="M124 161.6L121.9 153.7"/><path class="q20" d="M121.9 153.7L119.9 145.8L117.8 149.1"/><path class="q17" d="M117.8 149.1L115.7 152.4"/><path class="q14" d="M115.7 152.4L113.7 154.8"/><path class="q11" d="M113.7 154.8L111.6 157.2L107.5 151.5"/><path class="q13" d="M107.5 151.5L105.4 143"/><path class="q18" d="M105.4 143L103.4 134.4"/><path class="q22" d="M103.4 134.4L101.3 126.9"/><path class="q25" d="M101.3 126.9L99.2 119.4L97.9 124.1"/><path class="q21" d="M97.9 124.1L96.5 128.8"/><path class="q18" d="M96.5 128.8L95.1 133.5"/><path class="q14" d="M95.1 133.5L94.1 137.6"/><path class="q11" d="M94.1 137.6L93 141.7"/><path class="q8" d="M93 141.7L92 145.8"/><path class="q4" d="M92 145.8L91 149.9"/><path class="q1" d="M91 149.9L86.8 152.4"/><path class="w" d="M135.1 196.8L135.1 187L130.9 186L126.8 175.6L122.7 160.4L118.5 146.4L114.4 153L110.3 160.2L106.2 153.4L102 135.2L97.9 122.9L93.8 137.9L89.7 150.1L85.5 152.7L85.5 152.7Z"/><path class="k" d="M135.1 196.8L135.1 187"/><path class="q4" d="M135.1 187L130.9 186"/><path class="q5" d="M130.9 186L126.8 175.6"/><path class="q10" d="M126.8 175.6L124.7 168"/><path class="q13" d="M124.7 168L122.7 160.4"/><path class="q17" d="M122.7 160.4L120.6 153.4"/><path class="q20" d="M120.6 153.4L118.5 146.4L116.5 149.7"/><path class="q17" d="M116.5 149.7L114.4 153"/><path class="q13" d="M114.4 153L112.4 156.6"/><path class="q10" d="M112.4 156.6L110.3 160.2"/><path class="q9" d="M110.3 160.2L106.2 153.4"/><path class="q12" d="M106.2 153.4L104.8 147.3"/><path class="q15" d="M104.8 147.3L103.4 141.2"/><path class="q18" d="M103.4 141.2L102 135.2"/><path class="q21" d="M102 135.2L100 129.1"/><path class="q24" d="M100 129.1L97.9 122.9"/><path class="q23" d="M97.9 122.9L96.5 127.9"/><path class="q19" d="M96.5 127.9L95.2 132.9"/><path class="q15" d="M95.2 132.9L93.8 137.9"/><path class="q11" d="M93.8 137.9L92.4 142"/><path class="q8" d="M92.4 142L91 146"/><path class="q4" d="M91 146L89.7 150.1"/><path class="q1" d="M89.7 150.1L85.5 152.7"/><path class="w" d="M133.7 197.1L133.7 186.5L129.6 187L125.5 176.4L121.4 162.1L117.2 149.5L113.1 155.6L109 158.5L104.9 153.2L100.7 139.7L96.6 130.5L92.5 140L88.3 149.3L84.2 152.9L84.2 152.9Z"/><path class="k" d="M133.7 197.1L133.7 186.5"/><path class="q4" d="M133.7 186.5L129.6 187L127.5 181.7"/><path class="q6" d="M127.5 181.7L125.5 176.4"/><path class="q9" d="M125.5 176.4L123.4 169.3"/><path class="q13" d="M123.4 169.3L121.4 162.1"/><path class="q16" d="M121.4 162.1L119.3 155.8"/><path class="q19" d="M119.3 155.8L117.2 149.5"/><path class="q18" d="M117.2 149.5L115.2 152.6"/><path class="q15" d="M115.2 152.6L113.1 155.6"/><path class="q12" d="M113.1 155.6L109 158.5"/><path class="q10" d="M109 158.5L104.9 153.2"/><path class="q12" d="M104.9 153.2L102.8 146.4"/><path class="q15" d="M102.8 146.4L100.7 139.7"/><path class="q19" d="M100.7 139.7L96.6 130.5"/><path class="q18" d="M96.6 130.5L94.5 135.3"/><path class="q14" d="M94.5 135.3L92.5 140"/><path class="q10" d="M92.5 140L90.4 144.7"/><path class="q5" d="M90.4 144.7L88.3 149.3"/><path class="q2" d="M88.3 149.3L86.3 151.1"/><path class="q0" d="M86.3 151.1L84.2 152.9"/><path class="w" d="M132.4 197.3L132.4 186.7L128.3 189L124.2 177.6L120 165.5L115.9 155.2L111.8 160.3L107.7 154.3L103.5 147.4L99.4 148L95.3 136.8L91.2 145.1L87 147.6L82.9 153.2L82.9 153.2Z"/><path class="k" d="M132.4 197.3L132.4 186.7"/><path class="q4" d="M132.4 186.7L128.3 189"/><path class="q3" d="M128.3 189L126.2 183.3"/><path class="q5" d="M126.2 183.3L124.2 177.6"/><path class="q8" d="M124.2 177.6L122.1 171.6"/><path class="q11" d="M122.1 171.6L120 165.5"/><path class="q14" d="M120 165.5L115.9 155.2"/><path class="q15" d="M115.9 155.2L113.9 157.8"/><path class="q12" d="M113.9 157.8L111.8 160.3L107.7 154.3"/><path class="q13" d="M107.7 154.3L103.5 147.4L99.4 148L97.3 142.4"/><path class="q15" d="M97.3 142.4L95.3 136.8L93.2 140.9"/><path class="q11" d="M93.2 140.9L91.2 145.1"/><path class="q7" d="M91.2 145.1L87 147.6"/><path class="q3" d="M87 147.6L85 150.4"/><path class="q0" d="M85 150.4L82.9 153.2"/><path class="w" d="M131.1 197.6L131.1 187L127 188.7L122.9 178.7L118.7 168.3L114.6 160L110.5 164.2L106.4 147.5L102.2 136.4L98.1 154.9L94 138.7L89.8 151.2L85.7 146.2L81.6 153.4L81.6 153.4Z"/><path class="k" d="M131.1 197.6L131.1 187"/><path class="q4" d="M131.1 187L127 188.7L122.9 178.7"/><path class="q8" d="M122.9 178.7L118.7 168.3"/><path class="q12" d="M118.7 168.3L114.6 160L112.5 162.1"/><path class="q10" d="M112.5 162.1L110.5 164.2"/><path class="q11" d="M110.5 164.2L108.4 155.9"/><path class="q15" d="M108.4 155.9L106.4 147.5"/><path class="q18" d="M106.4 147.5L104.3 141.9"/><path class="q20" d="M104.3 141.9L102.2 136.4L101.2 141"/><path class="q16" d="M101.2 141L100.2 145.7"/><path class="q13" d="M100.2 145.7L99.1 150.3"/><path class="q9" d="M99.1 150.3L98.1 154.9L96 146.8"/><path class="q13" d="M96 146.8L94 138.7"/><path class="q14" d="M94 138.7L92.6 142.9"/><path class="q10" d="M92.6 142.9L91.2 147"/><path class="q7" d="M91.2 147L89.8 151.2"/><path class="q5" d="M89.8 151.2L85.7 146.2"/><path class="q4" d="M85.7 146.2L83.7 149.8"/><path class="q0" d="M83.7 149.8L81.6 153.4"/><path class="w" d="M129.8 197.9L129.8 188L125.7 187.9L121.5 179.2L117.4 169.3L113.3 161.5L109.2 165.6L105 135L100.9 127.4L96.8 157.1L92.7 139L88.5 154.4L84.4 146L80.3 153.7L80.3 153.7Z"/><path class="k" d="M129.8 197.9L129.8 188"/><path class="q4" d="M129.8 188L125.7 187.9L121.5 179.2"/><path class="q8" d="M121.5 179.2L117.4 169.3"/><path class="q11" d="M117.4 169.3L113.3 161.5L111.2 163.5"/><path class="q9" d="M111.2 163.5L109.2 165.6L108.3 159.4"/><path class="q13" d="M108.3 159.4L107.5 153.3"/><path class="q16" d="M107.5 153.3L106.7 147.2"/><path class="q20" d="M106.7 147.2L105.9 141.1"/><path class="q23" d="M105.9 141.1L105 135"/><path class="q26" d="M105 135L100.9 127.4"/><path class="q25" d="M100.9 127.4L100.1 133.3"/><path class="q21" d="M100.1 133.3L99.3 139.3"/><path class="q17" d="M99.3 139.3L98.4 145.2"/><path class="q13" d="M98.4 145.2L97.6 151.1"/><path class="q8" d="M97.6 151.1L96.8 157.1L95.4 151.1"/><path class="q11" d="M95.4 151.1L94 145"/><path class="q14" d="M94 145L92.7 139"/><path class="q13" d="M92.7 139L91.3 144.1"/><path class="q9" d="M91.3 144.1L89.9 149.2"/><path class="q5" d="M89.9 149.2L88.5 154.4"/><path class="q4" d="M88.5 154.4L84.4 146L82.3 149.9"/><path class="q0" d="M82.3 149.9L80.3 153.7"/><path class="w" d="M128.5 198.1L128.5 189.6L124.4 189.3L120.2 179.4L116.1 169.6L112 161.8L107.9 165.1L103.7 121L99.6 125L95.5 157.3L91.3 139.2L87.2 153.4L83.1 147.1L79 153.9L79 153.9Z"/><path class="k" d="M128.5 198.1L128.5 189.6"/><path class="q3" d="M128.5 189.6L124.4 189.3"/><path class="q4" d="M124.4 189.3L120.2 179.4"/><path class="q8" d="M120.2 179.4L116.1 169.6"/><path class="q11" d="M116.1 169.6L112 161.8"/><path class="q12" d="M112 161.8L109.9 163.4"/><path class="q9" d="M109.9 163.4L107.9 165.1"/><path class="q10" d="M107.9 165.1L107.3 158.8"/><path class="q14" d="M107.3 158.8L106.7 152.5"/><path class="q18" d="M106.7 152.5L106.1 146.2"/><path class="q21" d="M106.1 146.2L105.5 139.9"/><path class="q25" d="M105.5 139.9L104.9 133.6"/><path class="q28" d="M104.9 133.6L104.3 127.3"/><path class="q32" d="M104.3 127.3L103.7 121L101.7 123"/><path class="q30" d="M101.7 123L99.6 125"/><path class="q27" d="M99.6 125L98.9 130.4"/><path class="q23" d="M98.9 130.4L98.2 135.8"/><path class="q20" d="M98.2 135.8L97.5 141.2"/><path class="q16" d="M97.5 141.2L96.8 146.5"/><path class="q12" d="M96.8 146.5L96.2 151.9"/><path class="q8" d="M96.2 151.9L95.5 157.3L94.1 151.3"/><path class="q11" d="M94.1 151.3L92.7 145.3"/><path class="q14" d="M92.7 145.3L91.3 139.2"/><path class="q13" d="M91.3 139.2L90 144"/><path class="q10" d="M90 144L88.6 148.7"/><path class="q6" d="M88.6 148.7L87.2 153.4"/><path class="q5" d="M87.2 153.4L83.1 147.1"/><path class="q4" d="M83.1 147.1L81 150.5"/><path class="q0" d="M81 150.5L79 153.9"/><path class="w" d="M127.2 198.4L127.2 190.9L123 191.5L118.9 179.7L114.8 169.8L110.7 157.6L106.5 159.1L102.4 114.9L98.3 126L94.2 157.6L90 139.5L85.9 150.7L81.8 150.1L77.6 154.2L77.6 154.2Z"/><path class="k" d="M127.2 198.4L127.2 190.9"/><path class="q2" d="M127.2 190.9L123 191.5L121 185.6"/><path class="q5" d="M121 185.6L118.9 179.7"/><path class="q8" d="M118.9 179.7L114.8 169.8"/><path class="q11" d="M114.8 169.8L112.7 163.7"/><path class="q14" d="M112.7 163.7L110.7 157.6L106.5 159.1L105.9 152.8"/><path class="q18" d="M105.9 152.8L105.4 146.5"/><path class="q21" d="M105.4 146.5L104.8 140.2"/><path class="q25" d="M104.8 140.2L104.2 133.8"/><path class="q29" d="M104.2 133.8L103.6 127.5"/><path class="q32" d="M103.6 127.5L103 121.2"/><path class="q36" d="M103 121.2L102.4 114.9L101 118.6"/><path class="q33" d="M101 118.6L99.7 122.3"/><path class="q30" d="M99.7 122.3L98.3 126"/><path class="q27" d="M98.3 126L97.6 131.2"/><path class="q23" d="M97.6 131.2L96.9 136.5"/><path class="q19" d="M96.9 136.5L96.2 141.8"/><path class="q16" d="M96.2 141.8L95.5 147.1"/><path class="q12" d="M95.5 147.1L94.8 152.3"/><path class="q8" d="M94.8 152.3L94.2 157.6L92.8 151.6"/><path class="q11" d="M92.8 151.6L91.4 145.5"/><path class="q14" d="M91.4 145.5L90 139.5L88.7 143.2"/><path class="q11" d="M88.7 143.2L87.3 147"/><path class="q7" d="M87.3 147L85.9 150.7"/><path class="q5" d="M85.9 150.7L81.8 150.1"/><path class="q2" d="M81.8 150.1L79.7 152.1"/><path class="q0" d="M79.7 152.1L77.6 154.2"/><path class="w" d="M125.9 198.6L125.9 191.5L121.7 192.4L117.6 179.9L113.5 170.1L109.3 142.5L105.2 147.6L101.1 124.2L97 132.9L92.8 157.8L88.7 139.7L84.6 148.6L80.5 153.6L76.3 154.5L76.3 154.5Z"/><path class="k" d="M125.9 198.6L125.9 191.5"/><path class="q2" d="M125.9 191.5L121.7 192.4L119.7 186.1"/><path class="q5" d="M119.7 186.1L117.6 179.9"/><path class="q8" d="M117.6 179.9L113.5 170.1"/><path class="q12" d="M113.5 170.1L112.4 163.2"/><path class="q16" d="M112.4 163.2L111.4 156.3"/><path class="q20" d="M111.4 156.3L110.4 149.4"/><path class="q23" d="M110.4 149.4L109.3 142.5"/><path class="q24" d="M109.3 142.5L107.3 145.1"/><path class="q21" d="M107.3 145.1L105.2 147.6"/><path class="q22" d="M105.2 147.6L103.8 139.8"/><path class="q26" d="M103.8 139.8L102.5 132"/><path class="q30" d="M102.5 132L101.1 124.2L99 128.5"/><path class="q26" d="M99 128.5L97 132.9"/><path class="q23" d="M97 132.9L96.1 137.9"/><path class="q19" d="M96.1 137.9L95.3 142.9"/><path class="q15" d="M95.3 142.9L94.5 147.9"/><path class="q12" d="M94.5 147.9L93.7 152.9"/><path class="q8" d="M93.7 152.9L92.8 157.8L91.5 151.8"/><path class="q11" d="M91.5 151.8L90.1 145.8"/><path class="q14" d="M90.1 145.8L88.7 139.7"/><path class="q13" d="M88.7 139.7L86.7 144.2"/><path class="q9" d="M86.7 144.2L84.6 148.6"/><path class="q6" d="M84.6 148.6L82.5 151.1"/><path class="q3" d="M82.5 151.1L80.5 153.6"/><path class="q0" d="M80.5 153.6L76.3 154.5"/><path class="w" d="M124.5 198.9L124.5 191.8L120.4 192.6L116.3 180.2L112.2 167.9L108 124.1L103.9 138.9L99.8 143.1L95.7 145.8L91.5 157.9L87.4 140.7L83.3 148.2L79.1 155.6L75 154.7L75 154.7Z"/><path class="k" d="M124.5 198.9L124.5 191.8"/><path class="q2" d="M124.5 191.8L120.4 192.6L118.4 186.4"/><path class="q5" d="M118.4 186.4L116.3 180.2"/><path class="q7" d="M116.3 180.2L114.2 174"/><path class="q10" d="M114.2 174L112.2 167.9"/><path class="q14" d="M112.2 167.9L111.5 160.6"/><path class="q18" d="M111.5 160.6L110.8 153.3"/><path class="q22" d="M110.8 153.3L110.1 146"/><path class="q26" d="M110.1 146L109.4 138.7"/><path class="q30" d="M109.4 138.7L108.7 131.4"/><path class="q35" d="M108.7 131.4L108 124.1L106.7 129"/><path class="q31" d="M106.7 129L105.3 133.9"/><path class="q27" d="M105.3 133.9L103.9 138.9"/><path class="q24" d="M103.9 138.9L101.8 141"/><path class="q22" d="M101.8 141L99.8 143.1"/><path class="q19" d="M99.8 143.1L95.7 145.8"/><path class="q15" d="M95.7 145.8L94.3 149.8"/><path class="q11" d="M94.3 149.8L92.9 153.9"/><path class="q8" d="M92.9 153.9L91.5 157.9L90.2 152.2"/><path class="q11" d="M90.2 152.2L88.8 146.4"/><path class="q13" d="M88.8 146.4L87.4 140.7L85.3 144.5"/><path class="q10" d="M85.3 144.5L83.3 148.2"/><path class="q6" d="M83.3 148.2L81.2 151.9"/><path class="q2" d="M81.2 151.9L79.1 155.6"/><path class="q0" d="M79.1 155.6L75 154.7"/><path class="w" d="M123.2 199.1L123.2 191.6L119.1 192.7L115 178.5L110.8 159.6L106.7 114.4L102.6 142.6L98.5 158.7L94.3 156.5L90.2 157.3L86.1 143.6L82 148.4L77.8 156.1L73.7 155L73.7 155Z"/><path class="k" d="M123.2 199.1L123.2 191.6"/><path class="q2" d="M123.2 191.6L119.1 192.7L117 185.6"/><path class="q6" d="M117 185.6L115 178.5"/><path class="q9" d="M115 178.5L113.6 172.2"/><path class="q12" d="M113.6 172.2L112.2 165.9"/><path class="q16" d="M112.2 165.9L110.8 159.6"/><path class="q19" d="M110.8 159.6L110.3 153.1"/><path class="q23" d="M110.3 153.1L109.7 146.7"/><path class="q26" d="M109.7 146.7L109.1 140.2"/><path class="q30" d="M109.1 140.2L108.5 133.8"/><path class="q34" d="M108.5 133.8L107.9 127.3"/><path class="q37" d="M107.9 127.3L107.3 120.9"/><path class="q41" d="M107.3 120.9L106.7 114.4L105.9 120.1"/><path class="q37" d="M105.9 120.1L105.1 125.7"/><path class="q33" d="M105.1 125.7L104.2 131.3"/><path class="q29" d="M104.2 131.3L103.4 137"/><path class="q25" d="M103.4 137L102.6 142.6"/><path class="q21" d="M102.6 142.6L101.2 148"/><path class="q17" d="M101.2 148L99.8 153.4"/><path class="q13" d="M99.8 153.4L98.5 158.7"/><path class="q10" d="M98.5 158.7L94.3 156.5"/><path class="q8" d="M94.3 156.5L90.2 157.3L88.2 150.4"/><path class="q12" d="M88.2 150.4L86.1 143.6L84 146"/><path class="q9" d="M84 146L82 148.4"/><path class="q6" d="M82 148.4L79.9 152.2"/><path class="q2" d="M79.9 152.2L77.8 156.1"/><path class="q0" d="M77.8 156.1L73.7 155"/><path class="w" d="M121.9 199.4L121.9 188.3L117.8 191.2L113.7 172.1L109.5 150.1L105.4 117.6L101.3 154.6L97.2 163.4L93 159.7L88.9 156.6L84.8 146.9L80.6 148.7L76.5 156.3L72.4 155.2L72.4 155.2Z"/><path class="k" d="M121.9 199.4L121.9 188.3"/><path class="q4" d="M121.9 188.3L117.8 191.2"/><path class="q3" d="M117.8 191.2L116.4 184.8"/><path class="q7" d="M116.4 184.8L115 178.5"/><path class="q10" d="M115 178.5L113.7 172.1"/><path class="q14" d="M113.7 172.1L112.3 164.8"/><path class="q18" d="M112.3 164.8L110.9 157.5"/><path class="q21" d="M110.9 157.5L109.5 150.1"/><path class="q25" d="M109.5 150.1L108.7 143.6"/><path class="q29" d="M108.7 143.6L107.9 137.1"/><path class="q32" d="M107.9 137.1L107.1 130.6"/><path class="q36" d="M107.1 130.6L106.2 124.1"/><path class="q39" d="M106.2 124.1L105.4 117.6L104.8 122.9"/><path class="q35" d="M104.8 122.9L104.2 128.2"/><path class="q32" d="M104.2 128.2L103.6 133.5"/><path class="q28" d="M103.6 133.5L103 138.8"/><path class="q25" d="M103 138.8L102.5 144"/><path class="q21" d="M102.5 144L101.9 149.3"/><path class="q18" d="M101.9 149.3L101.3 154.6"/><path class="q14" d="M101.3 154.6L99.2 159"/><path class="q10" d="M99.2 159L97.2 163.4"/><path class="q8" d="M97.2 163.4L93 159.7"/><path class="q7" d="M93 159.7L88.9 156.6"/><path class="q9" d="M88.9 156.6L84.8 146.9L80.6 148.7"/><path class="q6" d="M80.6 148.7L78.6 152.5"/><path class="q2" d="M78.6 152.5L76.5 156.3"/><path class="q0" d="M76.5 156.3L72.4 155.2"/><path class="w" d="M120.6 199.6L120.6 181.9L116.5 188.3L112.3 164.8L108.2 151.6L104.1 132L100 164.6L95.8 163.3L91.7 159.7L87.6 156.3L83.5 148.8L79.3 148.9L75.2 156.4L71.1 155.5L71.1 155.5Z"/><path class="k" d="M120.6 199.6L120.6 181.9"/><path class="q9" d="M120.6 181.9L118.5 185.1"/><path class="q5" d="M118.5 185.1L116.5 188.3"/><path class="q6" d="M116.5 188.3L115.1 180.5"/><path class="q10" d="M115.1 180.5L113.7 172.6"/><path class="q14" d="M113.7 172.6L112.3 164.8"/><path class="q18" d="M112.3 164.8L110.3 158.2"/><path class="q21" d="M110.3 158.2L108.2 151.6"/><path class="q24" d="M108.2 151.6L106.8 145.1"/><path class="q27" d="M106.8 145.1L105.5 138.5"/><path class="q31" d="M105.5 138.5L104.1 132"/><path class="q30" d="M104.1 132L103.4 137.4"/><path class="q27" d="M103.4 137.4L102.7 142.8"/><path class="q23" d="M102.7 142.8L102 148.3"/><path class="q19" d="M102 148.3L101.3 153.7"/><path class="q15" d="M101.3 153.7L100.7 159.1"/><path class="q11" d="M100.7 159.1L100 164.6"/><path class="q9" d="M100 164.6L95.8 163.3"/><path class="q8" d="M95.8 163.3L91.7 159.7L87.6 156.3"/><path class="q9" d="M87.6 156.3L83.5 148.8L79.3 148.9"/><path class="q6" d="M79.3 148.9L77.3 152.7"/><path class="q2" d="M77.3 152.7L75.2 156.4"/><path class="q0" d="M75.2 156.4L71.1 155.5"/><path class="w" d="M119.3 199.9L119.3 178.2L115.2 187.6L111 165L106.9 163.6L102.8 149.3L98.7 167.6L94.5 160.5L90.4 157.6L86.3 156.5L82.1 149.3L78 149.2L73.9 154.9L69.8 155.7L69.8 155.7Z"/><path class="k" d="M119.3 199.9L119.3 178.2"/><path class="q11" d="M119.3 178.2L117.2 182.9"/><path class="q6" d="M117.2 182.9L115.2 187.6L113.8 180.1"/><path class="q10" d="M113.8 180.1L112.4 172.6"/><path class="q15" d="M112.4 172.6L111 165"/><path class="q16" d="M111 165L106.9 163.6"/><path class="q17" d="M106.9 163.6L104.8 156.5"/><path class="q20" d="M104.8 156.5L102.8 149.3L101.7 153.9"/><path class="q17" d="M101.7 153.9L100.7 158.5"/><path class="q13" d="M100.7 158.5L99.7 163"/><path class="q9" d="M99.7 163L98.7 167.6L94.5 160.5"/><path class="q10" d="M94.5 160.5L90.4 157.6"/><path class="q9" d="M90.4 157.6L86.3 156.5L82.1 149.3L78 149.2"/><path class="q6" d="M78 149.2L76 152"/><path class="q3" d="M76 152L73.9 154.9"/><path class="q0" d="M73.9 154.9L69.8 155.7"/><path class="w" d="M118 200.1L118 182.4L113.8 190.4L109.7 172.9L105.6 172.9L101.5 157.5L97.3 166.5L93.2 153.7L89.1 151.9L85 156.8L80.8 148.8L76.7 148.4L72.6 151.8L68.5 156L68.5 156Z"/><path class="k" d="M118 200.1L118 182.4"/><path class="q8" d="M118 182.4L115.9 186.4"/><path class="q4" d="M115.9 186.4L113.8 190.4L112.5 184.6"/><path class="q7" d="M112.5 184.6L111.1 178.7"/><path class="q10" d="M111.1 178.7L109.7 172.9L105.6 172.9"/><path class="q11" d="M105.6 172.9L103.5 165.2"/><path class="q15" d="M103.5 165.2L101.5 157.5L99.4 162"/><path class="q11" d="M99.4 162L97.3 166.5"/><path class="q10" d="M97.3 166.5L95.3 160.1"/><path class="q13" d="M95.3 160.1L93.2 153.7"/><path class="q14" d="M93.2 153.7L89.1 151.9"/><path class="q12" d="M89.1 151.9L87 154.3"/><path class="q9" d="M87 154.3L85 156.8L80.8 148.8L76.7 148.4"/><path class="q7" d="M76.7 148.4L74.6 150.1"/><path class="q5" d="M74.6 150.1L72.6 151.8"/><path class="q2" d="M72.6 151.8L70.5 153.9"/><path class="q0" d="M70.5 153.9L68.5 156"/><path class="w" d="M116.7 200.4L116.7 189.3L112.5 193.4L108.4 179.8L104.3 174.3L100.2 154.5L96 161.9L91.9 145L87.8 143.1L83.6 157.1L79.5 146.5L75.4 145L71.3 149.4L67.1 156.2L67.1 156.2Z"/><path class="k" d="M116.7 200.4L116.7 189.3"/><path class="q5" d="M116.7 189.3L114.6 191.4"/><path class="q2" d="M114.6 191.4L112.5 193.4L110.5 186.6"/><path class="q6" d="M110.5 186.6L108.4 179.8"/><path class="q8" d="M108.4 179.8L104.3 174.3"/><path class="q10" d="M104.3 174.3L102.9 167.7"/><path class="q14" d="M102.9 167.7L101.5 161.1"/><path class="q17" d="M101.5 161.1L100.2 154.5L98.1 158.2"/><path class="q14" d="M98.1 158.2L96 161.9L94 153.4"/><path class="q18" d="M94 153.4L91.9 145"/><path class="q20" d="M91.9 145L87.8 143.1"/><path class="q17" d="M87.8 143.1L86.4 147.8"/><path class="q13" d="M86.4 147.8L85 152.4"/><path class="q10" d="M85 152.4L83.6 157.1"/><path class="q9" d="M83.6 157.1L81.6 151.8"/><path class="q11" d="M81.6 151.8L79.5 146.5L75.4 145"/><path class="q9" d="M75.4 145L73.3 147.2"/><path class="q7" d="M73.3 147.2L71.3 149.4"/><path class="q4" d="M71.3 149.4L69.2 152.8"/><path class="q0" d="M69.2 152.8L67.1 156.2"/><path class="w" d="M115.3 200.6L115.3 193.1L111.2 194.4L107.1 182L103 173.6L98.8 149.6L94.7 156.3L90.6 138.8L86.5 135.9L82.3 157.1L78.2 143.6L74.1 140.7L70 148.8L65.8 156.5L65.8 156.5Z"/><path class="k" d="M115.3 200.6L115.3 193.1"/><path class="q2" d="M115.3 193.1L111.2 194.4L109.2 188.2"/><path class="q5" d="M109.2 188.2L107.1 182"/><path class="q8" d="M107.1 182L103 173.6"/><path class="q11" d="M103 173.6L101.9 167.6"/><path class="q14" d="M101.9 167.6L100.9 161.6"/><path class="q17" d="M100.9 161.6L99.9 155.6"/><path class="q21" d="M99.9 155.6L98.8 149.6L96.8 152.9"/><path class="q17" d="M96.8 152.9L94.7 156.3L93.3 150.5"/><path class="q20" d="M93.3 150.5L92 144.6"/><path class="q23" d="M92 144.6L90.6 138.8"/><path class="q24" d="M90.6 138.8L86.5 135.9"/><path class="q22" d="M86.5 135.9L85.4 141.2"/><path class="q18" d="M85.4 141.2L84.4 146.5"/><path class="q14" d="M84.4 146.5L83.4 151.8"/><path class="q10" d="M83.4 151.8L82.3 157.1"/><path class="q9" d="M82.3 157.1L80.3 150.4"/><path class="q13" d="M80.3 150.4L78.2 143.6"/><path class="q14" d="M78.2 143.6L74.1 140.7"/><path class="q12" d="M74.1 140.7L72 144.8"/><path class="q8" d="M72 144.8L70 148.8"/><path class="q4" d="M70 148.8L67.9 152.7"/><path class="q0" d="M67.9 152.7L65.8 156.5"/><path class="w" d="M114 200.9L114 193.8L109.9 194.6L105.8 182.2L101.6 173.8L97.5 147.1L93.4 153.5L89.3 136.4L85.1 133.1L81 155.8L76.9 142.2L72.8 138.6L68.6 149.1L64.5 156.7L64.5 156.7Z"/><path class="k" d="M114 200.9L114 193.8"/><path class="q2" d="M114 193.8L109.9 194.6L107.8 188.4"/><path class="q5" d="M107.8 188.4L105.8 182.2"/><path class="q8" d="M105.8 182.2L101.6 173.8"/><path class="q11" d="M101.6 173.8L100.6 167.1"/><path class="q15" d="M100.6 167.1L99.6 160.4"/><path class="q19" d="M99.6 160.4L98.6 153.8"/><path class="q22" d="M98.6 153.8L97.5 147.1L95.5 150.3"/><path class="q19" d="M95.5 150.3L93.4 153.5L92 147.8"/><path class="q22" d="M92 147.8L90.6 142.1"/><path class="q24" d="M90.6 142.1L89.3 136.4"/><path class="q26" d="M89.3 136.4L85.1 133.1"/><path class="q24" d="M85.1 133.1L84.1 138.8"/><path class="q20" d="M84.1 138.8L83.1 144.5"/><path class="q15" d="M83.1 144.5L82 150.2"/><path class="q11" d="M82 150.2L81 155.8"/><path class="q10" d="M81 155.8L79 149"/><path class="q14" d="M79 149L76.9 142.2"/><path class="q15" d="M76.9 142.2L72.8 138.6"/><path class="q14" d="M72.8 138.6L71.4 142.1"/><path class="q11" d="M71.4 142.1L70 145.6"/><path class="q8" d="M70 145.6L68.6 149.1"/><path class="q4" d="M68.6 149.1L66.6 152.9"/><path class="q0" d="M66.6 152.9L64.5 156.7"/><path class="w" d="M112.7 201.2L112.7 194.1L108.6 194.9L104.5 182.5L100.3 174.1L96.2 147L92.1 153.4L88 136.3L83.8 135.6L79.7 153.2L75.6 142.3L71.4 138.6L67.3 149.3L63.2 157L63.2 157Z"/><path class="k" d="M112.7 201.2L112.7 194.1"/><path class="q2" d="M112.7 194.1L108.6 194.9L106.5 188.7"/><path class="q5" d="M106.5 188.7L104.5 182.5"/><path class="q8" d="M104.5 182.5L100.3 174.1"/><path class="q11" d="M100.3 174.1L99.3 167.3"/><path class="q15" d="M99.3 167.3L98.3 160.5"/><path class="q19" d="M98.3 160.5L97.2 153.8"/><path class="q22" d="M97.2 153.8L96.2 147L94.1 150.2"/><path class="q19" d="M94.1 150.2L92.1 153.4L90.7 147.7"/><path class="q22" d="M90.7 147.7L89.3 142"/><path class="q25" d="M89.3 142L88 136.3L83.8 135.6"/><path class="q23" d="M83.8 135.6L82.8 140"/><path class="q19" d="M82.8 140L81.8 144.4"/><path class="q16" d="M81.8 144.4L80.7 148.8"/><path class="q12" d="M80.7 148.8L79.7 153.2L77.6 147.7"/><path class="q14" d="M77.6 147.7L75.6 142.3"/><path class="q15" d="M75.6 142.3L71.4 138.6"/><path class="q14" d="M71.4 138.6L70.1 142.2"/><path class="q11" d="M70.1 142.2L68.7 145.8"/><path class="q8" d="M68.7 145.8L67.3 149.3"/><path class="q4" d="M67.3 149.3L65.3 153.2"/><path class="q0" d="M65.3 153.2L63.2 157"/><path class="w" d="M111.4 201.4L111.4 194.3L107.3 195.2L103.1 182.7L99 174.3L94.9 149.2L90.8 153.7L86.6 136.6L82.5 140.9L78.4 151L74.3 142.5L70.1 138.9L66 149.6L61.9 157.3L61.9 157.3Z"/><path class="k" d="M111.4 201.4L111.4 194.3"/><path class="q2" d="M111.4 194.3L107.3 195.2L105.2 188.9"/><path class="q5" d="M105.2 188.9L103.1 182.7"/><path class="q8" d="M103.1 182.7L99 174.3"/><path class="q11" d="M99 174.3L98 168"/><path class="q14" d="M98 168L97 161.8"/><path class="q18" d="M97 161.8L95.9 155.5"/><path class="q21" d="M95.9 155.5L94.9 149.2"/><path class="q22" d="M94.9 149.2L92.8 151.4"/><path class="q19" d="M92.8 151.4L90.8 153.7L89.4 148"/><path class="q22" d="M89.4 148L88 142.3"/><path class="q25" d="M88 142.3L86.6 136.6L84.6 138.8"/><path class="q22" d="M84.6 138.8L82.5 140.9"/><path class="q20" d="M82.5 140.9L81.1 144.3"/><path class="q17" d="M81.1 144.3L79.8 147.7"/><path class="q14" d="M79.8 147.7L78.4 151L74.3 142.5"/><path class="q15" d="M74.3 142.5L70.1 138.9"/><path class="q14" d="M70.1 138.9L68.8 142.4"/><path class="q11" d="M68.8 142.4L67.4 146"/><path class="q8" d="M67.4 146L66 149.6"/><path class="q4" d="M66 149.6L63.9 153.4"/><path class="q0" d="M63.9 153.4L61.9 157.3"/><path class="w" d="M110.1 201.7L110.1 194.6L106 195.4L101.8 183L97.7 174.6L93.6 156.3L89.5 153.9L85.3 136.8L81.2 145.4L77.1 150.6L72.9 142.8L68.8 139.1L64.7 149.9L60.6 157.5L60.6 157.5Z"/><path class="k" d="M110.1 201.7L110.1 194.6"/><path class="q2" d="M110.1 194.6L106 195.4L103.9 189.2"/><path class="q5" d="M103.9 189.2L101.8 183"/><path class="q8" d="M101.8 183L97.7 174.6"/><path class="q11" d="M97.7 174.6L96.3 168.5"/><path class="q14" d="M96.3 168.5L95 162.4"/><path class="q17" d="M95 162.4L93.6 156.3"/><path class="q18" d="M93.6 156.3L89.5 153.9"/><path class="q19" d="M89.5 153.9L88.1 148.2"/><path class="q22" d="M88.1 148.2L86.7 142.5"/><path class="q25" d="M86.7 142.5L85.3 136.8"/><path class="q24" d="M85.3 136.8L83.3 141.1"/><path class="q20" d="M83.3 141.1L81.2 145.4"/><path class="q17" d="M81.2 145.4L79.1 148"/><path class="q14" d="M79.1 148L77.1 150.6L72.9 142.8"/><path class="q15" d="M72.9 142.8L68.8 139.1"/><path class="q14" d="M68.8 139.1L67.4 142.7"/><path class="q11" d="M67.4 142.7L66.1 146.3"/><path class="q8" d="M66.1 146.3L64.7 149.9"/><path class="q4" d="M64.7 149.9L62.6 153.7"/><path class="q0" d="M62.6 153.7L60.6 157.5"/><path class="w0" d="M108.8 201.9L108.8 194.8L104.6 195.7L100.5 183.2L96.4 174.8L92.3 164.8L88.1 154.2L84 137.1L79.9 146.8L75.8 150.8L71.6 143L67.5 139.4L63.4 150.1L59.3 157.8L59.3 157.8Z"/><path class="k" d="M108.8 201.9L108.8 194.8"/><path class="q2" d="M108.8 194.8L104.6 195.7L102.6 189.4"/><path class="q5" d="M102.6 189.4L100.5 183.2"/><path class="q8" d="M100.5 183.2L96.4 174.8"/><path class="q11" d="M96.4 174.8L92.3 164.8"/><path class="q14" d="M92.3 164.8L90.2 159.5"/><path class="q17" d="M90.2 159.5L88.1 154.2"/><path class="q19" d="M88.1 154.2L86.8 148.5"/><path class="q22" d="M86.8 148.5L85.4 142.8"/><path class="q25" d="M85.4 142.8L84 137.1L82.6 140.3"/><path class="q22" d="M82.6 140.3L81.3 143.6"/><path class="q19" d="M81.3 143.6L79.9 146.8"/><path class="q17" d="M79.9 146.8L77.8 148.8"/><path class="q14" d="M77.8 148.8L75.8 150.8L71.6 143"/><path class="q15" d="M71.6 143L67.5 139.4"/><path class="q14" d="M67.5 139.4L66.1 142.9"/><path class="q11" d="M66.1 142.9L64.8 146.5"/><path class="q8" d="M64.8 146.5L63.4 150.1"/><path class="q4" d="M63.4 150.1L61.3 153.9"/><path class="q0" d="M61.3 153.9L59.3 157.8"/></g>
<path d="M51 73.1L51 150.4L112.9 205.6L244.3 180.2" stroke="#555" stroke-width="0.8" fill="none"/>
<path d="M112.9 205.6L114.8 207.3M139.2 200.5L141 202.2M165.5 195.4L167.3 197.1M191.7 190.4L193.6 192M218 185.3L219.9 186.9M244.3 180.2L246.2 181.9M112.9 205.6L110.4 206.1M92.3 187.2L89.8 187.7M71.6 168.8L69.2 169.3M51 150.4L48.5 150.9M51 150.4L48.5 150.9M51 124.6L48.5 125.1M51 98.9L48.5 99.4M51 73.1L48.5 73.6" stroke="#555" stroke-width="0.7" fill="none"/>
<text x="119.5" y="215.6" font-size="6.2" text-anchor="middle" fill="#404040" >0</text>
<text x="148.5" y="211" font-size="6.2" text-anchor="middle" fill="#404040" >100</text>
<text x="174.8" y="206" font-size="6.2" text-anchor="middle" fill="#404040" >200</text>
<text x="201" y="200.9" font-size="6.2" text-anchor="middle" fill="#404040" >300</text>
<text x="227.3" y="195.8" font-size="6.2" text-anchor="middle" fill="#404040" >400</text>
<text x="250.7" y="190.2" font-size="6.2" text-anchor="middle" fill="#404040" >5</text>
<text x="107" y="212.6" font-size="6.2" text-anchor="middle" fill="#404040" >0</text>
<text x="85.4" y="194.6" font-size="6.2" text-anchor="middle" fill="#404040" >5</text>
<text x="64.8" y="176.2" font-size="6.2" text-anchor="middle" fill="#404040" >10</text>
<text x="44.1" y="157.8" font-size="6.2" text-anchor="middle" fill="#404040" >15</text>
<text x="46.5" y="151.6" font-size="6.2" text-anchor="end" fill="#404040" >0</text>
<text x="46.5" y="125.8" font-size="6.2" text-anchor="end" fill="#404040" >5</text>
<text x="46.5" y="100.1" font-size="6.2" text-anchor="end" fill="#404040" >10</text>
<text x="46.5" y="74.3" font-size="6.2" text-anchor="end" fill="#404040" >15</text>
<text x="173" y="217.3" font-size="6.7" text-anchor="middle" fill="#404040" >time</text>
<text x="67.5" y="210.8" font-size="6.7" text-anchor="middle" fill="#404040" >drop size</text>
<text transform="translate(36.2 114) rotate(-90)" font-size="6.7" text-anchor="middle" fill="#404040">percent area</text>
<path d="M128.8 427L40 363L40 299.2M149.9 416.7L61.1 352.7L61.1 289M171 406.4L82.2 342.4L82.2 278.7M192.1 396.2L103.3 332.2L103.3 268.4M213.2 385.9L124.4 321.9L124.4 258.1M234.3 375.6L145.5 311.6L145.5 247.9M128.8 427L234.3 375.6L234.3 311.9M99.2 405.7L204.7 354.3L204.7 290.5M69.6 384.3L175.1 332.9L175.1 269.2M40 363L145.5 311.6L145.5 247.9M40 363L145.5 311.6L234.3 375.6M40 341.8L145.5 290.4L234.3 354.4M40 320.5L145.5 269.1L234.3 333.1M40 299.2L145.5 247.9L234.3 311.9" stroke="#dcdcdc" stroke-width="0.7" fill="none"/>
<g class="pc" filter="url(#bl)" fill="none" stroke-width="1.3" stroke-linecap="round" stroke-linejoin="round"><path class="w" d="M216.8 377L216.8 331.1L210.9 366.4L204.9 355.8L199 350.3L193.1 339.8L187.2 351L181.3 348.3L175.3 345.3L169.4 341.8L163.5 338L157.6 334.2L151.7 330L145.7 325.8L145.7 325.8Z"/><path class="k" d="M216.8 377L216.8 331.1"/><path class="q32" d="M216.8 331.1L216 335.5"/><path class="q28" d="M216 335.5L215.3 339.9"/><path class="q25" d="M215.3 339.9L214.6 344.3"/><path class="q21" d="M214.6 344.3L213.8 348.8"/><path class="q17" d="M213.8 348.8L213.1 353.2"/><path class="q13" d="M213.1 353.2L212.3 357.6"/><path class="q9" d="M212.3 357.6L211.6 362"/><path class="q6" d="M211.6 362L210.9 366.4"/><path class="q5" d="M210.9 366.4L207.9 361.1"/><path class="q7" d="M207.9 361.1L204.9 355.8"/><path class="q9" d="M204.9 355.8L199 350.3"/><path class="q11" d="M199 350.3L196.1 345"/><path class="q13" d="M196.1 345L193.1 339.8"/><path class="q12" d="M193.1 339.8L191.1 343.5"/><path class="q8" d="M191.1 343.5L189.1 347.2"/><path class="q4" d="M189.1 347.2L187.2 351"/><path class="q2" d="M187.2 351L181.3 348.3"/><path class="q1" d="M181.3 348.3L175.3 345.3"/><path class="q0" d="M175.3 345.3L169.4 341.8L163.5 338L157.6 334.2L151.7 330L145.7 325.8"/><path class="w" d="M215.7 377.5L215.7 338.9L209.8 366.7L203.9 356.3L198 350.8L192 340.3L186.1 351.5L180.2 348.8L174.3 345.8L168.4 342.3L162.4 338.5L156.5 334.7L150.6 330.5L144.7 326.3L144.7 326.3Z"/><path class="k" d="M215.7 377.5L215.7 338.9"/><path class="q26" d="M215.7 338.9L214.7 343.6"/><path class="q23" d="M214.7 343.6L213.7 348.2"/><path class="q19" d="M213.7 348.2L212.8 352.8"/><path class="q14" d="M212.8 352.8L211.8 357.4"/><path class="q10" d="M211.8 357.4L210.8 362.1"/><path class="q6" d="M210.8 362.1L209.8 366.7"/><path class="q5" d="M209.8 366.7L206.8 361.5"/><path class="q7" d="M206.8 361.5L203.9 356.3"/><path class="q9" d="M203.9 356.3L198 350.8"/><path class="q11" d="M198 350.8L195 345.6"/><path class="q13" d="M195 345.6L192 340.3"/><path class="q12" d="M192 340.3L190.1 344"/><path class="q8" d="M190.1 344L188.1 347.8"/><path class="q4" d="M188.1 347.8L186.1 351.5"/><path class="q2" d="M186.1 351.5L180.2 348.8"/><path class="q1" d="M180.2 348.8L174.3 345.8"/><path class="q0" d="M174.3 345.8L168.4 342.3L162.4 338.5L156.5 334.7L150.6 330.5L144.7 326.3"/><path class="w" d="M214.7 378L214.7 355.3L208.7 366.5L202.8 356.9L196.9 351.3L191 340.8L185.1 352L179.1 349.4L173.2 346.4L167.3 342.9L161.4 339.1L155.5 335.2L149.5 331L143.6 326.8L143.6 326.8Z"/><path class="k" d="M214.7 378L214.7 355.3"/><path class="q15" d="M214.7 355.3L212.7 359"/><path class="q10" d="M212.7 359L210.7 362.8"/><path class="q6" d="M210.7 362.8L208.7 366.5L202.8 356.9"/><path class="q9" d="M202.8 356.9L196.9 351.3"/><path class="q11" d="M196.9 351.3L193.9 346.1"/><path class="q13" d="M193.9 346.1L191 340.8"/><path class="q12" d="M191 340.8L189 344.6"/><path class="q8" d="M189 344.6L187 348.3"/><path class="q4" d="M187 348.3L185.1 352"/><path class="q2" d="M185.1 352L179.1 349.4"/><path class="q1" d="M179.1 349.4L173.2 346.4"/><path class="q0" d="M173.2 346.4L167.3 342.9L161.4 339.1L155.5 335.2L149.5 331L143.6 326.8"/><path class="w" d="M213.6 378.5L213.6 359L207.7 366.2L201.8 357.4L195.9 351.8L189.9 342.1L184 352.8L178.1 349.9L172.2 346.9L166.3 343.3L160.3 339.6L154.4 335.7L148.5 331.5L142.6 327.3L142.6 327.3Z"/><path class="k" d="M213.6 378.5L213.6 359"/><path class="q13" d="M213.6 359L211.6 361.4"/><path class="q10" d="M211.6 361.4L209.7 363.8"/><path class="q7" d="M209.7 363.8L207.7 366.2L201.8 357.4"/><path class="q9" d="M201.8 357.4L195.9 351.8"/><path class="q12" d="M195.9 351.8L189.9 342.1L188 345.7"/><path class="q8" d="M188 345.7L186 349.2"/><path class="q4" d="M186 349.2L184 352.8"/><path class="q2" d="M184 352.8L178.1 349.9"/><path class="q1" d="M178.1 349.9L172.2 346.9"/><path class="q0" d="M172.2 346.9L166.3 343.3L160.3 339.6L154.4 335.7L148.5 331.5L142.6 327.3"/><path class="w" d="M212.6 379L212.6 353.3L206.6 366.2L200.7 357.9L194.8 352.3L188.9 345.2L183 353.8L177 350.4L171.1 347.2L165.2 343.6L159.3 340.1L153.4 336.2L147.4 332.1L141.5 327.8L141.5 327.8Z"/><path class="k" d="M212.6 379L212.6 353.3"/><path class="q17" d="M212.6 353.3L211.1 356.5"/><path class="q14" d="M211.1 356.5L209.6 359.8"/><path class="q10" d="M209.6 359.8L208.1 363"/><path class="q7" d="M208.1 363L206.6 366.2L200.7 357.9"/><path class="q9" d="M200.7 357.9L194.8 352.3"/><path class="q11" d="M194.8 352.3L188.9 345.2"/><path class="q10" d="M188.9 345.2L186.9 348"/><path class="q7" d="M186.9 348L184.9 350.9"/><path class="q3" d="M184.9 350.9L183 353.8"/><path class="q1" d="M183 353.8L177 350.4L171.1 347.2"/><path class="q0" d="M171.1 347.2L165.2 343.6L159.3 340.1L153.4 336.2L147.4 332.1L141.5 327.8"/><path class="w" d="M211.5 379.6L211.5 343.3L205.6 366.7L199.7 358.4L193.7 352.8L187.8 348.4L181.9 354.6L176 350.6L170.1 347.2L164.1 343.9L158.2 340.6L152.3 336.7L146.4 332.6L140.5 328.4L140.5 328.4Z"/><path class="k" d="M211.5 379.6L211.5 343.3"/><path class="q25" d="M211.5 343.3L210.3 348"/><path class="q21" d="M210.3 348L209.1 352.7"/><path class="q16" d="M209.1 352.7L207.9 357.3"/><path class="q12" d="M207.9 357.3L206.8 362"/><path class="q8" d="M206.8 362L205.6 366.7"/><path class="q7" d="M205.6 366.7L199.7 358.4"/><path class="q9" d="M199.7 358.4L193.7 352.8"/><path class="q10" d="M193.7 352.8L187.8 348.4"/><path class="q8" d="M187.8 348.4L184.9 351.5"/><path class="q4" d="M184.9 351.5L181.9 354.6"/><path class="q1" d="M181.9 354.6L176 350.6L170.1 347.2"/><path class="q0" d="M170.1 347.2L164.1 343.9L158.2 340.6L152.3 336.7L146.4 332.6L140.5 328.4"/><path class="w" d="M210.4 380.1L210.4 341.7L204.5 367.2L198.6 358.9L192.7 353.3L186.8 349.3L180.8 355.3L174.9 350.2L169 347.1L163.1 344.3L157.2 341.1L151.2 337.3L145.3 333.1L139.4 328.9L139.4 328.9Z"/><path class="k" d="M210.4 380.1L210.4 341.7"/><path class="q26" d="M210.4 341.7L209.5 346"/><path class="q23" d="M209.5 346L208.5 350.2"/><path class="q19" d="M208.5 350.2L207.5 354.5"/><path class="q15" d="M207.5 354.5L206.5 358.7"/><path class="q11" d="M206.5 358.7L205.5 363"/><path class="q7" d="M205.5 363L204.5 367.2L198.6 358.9"/><path class="q9" d="M198.6 358.9L192.7 353.3"/><path class="q10" d="M192.7 353.3L186.8 349.3"/><path class="q7" d="M186.8 349.3L183.8 352.3"/><path class="q3" d="M183.8 352.3L180.8 355.3"/><path class="q2" d="M180.8 355.3L174.9 350.2L169 347.1"/><path class="q0" d="M169 347.1L163.1 344.3L157.2 341.1L151.2 337.3L145.3 333.1L139.4 328.9"/><path class="w" d="M209.4 380.6L209.4 348.6L203.5 367.7L197.6 359.4L191.6 353.9L185.7 348.5L179.8 355.5L173.9 349.6L167.9 347.3L162 344.8L156.1 341.6L150.2 337.8L144.3 333.6L138.4 329.4L138.4 329.4Z"/><path class="k" d="M209.4 380.6L209.4 348.6"/><path class="q22" d="M209.4 348.6L208.2 352.4"/><path class="q18" d="M208.2 352.4L207 356.2"/><path class="q15" d="M207 356.2L205.8 360.1"/><path class="q11" d="M205.8 360.1L204.7 363.9"/><path class="q7" d="M204.7 363.9L203.5 367.7L197.6 359.4"/><path class="q9" d="M197.6 359.4L191.6 353.9"/><path class="q10" d="M191.6 353.9L185.7 348.5"/><path class="q9" d="M185.7 348.5L183.7 350.9"/><path class="q6" d="M183.7 350.9L181.8 353.2"/><path class="q3" d="M181.8 353.2L179.8 355.5"/><path class="q2" d="M179.8 355.5L173.9 349.6L167.9 347.3"/><path class="q1" d="M167.9 347.3L162 344.8"/><path class="q0" d="M162 344.8L156.1 341.6L150.2 337.8L144.3 333.6L138.4 329.4"/><path class="w" d="M208.3 381.1L208.3 359.5L202.4 368.2L196.5 359.9L190.6 354.4L184.7 348.2L178.7 355.1L172.8 349.5L166.9 347.8L161 345.3L155.1 342.1L149.1 338.3L143.2 334.1L137.3 329.9L137.3 329.9Z"/><path class="k" d="M208.3 381.1L208.3 359.5"/><path class="q14" d="M208.3 359.5L206.4 362.4"/><path class="q11" d="M206.4 362.4L204.4 365.3"/><path class="q7" d="M204.4 365.3L202.4 368.2L196.5 359.9"/><path class="q9" d="M196.5 359.9L190.6 354.4"/><path class="q10" d="M190.6 354.4L184.7 348.2L182.7 350.5"/><path class="q7" d="M182.7 350.5L180.7 352.8"/><path class="q4" d="M180.7 352.8L178.7 355.1"/><path class="q3" d="M178.7 355.1L172.8 349.5"/><path class="q2" d="M172.8 349.5L166.9 347.8"/><path class="q1" d="M166.9 347.8L161 345.3"/><path class="q0" d="M161 345.3L155.1 342.1L149.1 338.3L143.2 334.1L137.3 329.9"/><path class="w" d="M207.3 381.6L207.3 362.1L201.4 368.7L195.4 360.5L189.5 354.9L183.6 346.6L177.7 354.5L171.8 349.9L165.8 348.3L159.9 345.9L154 342.7L148.1 338.8L142.2 334.6L136.2 330.4L136.2 330.4Z"/><path class="k" d="M207.3 381.6L207.3 362.1"/><path class="q12" d="M207.3 362.1L204.3 365.4"/><path class="q8" d="M204.3 365.4L201.4 368.7"/><path class="q7" d="M201.4 368.7L195.4 360.5"/><path class="q9" d="M195.4 360.5L189.5 354.9"/><path class="q11" d="M189.5 354.9L183.6 346.6L181.6 349.2"/><path class="q8" d="M181.6 349.2L179.7 351.9"/><path class="q5" d="M179.7 351.9L177.7 354.5"/><path class="q3" d="M177.7 354.5L171.8 349.9"/><path class="q2" d="M171.8 349.9L165.8 348.3"/><path class="q1" d="M165.8 348.3L159.9 345.9"/><path class="q0" d="M159.9 345.9L154 342.7L148.1 338.8L142.2 334.6L136.2 330.4"/><path class="w" d="M206.2 382.1L206.2 362.6L200.3 368.6L194.4 360.5L188.5 353.5L182.5 340L176.6 354.4L170.7 350.5L164.8 349L158.9 346.6L152.9 343.2L147 339.3L141.1 335.1L135.2 330.9L135.2 330.9Z"/><path class="k" d="M206.2 382.1L206.2 362.6"/><path class="q12" d="M206.2 362.6L203.3 365.6"/><path class="q8" d="M203.3 365.6L200.3 368.6"/><path class="q7" d="M200.3 368.6L194.4 360.5"/><path class="q10" d="M194.4 360.5L188.5 353.5"/><path class="q13" d="M188.5 353.5L185.5 346.7"/><path class="q17" d="M185.5 346.7L182.5 340L181.1 343.6"/><path class="q13" d="M181.1 343.6L179.6 347.2"/><path class="q9" d="M179.6 347.2L178.1 350.8"/><path class="q6" d="M178.1 350.8L176.6 354.4"/><path class="q4" d="M176.6 354.4L170.7 350.5"/><path class="q2" d="M170.7 350.5L164.8 349"/><path class="q0" d="M164.8 349L158.9 346.6L152.9 343.2L147 339.3L141.1 335.1L135.2 330.9"/><path class="w" d="M205.2 382.6L205.2 363.1L199.2 366.9L193.3 356.4L187.4 347.4L181.5 332.4L175.6 354.9L169.7 351.6L163.7 350.1L157.8 347.4L151.9 343.7L146 339.8L140.1 335.7L134.1 331.4L134.1 331.4Z"/><path class="k" d="M205.2 382.6L205.2 363.1"/><path class="q12" d="M205.2 363.1L202.2 365"/><path class="q9" d="M202.2 365L199.2 366.9L196.3 361.7"/><path class="q11" d="M196.3 361.7L193.3 356.4"/><path class="q14" d="M193.3 356.4L187.4 347.4"/><path class="q19" d="M187.4 347.4L184.4 339.9"/><path class="q22" d="M184.4 339.9L181.5 332.4L180.3 336.9"/><path class="q19" d="M180.3 336.9L179.1 341.4"/><path class="q14" d="M179.1 341.4L177.9 345.9"/><path class="q10" d="M177.9 345.9L176.8 350.4"/><path class="q6" d="M176.8 350.4L175.6 354.9"/><path class="q3" d="M175.6 354.9L169.7 351.6"/><path class="q2" d="M169.7 351.6L163.7 350.1"/><path class="q0" d="M163.7 350.1L157.8 347.4L151.9 343.7L146 339.8L140.1 335.7L134.1 331.4"/><path class="w" d="M204.1 383.2L204.1 352L198.2 364.6L192.3 348.9L186.4 341.9L180.4 333.6L174.5 355.7L168.6 353.3L162.7 351.4L156.8 348L150.8 344.2L144.9 340.3L139 336.2L133.1 332L133.1 332Z"/><path class="k" d="M204.1 383.2L204.1 352"/><path class="q21" d="M204.1 352L202.6 355.1"/><path class="q18" d="M202.6 355.1L201.2 358.3"/><path class="q15" d="M201.2 358.3L199.7 361.5"/><path class="q12" d="M199.7 361.5L198.2 364.6"/><path class="q11" d="M198.2 364.6L196.2 359.4"/><path class="q14" d="M196.2 359.4L194.2 354.1"/><path class="q17" d="M194.2 354.1L192.3 348.9"/><path class="q20" d="M192.3 348.9L186.4 341.9"/><path class="q22" d="M186.4 341.9L180.4 333.6L179.3 338"/><path class="q18" d="M179.3 338L178.1 342.4"/><path class="q14" d="M178.1 342.4L176.9 346.8"/><path class="q10" d="M176.9 346.8L175.7 351.2"/><path class="q6" d="M175.7 351.2L174.5 355.7"/><path class="q3" d="M174.5 355.7L168.6 353.3"/><path class="q1" d="M168.6 353.3L162.7 351.4"/><path class="q0" d="M162.7 351.4L156.8 348L150.8 344.2L144.9 340.3L139 336.2L133.1 332"/><path class="w" d="M203.1 383.7L203.1 336L197.1 363.7L191.2 347.1L185.3 345.4L179.4 343.5L173.5 356.7L167.5 354.7L161.6 352.3L155.7 348.5L149.8 344.7L143.9 340.8L137.9 336.7L132 332.5L132 332.5Z"/><path class="k" d="M203.1 383.7L203.1 336"/><path class="q33" d="M203.1 336L202.1 340.6"/><path class="q29" d="M202.1 340.6L201.1 345.2"/><path class="q25" d="M201.1 345.2L200.1 349.8"/><path class="q21" d="M200.1 349.8L199.1 354.4"/><path class="q17" d="M199.1 354.4L198.1 359.1"/><path class="q13" d="M198.1 359.1L197.1 363.7L195.2 358.1"/><path class="q16" d="M195.2 358.1L193.2 352.6"/><path class="q19" d="M193.2 352.6L191.2 347.1"/><path class="q20" d="M191.2 347.1L185.3 345.4"/><path class="q18" d="M185.3 345.4L179.4 343.5"/><path class="q15" d="M179.4 343.5L177.9 346.8"/><path class="q12" d="M177.9 346.8L176.4 350.1"/><path class="q8" d="M176.4 350.1L174.9 353.4"/><path class="q5" d="M174.9 353.4L173.5 356.7"/><path class="q2" d="M173.5 356.7L167.5 354.7"/><path class="q1" d="M167.5 354.7L161.6 352.3"/><path class="q0" d="M161.6 352.3L155.7 348.5L149.8 344.7L143.9 340.8L137.9 336.7L132 332.5"/><path class="w" d="M202 384.2L202 333.7L196.1 364.2L190.2 354.4L184.2 354.3L178.3 352.2L172.4 357.6L166.5 355.5L160.6 352.8L154.6 349L148.7 345.2L142.8 341.4L136.9 337.2L131 333L131 333Z"/><path class="k" d="M202 384.2L202 333.7"/><path class="q35" d="M202 333.7L201.2 338.1"/><path class="q32" d="M201.2 338.1L200.3 342.4"/><path class="q28" d="M200.3 342.4L199.5 346.8"/><path class="q24" d="M199.5 346.8L198.6 351.2"/><path class="q21" d="M198.6 351.2L197.8 355.5"/><path class="q17" d="M197.8 355.5L196.9 359.9"/><path class="q13" d="M196.9 359.9L196.1 364.2"/><path class="q12" d="M196.1 364.2L193.1 359.3"/><path class="q14" d="M193.1 359.3L190.2 354.4L184.2 354.3"/><path class="q11" d="M184.2 354.3L178.3 352.2"/><path class="q9" d="M178.3 352.2L175.4 354.9"/><path class="q5" d="M175.4 354.9L172.4 357.6"/><path class="q2" d="M172.4 357.6L166.5 355.5"/><path class="q0" d="M166.5 355.5L160.6 352.8L154.6 349L148.7 345.2L142.8 341.4L136.9 337.2L131 333"/><path class="w" d="M201 384.7L201 337L195 366.7L189.1 362.2L183.2 359.2L177.3 354.3L171.4 358.3L165.4 356L159.5 353.4L153.6 349.5L147.7 345.7L141.8 341.9L135.8 337.7L129.9 333.5L129.9 333.5Z"/><path class="k" d="M201 384.7L201 337"/><path class="q33" d="M201 337L200.1 341.2"/><path class="q30" d="M200.1 341.2L199.3 345.5"/><path class="q26" d="M199.3 345.5L198.4 349.7"/><path class="q23" d="M198.4 349.7L197.6 353.9"/><path class="q19" d="M197.6 353.9L196.7 358.2"/><path class="q15" d="M196.7 358.2L195.9 362.4"/><path class="q11" d="M195.9 362.4L195 366.7"/><path class="q10" d="M195 366.7L189.1 362.2"/><path class="q9" d="M189.1 362.2L183.2 359.2L177.3 354.3"/><path class="q7" d="M177.3 354.3L174.3 356.3"/><path class="q4" d="M174.3 356.3L171.4 358.3"/><path class="q2" d="M171.4 358.3L165.4 356"/><path class="q0" d="M165.4 356L159.5 353.4L153.6 349.5L147.7 345.7L141.8 341.9L135.8 337.7L129.9 333.5"/><path class="w" d="M199.9 385.2L199.9 354L194 369.9L188.1 363.7L182.1 357.8L176.2 352.5L170.3 358.9L164.4 356.4L158.5 353.9L152.5 350.1L146.6 346.3L140.7 342.4L134.8 338.2L128.9 334L128.9 334Z"/><path class="k" d="M199.9 385.2L199.9 354"/><path class="q21" d="M199.9 354L198.4 358"/><path class="q17" d="M198.4 358L196.9 362"/><path class="q13" d="M196.9 362L195.5 366"/><path class="q9" d="M195.5 366L194 369.9"/><path class="q8" d="M194 369.9L188.1 363.7"/><path class="q10" d="M188.1 363.7L182.1 357.8"/><path class="q11" d="M182.1 357.8L176.2 352.5"/><path class="q9" d="M176.2 352.5L173.3 355.7"/><path class="q5" d="M173.3 355.7L170.3 358.9"/><path class="q2" d="M170.3 358.9L164.4 356.4"/><path class="q0" d="M164.4 356.4L158.5 353.9L152.5 350.1L146.6 346.3L140.7 342.4L134.8 338.2L128.9 334"/><path class="w" d="M198.8 385.7L198.8 366.2L192.9 370.4L187 360.3L181.1 353.6L175.2 350.2L169.2 359.7L163.3 356.6L157.4 354.3L151.5 350.6L145.6 346.8L139.6 342.9L133.7 338.7L127.8 334.5L127.8 334.5Z"/><path class="k" d="M198.8 385.7L198.8 366.2"/><path class="q12" d="M198.8 366.2L195.9 368.3"/><path class="q9" d="M195.9 368.3L192.9 370.4"/><path class="q8" d="M192.9 370.4L190 365.4"/><path class="q11" d="M190 365.4L187 360.3"/><path class="q13" d="M187 360.3L181.1 353.6"/><path class="q14" d="M181.1 353.6L175.2 350.2"/><path class="q11" d="M175.2 350.2L173.2 353.4"/><path class="q8" d="M173.2 353.4L171.2 356.5"/><path class="q4" d="M171.2 356.5L169.2 359.7"/><path class="q2" d="M169.2 359.7L163.3 356.6"/><path class="q1" d="M163.3 356.6L157.4 354.3"/><path class="q0" d="M157.4 354.3L151.5 350.6L145.6 346.8L139.6 342.9L133.7 338.7L127.8 334.5"/><path class="w" d="M197.8 386.2L197.8 355.8L191.9 368.4L185.9 357.3L180 351.3L174.1 350L168.2 360.6L162.3 356.6L156.3 354.7L150.4 351.1L144.5 347.3L138.6 343.4L132.7 339.3L126.7 335L126.7 335Z"/><path class="k" d="M197.8 386.2L197.8 355.8"/><path class="q21" d="M197.8 355.8L196.3 358.9"/><path class="q18" d="M196.3 358.9L194.8 362.1"/><path class="q14" d="M194.8 362.1L193.3 365.3"/><path class="q11" d="M193.3 365.3L191.9 368.4L188.9 362.8"/><path class="q13" d="M188.9 362.8L185.9 357.3"/><path class="q15" d="M185.9 357.3L180 351.3L174.1 350"/><path class="q12" d="M174.1 350L172.1 353.5"/><path class="q8" d="M172.1 353.5L170.2 357.1"/><path class="q4" d="M170.2 357.1L168.2 360.6"/><path class="q2" d="M168.2 360.6L162.3 356.6"/><path class="q1" d="M162.3 356.6L156.3 354.7"/><path class="q0" d="M156.3 354.7L150.4 351.1L144.5 347.3L138.6 343.4L132.7 339.3L126.7 335"/><path class="w" d="M196.7 386.8L196.7 343L190.8 368.9L184.9 359.2L179 354.6L173.1 352.9L167.1 361.3L161.2 356.9L155.3 355L149.4 351.6L143.4 347.7L137.5 343.9L131.6 339.8L125.7 335.6L125.7 335.6Z"/><path class="k" d="M196.7 386.8L196.7 343"/><path class="q30" d="M196.7 343L195.7 347.3"/><path class="q27" d="M195.7 347.3L194.8 351.6"/><path class="q23" d="M194.8 351.6L193.8 356"/><path class="q19" d="M193.8 356L192.8 360.3"/><path class="q15" d="M192.8 360.3L191.8 364.6"/><path class="q11" d="M191.8 364.6L190.8 368.9"/><path class="q12" d="M190.8 368.9L184.9 359.2"/><path class="q14" d="M184.9 359.2L179 354.6"/><path class="q13" d="M179 354.6L173.1 352.9"/><path class="q10" d="M173.1 352.9L171.1 355.7"/><path class="q7" d="M171.1 355.7L169.1 358.5"/><path class="q4" d="M169.1 358.5L167.1 361.3"/><path class="q2" d="M167.1 361.3L161.2 356.9"/><path class="q1" d="M161.2 356.9L155.3 355"/><path class="q0" d="M155.3 355L149.4 351.6L143.4 347.7L137.5 343.9L131.6 339.8L125.7 335.6"/><path class="w" d="M195.7 387.3L195.7 356.8L189.8 372.8L183.8 364.1L177.9 359.8L172 356.5L166.1 361.7L160.2 357.4L154.2 355.4L148.3 352.1L142.4 348.1L136.5 344.4L130.6 340.3L124.6 336.1L124.6 336.1Z"/><path class="k" d="M195.7 387.3L195.7 356.8"/><path class="q21" d="M195.7 356.8L194.2 360.8"/><path class="q17" d="M194.2 360.8L192.7 364.8"/><path class="q13" d="M192.7 364.8L191.2 368.8"/><path class="q9" d="M191.2 368.8L189.8 372.8"/><path class="q8" d="M189.8 372.8L183.8 364.1"/><path class="q10" d="M183.8 364.1L177.9 359.8L172 356.5"/><path class="q8" d="M172 356.5L169 359.1"/><path class="q4" d="M169 359.1L166.1 361.7"/><path class="q2" d="M166.1 361.7L160.2 357.4"/><path class="q1" d="M160.2 357.4L154.2 355.4"/><path class="q0" d="M154.2 355.4L148.3 352.1L142.4 348.1L136.5 344.4L130.6 340.3L124.6 336.1"/><path class="w" d="M194.6 387.8L194.6 368.2L188.7 376.3L182.8 367.1L176.9 362.8L170.9 358.7L165 361.8L159.1 357.9L153.2 355.9L147.3 352.6L141.3 348.6L135.4 345L129.5 340.8L123.6 336.6L123.6 336.6Z"/><path class="k" d="M194.6 387.8L194.6 368.2"/><path class="q12" d="M194.6 368.2L192.6 370.9"/><path class="q9" d="M192.6 370.9L190.7 373.6"/><path class="q6" d="M190.7 373.6L188.7 376.3L182.8 367.1"/><path class="q8" d="M182.8 367.1L176.9 362.8L170.9 358.7"/><path class="q7" d="M170.9 358.7L168 360.2"/><path class="q4" d="M168 360.2L165 361.8"/><path class="q2" d="M165 361.8L159.1 357.9"/><path class="q1" d="M159.1 357.9L153.2 355.9"/><path class="q0" d="M153.2 355.9L147.3 352.6L141.3 348.6L135.4 345L129.5 340.8L123.6 336.6"/><path class="w" d="M193.6 388.3L193.6 368.7L187.6 377.7L181.7 367.9L175.8 363.6L169.9 358.2L164 361.9L158 358.4L152.1 356.4L146.2 353.1L140.3 349.1L134.4 345.5L128.4 341.3L122.5 337.1L122.5 337.1Z"/><path class="k" d="M193.6 388.3L193.6 368.7"/><path class="q12" d="M193.6 368.7L191.6 371.7"/><path class="q9" d="M191.6 371.7L189.6 374.7"/><path class="q5" d="M189.6 374.7L187.6 377.7"/><path class="q6" d="M187.6 377.7L181.7 367.9"/><path class="q8" d="M181.7 367.9L175.8 363.6L169.9 358.2"/><path class="q7" d="M169.9 358.2L166.9 360"/><path class="q4" d="M166.9 360L164 361.9"/><path class="q2" d="M164 361.9L158 358.4"/><path class="q1" d="M158 358.4L152.1 356.4"/><path class="q0" d="M152.1 356.4L146.2 353.1L140.3 349.1L134.4 345.5L128.4 341.3L122.5 337.1"/><path class="w" d="M192.5 388.8L192.5 369.3L186.6 378.2L180.7 368.4L174.8 363.4L168.8 354.9L162.9 362.1L157 359.1L151.1 357L145.2 353.7L139.2 349.7L133.3 346L127.4 341.8L121.5 337.6L121.5 337.6Z"/><path class="k" d="M192.5 388.8L192.5 369.3"/><path class="q12" d="M192.5 369.3L190.5 372.2"/><path class="q9" d="M190.5 372.2L188.6 375.2"/><path class="q5" d="M188.6 375.2L186.6 378.2"/><path class="q6" d="M186.6 378.2L180.7 368.4"/><path class="q8" d="M180.7 368.4L174.8 363.4"/><path class="q10" d="M174.8 363.4L168.8 354.9L166.9 357.3"/><path class="q7" d="M166.9 357.3L164.9 359.7"/><path class="q4" d="M164.9 359.7L162.9 362.1"/><path class="q2" d="M162.9 362.1L157 359.1"/><path class="q1" d="M157 359.1L151.1 357"/><path class="q0" d="M151.1 357L145.2 353.7L139.2 349.7L133.3 346L127.4 341.8L121.5 337.6"/><path class="w" d="M191.5 389.3L191.5 369.8L185.5 378.7L179.6 367.8L173.7 361.4L167.8 350.7L161.9 362.9L155.9 360.1L150 357.8L144.1 354.2L138.2 350.3L132.3 346.5L126.3 342.3L120.4 338.1L120.4 338.1Z"/><path class="k" d="M191.5 389.3L191.5 369.8"/><path class="q12" d="M191.5 369.8L189.5 372.7"/><path class="q9" d="M189.5 372.7L187.5 375.7"/><path class="q5" d="M187.5 375.7L185.5 378.7L182.6 373.3"/><path class="q8" d="M182.6 373.3L179.6 367.8"/><path class="q10" d="M179.6 367.8L173.7 361.4"/><path class="q12" d="M173.7 361.4L170.7 356"/><path class="q14" d="M170.7 356L167.8 350.7"/><path class="q13" d="M167.8 350.7L165.8 354.8"/><path class="q9" d="M165.8 354.8L163.8 358.9"/><path class="q5" d="M163.8 358.9L161.9 362.9"/><path class="q2" d="M161.9 362.9L155.9 360.1"/><path class="q1" d="M155.9 360.1L150 357.8"/><path class="q0" d="M150 357.8L144.1 354.2L138.2 350.3L132.3 346.5L126.3 342.3L120.4 338.1"/><path class="w" d="M190.4 389.8L190.4 370.3L184.5 378.7L178.6 364.5L172.6 358.8L166.7 348.7L160.8 364L154.9 361.3L149 358.4L143 354.7L137.1 350.9L131.2 347L125.3 342.9L119.4 338.6L119.4 338.6Z"/><path class="k" d="M190.4 389.8L190.4 370.3"/><path class="q12" d="M190.4 370.3L188.4 373.1"/><path class="q9" d="M188.4 373.1L186.5 375.9"/><path class="q6" d="M186.5 375.9L184.5 378.7L181.5 371.6"/><path class="q10" d="M181.5 371.6L178.6 364.5"/><path class="q13" d="M178.6 364.5L172.6 358.8"/><path class="q14" d="M172.6 358.8L169.7 353.8"/><path class="q16" d="M169.7 353.8L166.7 348.7L165.2 352.6"/><path class="q12" d="M165.2 352.6L163.8 356.4"/><path class="q8" d="M163.8 356.4L162.3 360.2"/><path class="q4" d="M162.3 360.2L160.8 364"/><path class="q2" d="M160.8 364L154.9 361.3"/><path class="q0" d="M154.9 361.3L149 358.4L143 354.7L137.1 350.9L131.2 347L125.3 342.9L119.4 338.6"/><path class="w" d="M189.3 390.4L189.3 367.4L183.4 377.2L177.5 360.6L171.6 357.9L165.7 350.2L159.7 365L153.8 361.9L147.9 358.9L142 355.2L136.1 351.4L130.1 347.5L124.2 343.4L118.3 339.2L118.3 339.2Z"/><path class="k" d="M189.3 390.4L189.3 367.4"/><path class="q15" d="M189.3 367.4L187.4 370.7"/><path class="q11" d="M187.4 370.7L185.4 374"/><path class="q7" d="M185.4 374L183.4 377.2L181.5 371.7"/><path class="q11" d="M181.5 371.7L179.5 366.1"/><path class="q14" d="M179.5 366.1L177.5 360.6"/><path class="q15" d="M177.5 360.6L171.6 357.9"/><path class="q16" d="M171.6 357.9L165.7 350.2"/><path class="q15" d="M165.7 350.2L164.2 353.9"/><path class="q11" d="M164.2 353.9L162.7 357.6"/><path class="q7" d="M162.7 357.6L161.2 361.3"/><path class="q4" d="M161.2 361.3L159.7 365"/><path class="q1" d="M159.7 365L153.8 361.9"/><path class="q0" d="M153.8 361.9L147.9 358.9L142 355.2L136.1 351.4L130.1 347.5L124.2 343.4L118.3 339.2"/><path class="w" d="M188.3 390.9L188.3 354.6L182.4 375.8L176.5 361.3L170.5 360.3L164.6 354.9L158.7 365.6L152.8 361.7L146.9 359.1L140.9 355.7L135 352L129.1 348L123.2 343.9L117.3 339.7L117.3 339.7Z"/><path class="k" d="M188.3 390.9L188.3 354.6"/><path class="q25" d="M188.3 354.6L187.1 358.8"/><path class="q21" d="M187.1 358.8L185.9 363.1"/><path class="q17" d="M185.9 363.1L184.7 367.3"/><path class="q13" d="M184.7 367.3L183.6 371.6"/><path class="q9" d="M183.6 371.6L182.4 375.8L179.4 368.6"/><path class="q13" d="M179.4 368.6L176.5 361.3"/><path class="q14" d="M176.5 361.3L170.5 360.3"/><path class="q13" d="M170.5 360.3L164.6 354.9"/><path class="q12" d="M164.6 354.9L162.6 358.5"/><path class="q8" d="M162.6 358.5L160.7 362.1"/><path class="q4" d="M160.7 362.1L158.7 365.6"/><path class="q2" d="M158.7 365.6L152.8 361.7"/><path class="q1" d="M152.8 361.7L146.9 359.1"/><path class="q0" d="M146.9 359.1L140.9 355.7L135 352L129.1 348L123.2 343.9L117.3 339.7"/><path class="w" d="M187.2 391.4L187.2 363.6L181.3 376.4L175.4 366.5L169.5 364.5L163.6 359.8L157.6 366L151.7 361.4L145.8 359.3L139.9 356.3L134 352.5L128 348.6L122.1 344.4L116.2 340.2L116.2 340.2Z"/><path class="k" d="M187.2 391.4L187.2 363.6"/><path class="q19" d="M187.2 363.6L185.8 366.8"/><path class="q16" d="M185.8 366.8L184.3 370"/><path class="q12" d="M184.3 370L182.8 373.2"/><path class="q9" d="M182.8 373.2L181.3 376.4"/><path class="q8" d="M181.3 376.4L178.4 371.4"/><path class="q10" d="M178.4 371.4L175.4 366.5"/><path class="q11" d="M175.4 366.5L169.5 364.5"/><path class="q10" d="M169.5 364.5L163.6 359.8"/><path class="q8" d="M163.6 359.8L160.6 362.9"/><path class="q4" d="M160.6 362.9L157.6 366"/><path class="q2" d="M157.6 366L151.7 361.4"/><path class="q1" d="M151.7 361.4L145.8 359.3"/><path class="q0" d="M145.8 359.3L139.9 356.3L134 352.5L128 348.6L122.1 344.4L116.2 340.2"/><path class="w" d="M186.2 391.9L186.2 373.6L180.3 378.1L174.3 370.8L168.4 367.2L162.5 361.3L156.6 366.3L150.7 361.7L144.7 359.8L138.8 356.8L132.9 353L127 349.1L121.1 344.9L115.1 340.7L115.1 340.7Z"/><path class="k" d="M186.2 391.9L186.2 373.6"/><path class="q11" d="M186.2 373.6L183.2 375.9"/><path class="q8" d="M183.2 375.9L180.3 378.1"/><path class="q7" d="M180.3 378.1L174.3 370.8"/><path class="q8" d="M174.3 370.8L168.4 367.2"/><path class="q9" d="M168.4 367.2L162.5 361.3"/><path class="q7" d="M162.5 361.3L159.5 363.8"/><path class="q4" d="M159.5 363.8L156.6 366.3"/><path class="q2" d="M156.6 366.3L150.7 361.7"/><path class="q1" d="M150.7 361.7L144.7 359.8"/><path class="q0" d="M144.7 359.8L138.8 356.8L132.9 353L127 349.1L121.1 344.9L115.1 340.7"/><path class="w" d="M185.1 392.4L185.1 373L179.2 379.4L173.3 372.2L167.4 367.5L161.4 360.3L155.5 366.5L149.6 362.4L143.7 360.4L137.8 357.4L131.8 353.5L125.9 349.6L120 345.4L114.1 341.2L114.1 341.2Z"/><path class="k" d="M185.1 392.4L185.1 373"/><path class="q12" d="M185.1 373L182.2 376.2"/><path class="q8" d="M182.2 376.2L179.2 379.4"/><path class="q7" d="M179.2 379.4L173.3 372.2"/><path class="q8" d="M173.3 372.2L167.4 367.5"/><path class="q9" d="M167.4 367.5L161.4 360.3"/><path class="q8" d="M161.4 360.3L158.5 363.4"/><path class="q4" d="M158.5 363.4L155.5 366.5"/><path class="q2" d="M155.5 366.5L149.6 362.4"/><path class="q1" d="M149.6 362.4L143.7 360.4"/><path class="q0" d="M143.7 360.4L137.8 357.4L131.8 353.5L125.9 349.6L120 345.4L114.1 341.2"/><path class="w" d="M184.1 392.9L184.1 373.4L178.2 380.4L172.2 372.5L166.3 367.5L160.4 360L154.5 366.9L148.6 363L142.6 361L136.7 358L130.8 354L124.9 350.1L119 345.9L113 341.7L113 341.7Z"/><path class="k" d="M184.1 392.9L184.1 373.4"/><path class="q13" d="M184.1 373.4L182.1 375.7"/><path class="q10" d="M182.1 375.7L180.1 378.1"/><path class="q7" d="M180.1 378.1L178.2 380.4L172.2 372.5"/><path class="q8" d="M172.2 372.5L166.3 367.5"/><path class="q10" d="M166.3 367.5L160.4 360L158.4 362.3"/><path class="q7" d="M158.4 362.3L156.4 364.6"/><path class="q4" d="M156.4 364.6L154.5 366.9"/><path class="q2" d="M154.5 366.9L148.6 363"/><path class="q1" d="M148.6 363L142.6 361"/><path class="q0" d="M142.6 361L136.7 358L130.8 354L124.9 350.1L119 345.9L113 341.7"/><path class="w" d="M183 393.4L183 373.9L177.1 381.3L171.2 373L165.3 368L159.3 360.5L153.4 367.4L147.5 363.6L141.6 361.5L135.7 358.5L129.7 354.5L123.8 350.6L117.9 346.5L112 342.2L112 342.2Z"/><path class="k" d="M183 393.4L183 373.9"/><path class="q13" d="M183 373.9L181 376.4"/><path class="q9" d="M181 376.4L179.1 378.8"/><path class="q6" d="M179.1 378.8L177.1 381.3L171.2 373"/><path class="q8" d="M171.2 373L165.3 368"/><path class="q10" d="M165.3 368L159.3 360.5L157.4 362.8"/><path class="q7" d="M157.4 362.8L155.4 365.1"/><path class="q4" d="M155.4 365.1L153.4 367.4"/><path class="q2" d="M153.4 367.4L147.5 363.6"/><path class="q1" d="M147.5 363.6L141.6 361.5"/><path class="q0" d="M141.6 361.5L135.7 358.5L129.7 354.5L123.8 350.6L117.9 346.5L112 342.2"/><path class="w" d="M182 393.9L182 374.4L176 381.2L170.1 373.5L164.2 368.5L158.3 360.6L152.4 367.9L146.4 364.1L140.5 362L134.6 359L128.7 355L122.8 351.1L116.8 347L110.9 342.7L110.9 342.7Z"/><path class="k" d="M182 393.9L182 374.4"/><path class="q13" d="M182 374.4L180 376.7"/><path class="q10" d="M180 376.7L178 379"/><path class="q7" d="M178 379L176 381.2L170.1 373.5"/><path class="q8" d="M170.1 373.5L164.2 368.5"/><path class="q10" d="M164.2 368.5L158.3 360.6L156.3 363.1"/><path class="q7" d="M156.3 363.1L154.3 365.5"/><path class="q4" d="M154.3 365.5L152.4 367.9"/><path class="q2" d="M152.4 367.9L146.4 364.1"/><path class="q1" d="M146.4 364.1L140.5 362"/><path class="q0" d="M140.5 362L134.6 359L128.7 355L122.8 351.1L116.8 347L110.9 342.7"/><path class="w" d="M180.9 394.5L180.9 372.5L175 380.8L169.1 374.1L163.1 369L157.2 359.8L151.3 368.4L145.4 364.6L139.5 362.6L133.5 359.5L127.6 355.6L121.7 351.6L115.8 347.5L109.9 343.3L109.9 343.3Z"/><path class="k" d="M180.9 394.5L180.9 372.5"/><path class="q14" d="M180.9 372.5L178.9 375.3"/><path class="q11" d="M178.9 375.3L177 378"/><path class="q8" d="M177 378L175 380.8"/><path class="q7" d="M175 380.8L169.1 374.1"/><path class="q8" d="M169.1 374.1L163.1 369"/><path class="q11" d="M163.1 369L157.2 359.8L155.3 362.7"/><path class="q7" d="M155.3 362.7L153.3 365.6"/><path class="q4" d="M153.3 365.6L151.3 368.4"/><path class="q2" d="M151.3 368.4L145.4 364.6"/><path class="q1" d="M145.4 364.6L139.5 362.6"/><path class="q0" d="M139.5 362.6L133.5 359.5L127.6 355.6L121.7 351.6L115.8 347.5L109.9 343.3"/><path class="w" d="M179.9 395L179.9 360.7L173.9 381.1L168 374.6L162.1 369.6L156.2 358.7L150.2 369L144.3 365L138.4 363.1L132.5 360L126.6 356.1L120.7 352.2L114.7 348L108.8 343.8L108.8 343.8Z"/><path class="k" d="M179.9 395L179.9 360.7"/><path class="q23" d="M179.9 360.7L178.7 364.8"/><path class="q20" d="M178.7 364.8L177.5 368.8"/><path class="q16" d="M177.5 368.8L176.3 372.9"/><path class="q12" d="M176.3 372.9L175.1 377"/><path class="q8" d="M175.1 377L173.9 381.1"/><path class="q7" d="M173.9 381.1L168 374.6"/><path class="q8" d="M168 374.6L162.1 369.6"/><path class="q10" d="M162.1 369.6L159.1 364.1"/><path class="q12" d="M159.1 364.1L156.2 358.7L154.2 362.1"/><path class="q8" d="M154.2 362.1L152.2 365.5"/><path class="q4" d="M152.2 365.5L150.2 369"/><path class="q2" d="M150.2 369L144.3 365"/><path class="q1" d="M144.3 365L138.4 363.1"/><path class="q0" d="M138.4 363.1L132.5 360L126.6 356.1L120.7 352.2L114.7 348L108.8 343.8"/><path class="w" d="M178.8 395.5L178.8 354.2L172.9 382.3L167 375.1L161 369.8L155.1 358.4L149.2 369.5L143.3 365.2L137.4 363.5L131.4 360.5L125.5 356.6L119.6 352.6L113.7 348.5L107.8 344.3L107.8 344.3Z"/><path class="k" d="M178.8 395.5L178.8 354.2"/><path class="q28" d="M178.8 354.2L177.8 358.8"/><path class="q25" d="M177.8 358.8L176.8 363.5"/><path class="q21" d="M176.8 363.5L175.8 368.2"/><path class="q16" d="M175.8 368.2L174.8 372.9"/><path class="q12" d="M174.8 372.9L173.9 377.6"/><path class="q8" d="M173.9 377.6L172.9 382.3"/><path class="q7" d="M172.9 382.3L167 375.1"/><path class="q8" d="M167 375.1L161 369.8"/><path class="q10" d="M161 369.8L158.1 364.1"/><path class="q13" d="M158.1 364.1L155.1 358.4"/><path class="q12" d="M155.1 358.4L153.1 362.1"/><path class="q8" d="M153.1 362.1L151.2 365.8"/><path class="q4" d="M151.2 365.8L149.2 369.5"/><path class="q2" d="M149.2 369.5L143.3 365.2"/><path class="q1" d="M143.3 365.2L137.4 363.5"/><path class="q0" d="M137.4 363.5L131.4 360.5L125.5 356.6L119.6 352.6L113.7 348.5L107.8 344.3"/><path class="w" d="M177.7 396L177.7 361.7L171.8 383.3L165.9 374.2L160 368L154.1 359.2L148.1 369.9L142.2 365.2L136.3 363.7L130.4 361.1L124.5 357.1L118.5 353L112.6 349L106.7 344.8L106.7 344.8Z"/><path class="k" d="M177.7 396L177.7 361.7"/><path class="q23" d="M177.7 361.7L176.6 366"/><path class="q20" d="M176.6 366L175.4 370.4"/><path class="q16" d="M175.4 370.4L174.2 374.7"/><path class="q11" d="M174.2 374.7L173 379"/><path class="q7" d="M173 379L171.8 383.3L165.9 374.2"/><path class="q10" d="M165.9 374.2L160 368"/><path class="q12" d="M160 368L154.1 359.2L152.1 362.8"/><path class="q8" d="M152.1 362.8L150.1 366.3"/><path class="q4" d="M150.1 366.3L148.1 369.9"/><path class="q3" d="M148.1 369.9L142.2 365.2"/><path class="q2" d="M142.2 365.2L136.3 363.7"/><path class="q0" d="M136.3 363.7L130.4 361.1L124.5 357.1L118.5 353L112.6 349L106.7 344.8"/><path class="w" d="M176.7 396.5L176.7 374.5L170.8 381L164.8 370L158.9 364.3L153 361L147.1 370.1L141.2 365.5L135.2 363.8L129.3 361.6L123.4 357.6L117.5 353.5L111.6 349.5L105.6 345.3L105.6 345.3Z"/><path class="k" d="M176.7 396.5L176.7 374.5"/><path class="q14" d="M176.7 374.5L173.7 377.8"/><path class="q10" d="M173.7 377.8L170.8 381"/><path class="q9" d="M170.8 381L167.8 375.5"/><path class="q12" d="M167.8 375.5L164.8 370"/><path class="q13" d="M164.8 370L158.9 364.3"/><path class="q14" d="M158.9 364.3L153 361"/><path class="q11" d="M153 361L151 364.1"/><path class="q8" d="M151 364.1L149.1 367.1"/><path class="q4" d="M149.1 367.1L147.1 370.1"/><path class="q3" d="M147.1 370.1L141.2 365.5"/><path class="q2" d="M141.2 365.5L135.2 363.8"/><path class="q0" d="M135.2 363.8L129.3 361.6L123.4 357.6L117.5 353.5L111.6 349.5L105.6 345.3"/><path class="w" d="M175.6 397L175.6 362.4L169.7 376.8L163.8 367.6L157.9 363.6L152 363.1L146 370.2L140.1 366L134.2 364.1L128.3 362.1L122.4 358.1L116.4 354.1L110.5 350L104.6 345.8L104.6 345.8Z"/><path class="k" d="M175.6 397L175.6 362.4"/><path class="q24" d="M175.6 362.4L174.2 366"/><path class="q20" d="M174.2 366L172.7 369.6"/><path class="q17" d="M172.7 369.6L171.2 373.2"/><path class="q13" d="M171.2 373.2L169.7 376.8L163.8 367.6"/><path class="q15" d="M163.8 367.6L157.9 363.6"/><path class="q13" d="M157.9 363.6L152 363.1"/><path class="q10" d="M152 363.1L150 365.5"/><path class="q7" d="M150 365.5L148 367.9"/><path class="q4" d="M148 367.9L146 370.2"/><path class="q3" d="M146 370.2L140.1 366"/><path class="q2" d="M140.1 366L134.2 364.1"/><path class="q0" d="M134.2 364.1L128.3 362.1L122.4 358.1L116.4 354.1L110.5 350L104.6 345.8"/><path class="w" d="M174.6 397.5L174.6 354.1L168.7 377.6L162.7 371L156.8 367.4L150.9 364.5L145 370.5L139.1 366.5L133.1 364.6L127.2 362.6L121.3 358.6L115.4 354.7L109.5 350.6L103.5 346.3L103.5 346.3Z"/><path class="k" d="M174.6 397.5L174.6 354.1"/><path class="q30" d="M174.6 354.1L173.6 358"/><path class="q27" d="M173.6 358L172.6 361.9"/><path class="q24" d="M172.6 361.9L171.6 365.8"/><path class="q20" d="M171.6 365.8L170.6 369.8"/><path class="q17" d="M170.6 369.8L169.6 373.7"/><path class="q13" d="M169.6 373.7L168.7 377.6"/><path class="q12" d="M168.7 377.6L162.7 371"/><path class="q13" d="M162.7 371L156.8 367.4"/><path class="q12" d="M156.8 367.4L150.9 364.5"/><path class="q9" d="M150.9 364.5L147.9 367.5"/><path class="q5" d="M147.9 367.5L145 370.5"/><path class="q3" d="M145 370.5L139.1 366.5"/><path class="q2" d="M139.1 366.5L133.1 364.6"/><path class="q0" d="M133.1 364.6L127.2 362.6L121.3 358.6L115.4 354.7L109.5 350.6L103.5 346.3"/><path class="w" d="M173.5 398.1L173.5 373.5L167.6 383.4L161.7 376.2L155.8 371.6L149.8 364L143.9 371L138 367.1L132.1 365.1L126.2 363.1L120.2 359.2L114.3 355.2L108.4 351.1L102.5 346.9L102.5 346.9Z"/><path class="k" d="M173.5 398.1L173.5 373.5"/><path class="q16" d="M173.5 373.5L171.5 376.8"/><path class="q12" d="M171.5 376.8L169.6 380.1"/><path class="q9" d="M169.6 380.1L167.6 383.4"/><path class="q8" d="M167.6 383.4L161.7 376.2"/><path class="q9" d="M161.7 376.2L155.8 371.6"/><path class="q11" d="M155.8 371.6L149.8 364L147.9 366.4"/><path class="q8" d="M147.9 366.4L145.9 368.7"/><path class="q5" d="M145.9 368.7L143.9 371"/><path class="q3" d="M143.9 371L138 367.1"/><path class="q2" d="M138 367.1L132.1 365.1"/><path class="q0" d="M132.1 365.1L126.2 363.1L120.2 359.2L114.3 355.2L108.4 351.1L102.5 346.9"/><path class="w" d="M172.5 398.6L172.5 379L166.5 387.2L160.6 378.2L154.7 372.9L148.8 360.8L142.9 371.5L136.9 367.6L131 365.8L125.1 363.6L119.2 359.7L113.3 355.8L107.3 351.6L101.4 347.4L101.4 347.4Z"/><path class="k" d="M172.5 398.6L172.5 379"/><path class="q12" d="M172.5 379L170.5 381.7"/><path class="q9" d="M170.5 381.7L168.5 384.4"/><path class="q6" d="M168.5 384.4L166.5 387.2L160.6 378.2"/><path class="q8" d="M160.6 378.2L154.7 372.9"/><path class="q10" d="M154.7 372.9L151.7 366.8"/><path class="q13" d="M151.7 366.8L148.8 360.8L146.8 364.3"/><path class="q9" d="M146.8 364.3L144.8 367.9"/><path class="q5" d="M144.8 367.9L142.9 371.5"/><path class="q3" d="M142.9 371.5L136.9 367.6"/><path class="q2" d="M136.9 367.6L131 365.8"/><path class="q0" d="M131 365.8L125.1 363.6L119.2 359.7L113.3 355.8L107.3 351.6L101.4 347.4"/><path class="w" d="M171.4 399.1L171.4 379.5L165.5 386.7L159.6 377.6L153.7 371.1L147.7 356.7L141.8 372.1L135.9 368.8L130 366.9L124.1 364.1L118.1 360.2L112.2 356.3L106.3 352.1L100.4 347.9L100.4 347.9Z"/><path class="k" d="M171.4 399.1L171.4 379.5"/><path class="q13" d="M171.4 379.5L169.4 381.9"/><path class="q10" d="M169.4 381.9L167.5 384.3"/><path class="q7" d="M167.5 384.3L165.5 386.7L159.6 377.6"/><path class="q10" d="M159.6 377.6L153.7 371.1"/><path class="q13" d="M153.7 371.1L150.7 363.9"/><path class="q17" d="M150.7 363.9L147.7 356.7L146.2 360.5"/><path class="q13" d="M146.2 360.5L144.8 364.4"/><path class="q9" d="M144.8 364.4L143.3 368.3"/><path class="q5" d="M143.3 368.3L141.8 372.1"/><path class="q3" d="M141.8 372.1L135.9 368.8"/><path class="q1" d="M135.9 368.8L130 366.9"/><path class="q0" d="M130 366.9L124.1 364.1L118.1 360.2L112.2 356.3L106.3 352.1L100.4 347.9"/><path class="w" d="M170.4 399.6L170.4 372.1L164.4 385.6L158.5 374.2L152.6 367.2L146.7 355.1L140.8 373.3L134.8 370.6L128.9 368L123 364.7L117.1 360.7L111.2 356.8L105.2 352.6L99.3 348.4L99.3 348.4Z"/><path class="k" d="M170.4 399.6L170.4 372.1"/><path class="q19" d="M170.4 372.1L168.9 375.4"/><path class="q15" d="M168.9 375.4L167.4 378.8"/><path class="q12" d="M167.4 378.8L165.9 382.2"/><path class="q8" d="M165.9 382.2L164.4 385.6L161.5 379.9"/><path class="q11" d="M161.5 379.9L158.5 374.2"/><path class="q13" d="M158.5 374.2L152.6 367.2"/><path class="q16" d="M152.6 367.2L149.6 361.1"/><path class="q19" d="M149.6 361.1L146.7 355.1L145.5 358.7"/><path class="q15" d="M145.5 358.7L144.3 362.4"/><path class="q11" d="M144.3 362.4L143.1 366"/><path class="q8" d="M143.1 366L141.9 369.6"/><path class="q4" d="M141.9 369.6L140.8 373.3"/><path class="q2" d="M140.8 373.3L134.8 370.6"/><path class="q1" d="M134.8 370.6L128.9 368"/><path class="q0" d="M128.9 368L123 364.7L117.1 360.7L111.2 356.8L105.2 352.6L99.3 348.4"/><path class="w" d="M169.3 400.1L169.3 361.3L163.4 385.2L157.5 370L151.5 364.4L145.6 358.4L139.7 375L133.8 372.2L127.9 368.9L121.9 365.1L116 361.2L110.1 357.3L104.2 353.1L98.3 348.9L98.3 348.9Z"/><path class="k" d="M169.3 400.1L169.3 361.3"/><path class="q27" d="M169.3 361.3L168.3 365.3"/><path class="q23" d="M168.3 365.3L167.3 369.3"/><path class="q20" d="M167.3 369.3L166.3 373.2"/><path class="q16" d="M166.3 373.2L165.4 377.2"/><path class="q13" d="M165.4 377.2L164.4 381.2"/><path class="q9" d="M164.4 381.2L163.4 385.2L160.4 377.6"/><path class="q14" d="M160.4 377.6L157.5 370"/><path class="q16" d="M157.5 370L151.5 364.4"/><path class="q17" d="M151.5 364.4L145.6 358.4"/><path class="q16" d="M145.6 358.4L144.1 362.6"/><path class="q12" d="M144.1 362.6L142.7 366.7"/><path class="q8" d="M142.7 366.7L141.2 370.8"/><path class="q4" d="M141.2 370.8L139.7 375"/><path class="q1" d="M139.7 375L133.8 372.2"/><path class="q0" d="M133.8 372.2L127.9 368.9L121.9 365.1L116 361.2L110.1 357.3L104.2 353.1L98.3 348.9"/><path class="w" d="M168.2 400.6L168.2 366.3L162.3 385.7L156.4 369.4L150.5 367L144.6 365.2L138.6 376.5L132.7 373L126.8 369.4L120.9 365.2L115 361.6L109 357.8L103.1 353.6L97.2 349.4L97.2 349.4Z"/><path class="k" d="M168.2 400.6L168.2 366.3"/><path class="q24" d="M168.2 366.3L167.1 370.2"/><path class="q20" d="M167.1 370.2L165.9 374.1"/><path class="q16" d="M165.9 374.1L164.7 377.9"/><path class="q13" d="M164.7 377.9L163.5 381.8"/><path class="q9" d="M163.5 381.8L162.3 385.7L160.4 380.3"/><path class="q12" d="M160.4 380.3L158.4 374.8"/><path class="q15" d="M158.4 374.8L156.4 369.4"/><path class="q16" d="M156.4 369.4L150.5 367"/><path class="q14" d="M150.5 367L144.6 365.2"/><path class="q11" d="M144.6 365.2L142.6 369"/><path class="q7" d="M142.6 369L140.6 372.7"/><path class="q3" d="M140.6 372.7L138.6 376.5"/><path class="q1" d="M138.6 376.5L132.7 373"/><path class="q0" d="M132.7 373L126.8 369.4L120.9 365.2L115 361.6L109 357.8L103.1 353.6L97.2 349.4"/><path class="w" d="M167.2 401.1L167.2 358.7L161.3 386.9L155.4 374.3L149.4 373.5L143.5 372.1L137.6 377.3L131.7 373.5L125.8 369.9L119.8 365.2L113.9 361.9L108 358.3L102.1 354.2L96.2 349.9L96.2 349.9Z"/><path class="k" d="M167.2 401.1L167.2 358.7"/><path class="q29" d="M167.2 358.7L166.2 363.4"/><path class="q25" d="M166.2 363.4L165.2 368.1"/><path class="q21" d="M165.2 368.1L164.2 372.8"/><path class="q17" d="M164.2 372.8L163.2 377.5"/><path class="q13" d="M163.2 377.5L162.3 382.2"/><path class="q9" d="M162.3 382.2L161.3 386.9"/><path class="q8" d="M161.3 386.9L158.3 380.6"/><path class="q11" d="M158.3 380.6L155.4 374.3"/><path class="q12" d="M155.4 374.3L149.4 373.5"/><path class="q9" d="M149.4 373.5L143.5 372.1"/><path class="q6" d="M143.5 372.1L140.6 374.7"/><path class="q2" d="M140.6 374.7L137.6 377.3"/><path class="q0" d="M137.6 377.3L131.7 373.5L125.8 369.9L119.8 365.2L113.9 361.9L108 358.3L102.1 354.2L96.2 349.9"/><path class="w" d="M166.1 401.7L166.1 368.7L160.2 388.6L154.3 380.5L148.4 378.9L142.5 376L136.5 377.8L130.6 373.9L124.7 370L118.8 365.5L112.9 362.4L106.9 358.8L101 354.7L95.1 350.5L95.1 350.5Z"/><path class="k" d="M166.1 401.7L166.1 368.7"/><path class="q23" d="M166.1 368.7L165 372.7"/><path class="q19" d="M165 372.7L163.8 376.7"/><path class="q15" d="M163.8 376.7L162.6 380.7"/><path class="q11" d="M162.6 380.7L161.4 384.6"/><path class="q7" d="M161.4 384.6L160.2 388.6L154.3 380.5"/><path class="q8" d="M154.3 380.5L148.4 378.9"/><path class="q6" d="M148.4 378.9L142.5 376"/><path class="q4" d="M142.5 376L139.5 376.9"/><path class="q2" d="M139.5 376.9L136.5 377.8"/><path class="q0" d="M136.5 377.8L130.6 373.9L124.7 370L118.8 365.5L112.9 362.4L106.9 358.8L101 354.7L95.1 350.5"/><path class="w" d="M165.1 402.2L165.1 382.6L159.2 390.1L153.2 384L147.3 380.8L141.4 377.4L135.5 378.3L129.6 373.8L123.6 369.7L117.7 366L111.8 362.9L105.9 359.4L100 355.2L94 351L94 351Z"/><path class="k" d="M165.1 402.2L165.1 382.6"/><path class="q13" d="M165.1 382.6L163.1 385.1"/><path class="q9" d="M163.1 385.1L161.1 387.6"/><path class="q6" d="M161.1 387.6L159.2 390.1L153.2 384L147.3 380.8"/><path class="q5" d="M147.3 380.8L141.4 377.4"/><path class="q3" d="M141.4 377.4L135.5 378.3"/><path class="q1" d="M135.5 378.3L129.6 373.8L123.6 369.7"/><path class="q0" d="M123.6 369.7L117.7 366L111.8 362.9L105.9 359.4L100 355.2L94 351"/><path class="w" d="M164 402.7L164 383.1L158.1 390.9L152.2 384.8L146.3 381.3L140.3 377L134.4 378.8L128.5 372.9L122.6 369.5L116.7 366.6L110.7 363.4L104.8 359.9L98.9 355.7L93 351.5L93 351.5Z"/><path class="k" d="M164 402.7L164 383.1"/><path class="q12" d="M164 383.1L162.1 385.7"/><path class="q9" d="M162.1 385.7L160.1 388.3"/><path class="q6" d="M160.1 388.3L158.1 390.9"/><path class="q5" d="M158.1 390.9L152.2 384.8"/><path class="q6" d="M152.2 384.8L146.3 381.3"/><path class="q5" d="M146.3 381.3L140.3 377"/><path class="q4" d="M140.3 377L137.4 377.9"/><path class="q2" d="M137.4 377.9L134.4 378.8"/><path class="q1" d="M134.4 378.8L128.5 372.9"/><path class="q2" d="M128.5 372.9L122.6 369.5"/><path class="q1" d="M122.6 369.5L116.7 366.6"/><path class="q0" d="M116.7 366.6L110.7 363.4L104.8 359.9L98.9 355.7L93 351.5"/><path class="w" d="M163 403.2L163 383.7L157.1 391.5L151.1 385.3L145.2 381.5L139.3 375.6L133.4 379.1L127.5 372.4L121.5 369.9L115.6 367.4L109.7 363.9L103.8 360.4L97.9 356.2L91.9 352L91.9 352Z"/><path class="k" d="M163 403.2L163 383.7"/><path class="q12" d="M163 383.7L161 386.3"/><path class="q9" d="M161 386.3L159 388.9"/><path class="q6" d="M159 388.9L157.1 391.5"/><path class="q5" d="M157.1 391.5L151.1 385.3"/><path class="q6" d="M151.1 385.3L145.2 381.5L139.3 375.6"/><path class="q5" d="M139.3 375.6L136.3 377.3"/><path class="q2" d="M136.3 377.3L133.4 379.1L127.5 372.4L121.5 369.9"/><path class="q1" d="M121.5 369.9L115.6 367.4"/><path class="q0" d="M115.6 367.4L109.7 363.9L103.8 360.4L97.9 356.2L91.9 352"/><path class="w" d="M161.9 403.7L161.9 384.2L156 392L150.1 385.8L144.2 381L138.2 374.5L132.3 378.6L126.4 372.6L120.5 370.4L114.6 368.3L108.6 364.4L102.7 360.9L96.8 356.7L90.9 352.5L90.9 352.5Z"/><path class="k" d="M161.9 403.7L161.9 384.2"/><path class="q12" d="M161.9 384.2L159.9 386.8"/><path class="q9" d="M159.9 386.8L158 389.4"/><path class="q6" d="M158 389.4L156 392"/><path class="q5" d="M156 392L150.1 385.8"/><path class="q6" d="M150.1 385.8L144.2 381"/><path class="q7" d="M144.2 381L138.2 374.5L135.3 376.6"/><path class="q3" d="M135.3 376.6L132.3 378.6"/><path class="q2" d="M132.3 378.6L126.4 372.6L120.5 370.4"/><path class="q0" d="M120.5 370.4L114.6 368.3L108.6 364.4L102.7 360.9L96.8 356.7L90.9 352.5"/><path class="w" d="M160.9 404.2L160.9 384.7L154.9 392.5L149 385.8L143.1 380.3L137.2 374.3L131.3 378L125.3 373.1L119.4 370.9L113.5 369.1L107.6 365.1L101.7 361.4L95.7 357.2L89.8 353L89.8 353Z"/><path class="k" d="M160.9 404.2L160.9 384.7"/><path class="q12" d="M160.9 384.7L158.9 387.3"/><path class="q9" d="M158.9 387.3L156.9 389.9"/><path class="q6" d="M156.9 389.9L154.9 392.5"/><path class="q5" d="M154.9 392.5L149 385.8"/><path class="q7" d="M149 385.8L143.1 380.3"/><path class="q8" d="M143.1 380.3L137.2 374.3"/><path class="q7" d="M137.2 374.3L134.2 376.1"/><path class="q4" d="M134.2 376.1L131.3 378"/><path class="q3" d="M131.3 378L125.3 373.1"/><path class="q2" d="M125.3 373.1L119.4 370.9"/><path class="q0" d="M119.4 370.9L113.5 369.1L107.6 365.1L101.7 361.4L95.7 357.2L89.8 353"/><path class="w" d="M159.8 404.7L159.8 385.2L153.9 393L148 385.3L142 379.9L136.1 372.5L130.2 377.9L124.3 373.6L118.4 371.5L112.4 369.6L106.5 365.7L100.6 361.9L94.7 357.8L88.8 353.5L88.8 353.5Z"/><path class="k" d="M159.8 404.7L159.8 385.2"/><path class="q12" d="M159.8 385.2L157.8 387.8"/><path class="q9" d="M157.8 387.8L155.9 390.4"/><path class="q6" d="M155.9 390.4L153.9 393L148 385.3"/><path class="q8" d="M148 385.3L142 379.9"/><path class="q9" d="M142 379.9L136.1 372.5L133.2 375.2"/><path class="q5" d="M133.2 375.2L130.2 377.9"/><path class="q3" d="M130.2 377.9L124.3 373.6"/><path class="q2" d="M124.3 373.6L118.4 371.5"/><path class="q0" d="M118.4 371.5L112.4 369.6L106.5 365.7L100.6 361.9L94.7 357.8L88.8 353.5"/><path class="w" d="M158.8 405.3L158.8 385.7L152.8 393.1L146.9 385.1L141 377.8L135.1 368.6L129.2 378.4L123.2 374.1L117.3 372.4L111.4 370.1L105.5 366.3L99.6 362.4L93.6 358.3L87.7 354.1L87.7 354.1Z"/><path class="k" d="M158.8 405.3L158.8 385.7"/><path class="q13" d="M158.8 385.7L156.8 388.2"/><path class="q9" d="M156.8 388.2L154.8 390.6"/><path class="q6" d="M154.8 390.6L152.8 393.1L146.9 385.1"/><path class="q9" d="M146.9 385.1L141 377.8"/><path class="q12" d="M141 377.8L135.1 368.6L133.1 371.8"/><path class="q9" d="M133.1 371.8L131.1 375.1"/><path class="q5" d="M131.1 375.1L129.2 378.4"/><path class="q3" d="M129.2 378.4L123.2 374.1"/><path class="q2" d="M123.2 374.1L117.3 372.4"/><path class="q0" d="M117.3 372.4L111.4 370.1L105.5 366.3L99.6 362.4L93.6 358.3L87.7 354.1"/><path class="w" d="M157.7 405.8L157.7 386.2L151.8 392.7L145.9 384.3L139.9 373.6L134 365.4L128.1 378.9L122.2 374.7L116.3 373.6L110.3 370.6L104.4 366.9L98.5 363L92.6 358.8L86.7 354.6L86.7 354.6Z"/><path class="k" d="M157.7 405.8L157.7 386.2"/><path class="q12" d="M157.7 386.2L154.7 389.4"/><path class="q8" d="M154.7 389.4L151.8 392.7"/><path class="q7" d="M151.8 392.7L145.9 384.3"/><path class="q10" d="M145.9 384.3L142.9 378.9"/><path class="q13" d="M142.9 378.9L139.9 373.6"/><path class="q15" d="M139.9 373.6L134 365.4L132.5 368.8"/><path class="q12" d="M132.5 368.8L131.1 372.2"/><path class="q8" d="M131.1 372.2L129.6 375.5"/><path class="q5" d="M129.6 375.5L128.1 378.9"/><path class="q3" d="M128.1 378.9L122.2 374.7"/><path class="q2" d="M122.2 374.7L116.3 373.6"/><path class="q0" d="M116.3 373.6L110.3 370.6L104.4 366.9L98.5 363L92.6 358.8L86.7 354.6"/><path class="w" d="M156.6 406.3L156.6 381.9L150.7 390.6L144.8 380.9L138.9 370.3L133 365L127 379.4L121.1 375.7L115.2 374.8L109.3 371.1L103.4 367.4L97.4 363.5L91.5 359.3L85.6 355.1L85.6 355.1Z"/><path class="k" d="M156.6 406.3L156.6 381.9"/><path class="q16" d="M156.6 381.9L154.7 384.8"/><path class="q13" d="M154.7 384.8L152.7 387.7"/><path class="q9" d="M152.7 387.7L150.7 390.6"/><path class="q10" d="M150.7 390.6L144.8 380.9"/><path class="q13" d="M144.8 380.9L141.8 375.6"/><path class="q16" d="M141.8 375.6L138.9 370.3"/><path class="q17" d="M138.9 370.3L133 365"/><path class="q16" d="M133 365L131.5 368.6"/><path class="q12" d="M131.5 368.6L130 372.2"/><path class="q9" d="M130 372.2L128.5 375.8"/><path class="q5" d="M128.5 375.8L127 379.4"/><path class="q3" d="M127 379.4L121.1 375.7"/><path class="q1" d="M121.1 375.7L115.2 374.8"/><path class="q0" d="M115.2 374.8L109.3 371.1L103.4 367.4L97.4 363.5L91.5 359.3L85.6 355.1"/><path class="w" d="M155.6 406.8L155.6 361.4L149.7 388L143.7 376.7L137.8 370.3L131.9 366.1L126 380.3L120.1 377.2L114.1 375.5L108.2 371.7L102.3 367.9L96.4 364L90.5 359.8L84.5 355.6L84.5 355.6Z"/><path class="k" d="M155.6 406.8L155.6 361.4"/><path class="q32" d="M155.6 361.4L154.6 365.8"/><path class="q28" d="M154.6 365.8L153.6 370.3"/><path class="q24" d="M153.6 370.3L152.6 374.7"/><path class="q20" d="M152.6 374.7L151.6 379.2"/><path class="q16" d="M151.6 379.2L150.7 383.6"/><path class="q12" d="M150.7 383.6L149.7 388"/><path class="q11" d="M149.7 388L146.7 382.4"/><path class="q14" d="M146.7 382.4L143.7 376.7"/><path class="q17" d="M143.7 376.7L137.8 370.3L131.9 366.1"/><path class="q16" d="M131.9 366.1L130.4 369.6"/><path class="q12" d="M130.4 369.6L128.9 373.2"/><path class="q8" d="M128.9 373.2L127.5 376.7"/><path class="q5" d="M127.5 376.7L126 380.3"/><path class="q2" d="M126 380.3L120.1 377.2"/><path class="q1" d="M120.1 377.2L114.1 375.5"/><path class="q0" d="M114.1 375.5L108.2 371.7L102.3 367.9L96.4 364L90.5 359.8L84.5 355.6"/><path class="w" d="M154.5 407.3L154.5 360.3L148.6 385.8L142.7 374.7L136.8 372.3L130.9 368.2L124.9 381.7L119 378.7L113.1 376L107.2 372.3L101.3 368.4L95.3 364.5L89.4 360.3L83.5 356.1L83.5 356.1Z"/><path class="k" d="M154.5 407.3L154.5 360.3"/><path class="q33" d="M154.5 360.3L153.5 364.6"/><path class="q29" d="M153.5 364.6L152.6 368.8"/><path class="q26" d="M152.6 368.8L151.6 373"/><path class="q22" d="M151.6 373L150.6 377.3"/><path class="q18" d="M150.6 377.3L149.6 381.5"/><path class="q14" d="M149.6 381.5L148.6 385.8L145.7 380.3"/><path class="q16" d="M145.7 380.3L142.7 374.7"/><path class="q17" d="M142.7 374.7L136.8 372.3"/><path class="q16" d="M136.8 372.3L130.9 368.2"/><path class="q14" d="M130.9 368.2L129.4 371.6"/><path class="q11" d="M129.4 371.6L127.9 374.9"/><path class="q7" d="M127.9 374.9L126.4 378.3"/><path class="q4" d="M126.4 378.3L124.9 381.7"/><path class="q2" d="M124.9 381.7L119 378.7"/><path class="q0" d="M119 378.7L113.1 376L107.2 372.3L101.3 368.4L95.3 364.5L89.4 360.3L83.5 356.1"/><path class="w" d="M153.5 407.8L153.5 364.1L147.6 383.7L141.6 375.3L135.7 374.5L129.8 371.7L123.9 383L118 379.6L112 376.5L106.1 372.8L100.2 368.9L94.3 365L88.4 360.8L82.4 356.6L82.4 356.6Z"/><path class="k" d="M153.5 407.8L153.5 364.1"/><path class="q30" d="M153.5 364.1L152.3 368.1"/><path class="q27" d="M152.3 368.1L151.1 372"/><path class="q23" d="M151.1 372L149.9 375.9"/><path class="q20" d="M149.9 375.9L148.7 379.8"/><path class="q16" d="M148.7 379.8L147.6 383.7L141.6 375.3L135.7 374.5"/><path class="q14" d="M135.7 374.5L129.8 371.7"/><path class="q12" d="M129.8 371.7L127.8 375.5"/><path class="q8" d="M127.8 375.5L125.8 379.2"/><path class="q3" d="M125.8 379.2L123.9 383"/><path class="q1" d="M123.9 383L118 379.6"/><path class="q0" d="M118 379.6L112 376.5L106.1 372.8L100.2 368.9L94.3 365L88.4 360.8L82.4 356.6"/><path class="w" d="M152.4 408.3L152.4 355.4L146.5 384.2L140.6 378.5L134.7 377.5L128.7 375.6L122.8 383.9L116.9 380.2L111 376.9L105.1 373.4L99.1 369.4L93.2 365.4L87.3 361.4L81.4 357.1L81.4 357.1Z"/><path class="k" d="M152.4 408.3L152.4 355.4"/><path class="q37" d="M152.4 355.4L151.4 360.2"/><path class="q33" d="M151.4 360.2L150.4 365"/><path class="q29" d="M150.4 365L149.5 369.8"/><path class="q25" d="M149.5 369.8L148.5 374.6"/><path class="q21" d="M148.5 374.6L147.5 379.4"/><path class="q17" d="M147.5 379.4L146.5 384.2"/><path class="q15" d="M146.5 384.2L140.6 378.5"/><path class="q14" d="M140.6 378.5L134.7 377.5"/><path class="q12" d="M134.7 377.5L128.7 375.6"/><path class="q9" d="M128.7 375.6L126.8 378.4"/><path class="q6" d="M126.8 378.4L124.8 381.2"/><path class="q3" d="M124.8 381.2L122.8 383.9"/><path class="q1" d="M122.8 383.9L116.9 380.2"/><path class="q0" d="M116.9 380.2L111 376.9L105.1 373.4L99.1 369.4L93.2 365.4L87.3 361.4L81.4 357.1"/><path class="w" d="M151.4 408.9L151.4 373L145.4 389.3L139.5 384.1L133.6 381.6L127.7 378.5L121.8 384.4L115.8 380.6L109.9 377.1L104 373.9L98.1 369.9L92.2 365.9L86.2 361.9L80.3 357.7L80.3 357.7Z"/><path class="k" d="M151.4 408.9L151.4 373"/><path class="q25" d="M151.4 373L149.9 377.1"/><path class="q21" d="M149.9 377.1L148.4 381.1"/><path class="q17" d="M148.4 381.1L146.9 385.2"/><path class="q13" d="M146.9 385.2L145.4 389.3"/><path class="q11" d="M145.4 389.3L139.5 384.1L133.6 381.6"/><path class="q10" d="M133.6 381.6L127.7 378.5"/><path class="q7" d="M127.7 378.5L124.7 381.5"/><path class="q3" d="M124.7 381.5L121.8 384.4"/><path class="q1" d="M121.8 384.4L115.8 380.6"/><path class="q0" d="M115.8 380.6L109.9 377.1L104 373.9L98.1 369.9L92.2 365.9L86.2 361.9L80.3 357.7"/><path class="w" d="M150.3 409.4L150.3 389.8L144.4 394.4L138.5 388.9L132.6 385L126.6 379.7L120.7 384.5L114.8 380.6L108.9 377.2L103 374.4L97 370.5L91.1 366.4L85.2 362.4L79.3 358.2L79.3 358.2Z"/><path class="k" d="M150.3 409.4L150.3 389.8"/><path class="q12" d="M150.3 389.8L147.4 392.1"/><path class="q9" d="M147.4 392.1L144.4 394.4"/><path class="q8" d="M144.4 394.4L138.5 388.9L132.6 385L126.6 379.7"/><path class="q7" d="M126.6 379.7L123.7 382.1"/><path class="q3" d="M123.7 382.1L120.7 384.5"/><path class="q1" d="M120.7 384.5L114.8 380.6L108.9 377.2"/><path class="q0" d="M108.9 377.2L103 374.4L97 370.5L91.1 366.4L85.2 362.4L79.3 358.2"/><path class="w" d="M149.3 409.9L149.3 390.3L143.3 396.5L137.4 390.3L131.5 386.3L125.6 379.9L119.7 384.1L113.7 380.5L107.8 377.5L101.9 374.9L96 371L90.1 367L84.1 362.9L78.2 358.7L78.2 358.7Z"/><path class="k" d="M149.3 409.9L149.3 390.3"/><path class="q12" d="M149.3 390.3L146.3 393.4"/><path class="q8" d="M146.3 393.4L143.3 396.5"/><path class="q7" d="M143.3 396.5L137.4 390.3L131.5 386.3"/><path class="q8" d="M131.5 386.3L125.6 379.9"/><path class="q7" d="M125.6 379.9L122.6 382"/><path class="q4" d="M122.6 382L119.7 384.1"/><path class="q2" d="M119.7 384.1L113.7 380.5"/><path class="q1" d="M113.7 380.5L107.8 377.5"/><path class="q0" d="M107.8 377.5L101.9 374.9L96 371L90.1 367L84.1 362.9L78.2 358.7"/><path class="w" d="M148.2 410.4L148.2 390.8L142.3 398L136.4 389.8L130.4 386.7L124.5 379.4L118.6 383.9L112.7 380.8L106.8 378L100.8 375.4L94.9 371.5L89 367.6L83.1 363.4L77.2 359.2L77.2 359.2Z"/><path class="k" d="M148.2 410.4L148.2 390.8"/><path class="q13" d="M148.2 390.8L146.2 393.2"/><path class="q10" d="M146.2 393.2L144.3 395.6"/><path class="q7" d="M144.3 395.6L142.3 398L136.4 389.8"/><path class="q8" d="M136.4 389.8L130.4 386.7L124.5 379.4L121.6 381.6"/><path class="q4" d="M121.6 381.6L118.6 383.9"/><path class="q2" d="M118.6 383.9L112.7 380.8"/><path class="q1" d="M112.7 380.8L106.8 378"/><path class="q0" d="M106.8 378L100.8 375.4L94.9 371.5L89 367.6L83.1 363.4L77.2 359.2"/><path class="w" d="M147.1 410.9L147.1 391.4L141.2 399.6L135.3 389.2L129.4 386.9L123.5 378.7L117.5 384.2L111.6 381.2L105.7 378.5L99.8 376L93.9 372L87.9 368.1L82 363.9L76.1 359.7L76.1 359.7Z"/><path class="k" d="M147.1 410.9L147.1 391.4"/><path class="q12" d="M147.1 391.4L145.2 394.1"/><path class="q9" d="M145.2 394.1L143.2 396.8"/><path class="q6" d="M143.2 396.8L141.2 399.6"/><path class="q5" d="M141.2 399.6L138.3 394.4"/><path class="q8" d="M138.3 394.4L135.3 389.2L129.4 386.9"/><path class="q9" d="M129.4 386.9L123.5 378.7L120.5 381.4"/><path class="q5" d="M120.5 381.4L117.5 384.2"/><path class="q2" d="M117.5 384.2L111.6 381.2"/><path class="q1" d="M111.6 381.2L105.7 378.5"/><path class="q0" d="M105.7 378.5L99.8 376L93.9 372L87.9 368.1L82 363.9L76.1 359.7"/><path class="w" d="M146.1 411.4L146.1 391.9L140.2 400.1L134.3 389L128.3 387L122.4 378.5L116.5 384.7L110.6 381.8L104.7 379.1L98.7 376.5L92.8 372.5L86.9 368.6L81 364.4L75.1 360.2L75.1 360.2Z"/><path class="k" d="M146.1 411.4L146.1 391.9"/><path class="q12" d="M146.1 391.9L144.1 394.6"/><path class="q9" d="M144.1 394.6L142.1 397.3"/><path class="q6" d="M142.1 397.3L140.2 400.1L137.2 394.6"/><path class="q8" d="M137.2 394.6L134.3 389"/><path class="q9" d="M134.3 389L128.3 387L122.4 378.5L119.5 381.6"/><path class="q5" d="M119.5 381.6L116.5 384.7"/><path class="q2" d="M116.5 384.7L110.6 381.8"/><path class="q1" d="M110.6 381.8L104.7 379.1"/><path class="q0" d="M104.7 379.1L98.7 376.5L92.8 372.5L86.9 368.6L81 364.4L75.1 360.2"/><path class="w" d="M145 411.9L145 391.3L139.1 399.5L133.2 389.5L127.3 387.3L121.4 379L115.4 385.2L109.5 382.5L103.6 380L97.7 377L91.8 373L85.8 369.1L79.9 365L74 360.7L74 360.7Z"/><path class="k" d="M145 411.9L145 391.3"/><path class="q13" d="M145 391.3L143.1 394"/><path class="q10" d="M143.1 394L141.1 396.8"/><path class="q7" d="M141.1 396.8L139.1 399.5"/><path class="q6" d="M139.1 399.5L136.2 394.5"/><path class="q8" d="M136.2 394.5L133.2 389.5"/><path class="q9" d="M133.2 389.5L127.3 387.3"/><path class="q10" d="M127.3 387.3L121.4 379"/><path class="q9" d="M121.4 379L118.4 382.1"/><path class="q5" d="M118.4 382.1L115.4 385.2"/><path class="q2" d="M115.4 385.2L109.5 382.5"/><path class="q1" d="M109.5 382.5L103.6 380"/><path class="q0" d="M103.6 380L97.7 377L91.8 373L85.8 369.1L79.9 365L74 360.7"/><path class="w" d="M144 412.5L144 386.1L138.1 399.1L132.1 390L126.2 387.8L120.3 380.1L114.4 385.8L108.5 383.4L102.5 380.9L96.6 377.5L90.7 373.5L84.8 369.6L78.9 365.5L72.9 361.3L72.9 361.3Z"/><path class="k" d="M144 412.5L144 386.1"/><path class="q18" d="M144 386.1L142.5 389.3"/><path class="q14" d="M142.5 389.3L141 392.6"/><path class="q11" d="M141 392.6L139.5 395.8"/><path class="q8" d="M139.5 395.8L138.1 399.1L132.1 390"/><path class="q9" d="M132.1 390L126.2 387.8L120.3 380.1L117.3 383"/><path class="q5" d="M117.3 383L114.4 385.8"/><path class="q2" d="M114.4 385.8L108.5 383.4"/><path class="q1" d="M108.5 383.4L102.5 380.9"/><path class="q0" d="M102.5 380.9L96.6 377.5L90.7 373.5L84.8 369.6L78.9 365.5L72.9 361.3"/><path class="w" d="M142.9 413L142.9 383.2L137 399.4L131.1 390.5L125.2 388.3L119.2 382.6L113.3 386.8L107.4 384.2L101.5 381.6L95.6 378L89.6 374.1L83.7 370.1L77.8 366L71.9 361.8L71.9 361.8Z"/><path class="k" d="M142.9 413L142.9 383.2"/><path class="q20" d="M142.9 383.2L141.4 387.2"/><path class="q16" d="M141.4 387.2L140 391.3"/><path class="q12" d="M140 391.3L138.5 395.3"/><path class="q8" d="M138.5 395.3L137 399.4L131.1 390.5"/><path class="q9" d="M131.1 390.5L125.2 388.3L119.2 382.6"/><path class="q7" d="M119.2 382.6L116.3 384.7"/><path class="q4" d="M116.3 384.7L113.3 386.8"/><path class="q2" d="M113.3 386.8L107.4 384.2"/><path class="q0" d="M107.4 384.2L101.5 381.6L95.6 378L89.6 374.1L83.7 370.1L77.8 366L71.9 361.8"/><path class="w" d="M141.9 413.5L141.9 383.7L136 399.9L130 391L124.1 388.8L118.2 385.5L112.3 387.8L106.4 384.6L100.4 382L94.5 378.5L88.6 374.5L82.7 370.7L76.8 366.5L70.8 362.3L70.8 362.3Z"/><path class="k" d="M141.9 413.5L141.9 383.7"/><path class="q20" d="M141.9 383.7L140.4 387.7"/><path class="q16" d="M140.4 387.7L138.9 391.8"/><path class="q12" d="M138.9 391.8L137.4 395.8"/><path class="q8" d="M137.4 395.8L136 399.9L130 391"/><path class="q9" d="M130 391L124.1 388.8"/><path class="q8" d="M124.1 388.8L118.2 385.5"/><path class="q6" d="M118.2 385.5L115.2 386.7"/><path class="q3" d="M115.2 386.7L112.3 387.8"/><path class="q2" d="M112.3 387.8L106.4 384.6"/><path class="q1" d="M106.4 384.6L100.4 382"/><path class="q0" d="M100.4 382L94.5 378.5L88.6 374.5L82.7 370.7L76.8 366.5L70.8 362.3"/><path class="w" d="M140.8 414L140.8 384.2L134.9 400.8L129 391.8L123.1 389.2L117.1 386.7L111.2 388.6L105.3 384.2L99.4 381.9L93.5 378.8L87.5 375L81.6 371.2L75.7 367L69.8 362.8L69.8 362.8Z"/><path class="k" d="M140.8 414L140.8 384.2"/><path class="q20" d="M140.8 384.2L139.3 388.3"/><path class="q16" d="M139.3 388.3L137.9 392.5"/><path class="q12" d="M137.9 392.5L136.4 396.6"/><path class="q8" d="M136.4 396.6L134.9 400.8L129 391.8"/><path class="q9" d="M129 391.8L123.1 389.2"/><path class="q7" d="M123.1 389.2L117.1 386.7"/><path class="q5" d="M117.1 386.7L114.2 387.6"/><path class="q3" d="M114.2 387.6L111.2 388.6"/><path class="q2" d="M111.2 388.6L105.3 384.2"/><path class="q1" d="M105.3 384.2L99.4 381.9"/><path class="q0" d="M99.4 381.9L93.5 378.8L87.5 375L81.6 371.2L75.7 367L69.8 362.8"/><path class="w" d="M139.8 414.5L139.8 388.1L133.8 401.8L127.9 393.3L122 389.4L116.1 386.1L110.2 389L104.2 383.7L98.3 381.6L92.4 379.2L86.5 375.4L80.6 371.7L74.6 367.5L68.7 363.3L68.7 363.3Z"/><path class="k" d="M139.8 414.5L139.8 388.1"/><path class="q18" d="M139.8 388.1L138.3 391.6"/><path class="q14" d="M138.3 391.6L136.8 395"/><path class="q11" d="M136.8 395L135.3 398.4"/><path class="q7" d="M135.3 398.4L133.8 401.8L127.9 393.3"/><path class="q8" d="M127.9 393.3L122 389.4L116.1 386.1"/><path class="q6" d="M116.1 386.1L113.1 387.6"/><path class="q3" d="M113.1 387.6L110.2 389"/><path class="q2" d="M110.2 389L104.2 383.7L98.3 381.6"/><path class="q0" d="M98.3 381.6L92.4 379.2L86.5 375.4L80.6 371.7L74.6 367.5L68.7 363.3"/><path class="w" d="M138.7 415L138.7 394.3L132.8 402.4L126.9 395L120.9 389.7L115 385.6L109.1 389.1L103.2 383.6L97.3 381.7L91.3 379.6L85.4 375.8L79.5 372.2L73.6 368L67.7 363.8L67.7 363.8Z"/><path class="k" d="M138.7 415L138.7 394.3"/><path class="q13" d="M138.7 394.3L136.7 397"/><path class="q10" d="M136.7 397L134.8 399.7"/><path class="q7" d="M134.8 399.7L132.8 402.4"/><path class="q6" d="M132.8 402.4L126.9 395"/><path class="q8" d="M126.9 395L120.9 389.7L115 385.6"/><path class="q7" d="M115 385.6L112.1 387.3"/><path class="q4" d="M112.1 387.3L109.1 389.1"/><path class="q3" d="M109.1 389.1L103.2 383.6"/><path class="q2" d="M103.2 383.6L97.3 381.7"/><path class="q0" d="M97.3 381.7L91.3 379.6L85.4 375.8L79.5 372.2L73.6 368L67.7 363.8"/><path class="w" d="M137.7 415.5L137.7 396L131.7 402.3L125.8 396.2L119.9 390.1L114 385.3L108.1 388.4L102.1 384.1L96.2 382.3L90.3 380.1L84.4 376.3L78.5 372.7L72.5 368.6L66.6 364.3L66.6 364.3Z"/><path class="k" d="M137.7 415.5L137.7 396"/><path class="q12" d="M137.7 396L134.7 399.2"/><path class="q8" d="M134.7 399.2L131.7 402.3"/><path class="q6" d="M131.7 402.3L125.8 396.2"/><path class="q8" d="M125.8 396.2L119.9 390.1"/><path class="q9" d="M119.9 390.1L114 385.3"/><path class="q8" d="M114 385.3L111 386.9"/><path class="q5" d="M111 386.9L108.1 388.4"/><path class="q3" d="M108.1 388.4L102.1 384.1"/><path class="q2" d="M102.1 384.1L96.2 382.3"/><path class="q0" d="M96.2 382.3L90.3 380.1L84.4 376.3L78.5 372.7L72.5 368.6L66.6 364.3"/><path class="w" d="M136.6 416.1L136.6 396.5L130.7 402.5L124.8 396.8L118.8 390.2L112.9 381.3L107 387.8L101.1 384.9L95.2 383.2L89.2 380.7L83.3 376.9L77.4 373.2L71.5 369.1L65.6 364.9L65.6 364.9Z"/><path class="k" d="M136.6 416.1L136.6 396.5"/><path class="q12" d="M136.6 396.5L133.6 399.5"/><path class="q8" d="M133.6 399.5L130.7 402.5"/><path class="q7" d="M130.7 402.5L124.8 396.8"/><path class="q8" d="M124.8 396.8L118.8 390.2"/><path class="q11" d="M118.8 390.2L112.9 381.3"/><path class="q10" d="M112.9 381.3L110 384.6"/><path class="q6" d="M110 384.6L107 387.8"/><path class="q4" d="M107 387.8L101.1 384.9"/><path class="q2" d="M101.1 384.9L95.2 383.2"/><path class="q0" d="M95.2 383.2L89.2 380.7L83.3 376.9L77.4 373.2L71.5 369.1L65.6 364.9"/><path class="w" d="M135.5 416.6L135.5 397L129.6 402.9L123.7 397.3L117.8 386.9L111.9 373.3L105.9 387.8L100 386.4L94.1 384.5L88.2 381.4L82.3 377.4L76.3 373.7L70.4 369.6L64.5 365.4L64.5 365.4Z"/><path class="k" d="M135.5 416.6L135.5 397"/><path class="q12" d="M135.5 397L132.6 400"/><path class="q8" d="M132.6 400L129.6 402.9"/><path class="q7" d="M129.6 402.9L123.7 397.3"/><path class="q8" d="M123.7 397.3L120.7 392.1"/><path class="q11" d="M120.7 392.1L117.8 386.9"/><path class="q14" d="M117.8 386.9L114.8 380.1"/><path class="q18" d="M114.8 380.1L111.9 373.3L110.4 376.9"/><path class="q14" d="M110.4 376.9L108.9 380.6"/><path class="q10" d="M108.9 380.6L107.4 384.2"/><path class="q6" d="M107.4 384.2L105.9 387.8"/><path class="q3" d="M105.9 387.8L100 386.4"/><path class="q1" d="M100 386.4L94.1 384.5"/><path class="q0" d="M94.1 384.5L88.2 381.4L82.3 377.4L76.3 373.7L70.4 369.6L64.5 365.4"/><path class="w" d="M134.5 417.1L134.5 397.5L128.6 403.5L122.6 395.3L116.7 380.2L110.8 366.7L104.9 388.7L99 388.2L93 385.7L87.1 382.1L81.2 378L75.3 374.3L69.4 370.1L63.4 365.9L63.4 365.9Z"/><path class="k" d="M134.5 417.1L134.5 397.5"/><path class="q12" d="M134.5 397.5L131.5 400.5"/><path class="q8" d="M131.5 400.5L128.6 403.5L122.6 395.3"/><path class="q11" d="M122.6 395.3L119.7 387.7"/><path class="q16" d="M119.7 387.7L116.7 380.2"/><path class="q19" d="M116.7 380.2L113.8 373.4"/><path class="q23" d="M113.8 373.4L110.8 366.7L109.6 371.1"/><path class="q19" d="M109.6 371.1L108.4 375.5"/><path class="q15" d="M108.4 375.5L107.3 379.9"/><path class="q10" d="M107.3 379.9L106.1 384.3"/><path class="q6" d="M106.1 384.3L104.9 388.7"/><path class="q3" d="M104.9 388.7L99 388.2"/><path class="q0" d="M99 388.2L93 385.7L87.1 382.1L81.2 378L75.3 374.3L69.4 370.1L63.4 365.9"/><path class="w" d="M133.4 417.6L133.4 398L127.5 402.6L121.6 387.1L115.7 374.7L109.8 365.7L103.8 390.3L97.9 389.4L92 386.4L86.1 382.6L80.2 378.6L74.2 374.8L68.3 370.6L62.4 366.4L62.4 366.4Z"/><path class="k" d="M133.4 417.6L133.4 398"/><path class="q12" d="M133.4 398L130.5 400.3"/><path class="q9" d="M130.5 400.3L127.5 402.6L125.5 397.5"/><path class="q12" d="M125.5 397.5L123.6 392.3"/><path class="q15" d="M123.6 392.3L121.6 387.1"/><path class="q18" d="M121.6 387.1L118.6 380.9"/><path class="q21" d="M118.6 380.9L115.7 374.7"/><path class="q24" d="M115.7 374.7L109.8 365.7L108.8 369.8"/><path class="q20" d="M108.8 369.8L107.8 373.9"/><path class="q17" d="M107.8 373.9L106.8 378"/><path class="q13" d="M106.8 378L105.8 382.1"/><path class="q9" d="M105.8 382.1L104.8 386.2"/><path class="q5" d="M104.8 386.2L103.8 390.3"/><path class="q2" d="M103.8 390.3L97.9 389.4"/><path class="q0" d="M97.9 389.4L92 386.4L86.1 382.6L80.2 378.6L74.2 374.8L68.3 370.6L62.4 366.4"/><path class="w" d="M132.4 418.1L132.4 382.3L126.5 398.5L120.5 377.7L114.6 373.5L108.7 370.8L102.8 392.3L96.9 390L90.9 386.9L85 383.2L79.1 379.1L73.2 375.3L67.3 371.1L61.3 366.9L61.3 366.9Z"/><path class="k" d="M132.4 418.1L132.4 382.3"/><path class="q25" d="M132.4 382.3L130.9 386.3"/><path class="q21" d="M130.9 386.3L129.4 390.4"/><path class="q17" d="M129.4 390.4L127.9 394.5"/><path class="q13" d="M127.9 394.5L126.5 398.5"/><path class="q12" d="M126.5 398.5L125 393.3"/><path class="q16" d="M125 393.3L123.5 388.1"/><path class="q19" d="M123.5 388.1L122 382.9"/><path class="q22" d="M122 382.9L120.5 377.7"/><path class="q23" d="M120.5 377.7L114.6 373.5L108.7 370.8"/><path class="q20" d="M108.7 370.8L107.5 375.1"/><path class="q16" d="M107.5 375.1L106.3 379.4"/><path class="q12" d="M106.3 379.4L105.1 383.7"/><path class="q8" d="M105.1 383.7L104 388"/><path class="q4" d="M104 388L102.8 392.3"/><path class="q1" d="M102.8 392.3L96.9 390"/><path class="q0" d="M96.9 390L90.9 386.9L85 383.2L79.1 379.1L73.2 375.3L67.3 371.1L61.3 366.9"/><path class="w" d="M131.3 418.6L131.3 362.1L125.4 394.9L119.5 378.5L113.6 376.2L107.6 379.9L101.7 393.9L95.8 390.5L89.9 387.4L84 383.7L78 379.6L72.1 375.8L66.2 371.6L60.3 367.4L60.3 367.4Z"/><path class="k" d="M131.3 418.6L131.3 362.1"/><path class="q40" d="M131.3 362.1L130.5 366.8"/><path class="q36" d="M130.5 366.8L129.6 371.5"/><path class="q32" d="M129.6 371.5L128.8 376.2"/><path class="q28" d="M128.8 376.2L127.9 380.8"/><path class="q24" d="M127.9 380.8L127.1 385.5"/><path class="q20" d="M127.1 385.5L126.2 390.2"/><path class="q16" d="M126.2 390.2L125.4 394.9L123.4 389.4"/><path class="q19" d="M123.4 389.4L121.5 383.9"/><path class="q22" d="M121.5 383.9L119.5 378.5"/><path class="q23" d="M119.5 378.5L113.6 376.2"/><path class="q20" d="M113.6 376.2L110.6 378"/><path class="q17" d="M110.6 378L107.6 379.9"/><path class="q14" d="M107.6 379.9L106.2 383.4"/><path class="q10" d="M106.2 383.4L104.7 386.9"/><path class="q7" d="M104.7 386.9L103.2 390.4"/><path class="q3" d="M103.2 390.4L101.7 393.9"/><path class="q1" d="M101.7 393.9L95.8 390.5"/><path class="q0" d="M95.8 390.5L89.9 387.4L84 383.7L78 379.6L72.1 375.8L66.2 371.6L60.3 367.4"/><path class="w" d="M130.3 419.1L130.3 371.1L124.3 397.6L118.4 389.5L112.5 384.3L106.6 387.4L100.7 394.5L94.7 390.7L88.8 387.8L82.9 384.2L77 380.1L71.1 376.3L65.1 372.2L59.2 367.9L59.2 367.9Z"/><path class="k" d="M130.3 419.1L130.3 371.1"/><path class="q33" d="M130.3 371.1L129.3 375.6"/><path class="q30" d="M129.3 375.6L128.3 380"/><path class="q26" d="M128.3 380L127.3 384.4"/><path class="q22" d="M127.3 384.4L126.3 388.8"/><path class="q18" d="M126.3 388.8L125.3 393.2"/><path class="q14" d="M125.3 393.2L124.3 397.6L118.4 389.5"/><path class="q16" d="M118.4 389.5L112.5 384.3"/><path class="q15" d="M112.5 384.3L109.5 385.9"/><path class="q12" d="M109.5 385.9L106.6 387.4"/><path class="q9" d="M106.6 387.4L104.6 389.8"/><path class="q6" d="M104.6 389.8L102.6 392.2"/><path class="q3" d="M102.6 392.2L100.7 394.5"/><path class="q1" d="M100.7 394.5L94.7 390.7"/><path class="q0" d="M94.7 390.7L88.8 387.8L82.9 384.2L77 380.1L71.1 376.3L65.1 372.2L59.2 367.9"/><path class="w" d="M129.2 419.6L129.2 397.5L123.3 403.9L117.4 398.9L111.5 393.6L105.5 390L99.6 394.3L93.7 390.4L87.8 387.8L81.9 384.7L75.9 380.6L70 376.8L64.1 372.7L58.2 368.4L58.2 368.4Z"/><path class="k" d="M129.2 419.6L129.2 397.5"/><path class="q14" d="M129.2 397.5L126.3 400.7"/><path class="q10" d="M126.3 400.7L123.3 403.9"/><path class="q8" d="M123.3 403.9L117.4 398.9"/><path class="q9" d="M117.4 398.9L111.5 393.6L105.5 390"/><path class="q7" d="M105.5 390L102.6 392.1"/><path class="q3" d="M102.6 392.1L99.6 394.3"/><path class="q2" d="M99.6 394.3L93.7 390.4"/><path class="q1" d="M93.7 390.4L87.8 387.8"/><path class="q0" d="M87.8 387.8L81.9 384.7L75.9 380.6L70 376.8L64.1 372.7L58.2 368.4"/><path class="w" d="M128.2 420.2L128.2 403.2L122.2 407.1L116.3 401.3L110.4 397.6L104.5 390.5L98.6 393.9L92.6 389.8L86.7 387.6L80.8 385.2L74.9 381.2L69 377.3L63 373.2L57.1 369L57.1 369Z"/><path class="k" d="M128.2 420.2L128.2 403.2"/><path class="q10" d="M128.2 403.2L125.2 405.1"/><path class="q7" d="M125.2 405.1L122.2 407.1"/><path class="q6" d="M122.2 407.1L116.3 401.3"/><path class="q7" d="M116.3 401.3L110.4 397.6L104.5 390.5L101.5 392.2"/><path class="q4" d="M101.5 392.2L98.6 393.9"/><path class="q2" d="M98.6 393.9L92.6 389.8L86.7 387.6"/><path class="q0" d="M86.7 387.6L80.8 385.2L74.9 381.2L69 377.3L63 373.2L57.1 369"/><path class="w" d="M127.1 420.7L127.1 403.7L121.2 407L115.3 400.8L109.3 397L103.4 391L97.5 394L91.6 389.7L85.7 387.8L79.7 385.7L73.8 381.7L67.9 377.9L62 373.7L56.1 369.5L56.1 369.5Z"/><path class="k" d="M127.1 420.7L127.1 403.7"/><path class="q11" d="M127.1 403.7L124.1 405.4"/><path class="q8" d="M124.1 405.4L121.2 407"/><path class="q7" d="M121.2 407L115.3 400.8L109.3 397"/><path class="q8" d="M109.3 397L103.4 391"/><path class="q7" d="M103.4 391L100.5 392.5"/><path class="q4" d="M100.5 392.5L97.5 394"/><path class="q3" d="M97.5 394L91.6 389.7"/><path class="q2" d="M91.6 389.7L85.7 387.8"/><path class="q0" d="M85.7 387.8L79.7 385.7L73.8 381.7L67.9 377.9L62 373.7L56.1 369.5"/><path class="w" d="M126 421.2L126 404.2L120.1 407.1L114.2 400.8L108.3 396.6L102.4 391.5L96.4 394.5L90.5 390.2L84.6 388.3L78.7 386.2L72.8 382.2L66.8 378.4L60.9 374.2L55 370L55 370Z"/><path class="k" d="M126 421.2L126 404.2"/><path class="q11" d="M126 404.2L123.1 405.6"/><path class="q8" d="M123.1 405.6L120.1 407.1"/><path class="q7" d="M120.1 407.1L114.2 400.8"/><path class="q8" d="M114.2 400.8L108.3 396.6L102.4 391.5"/><path class="q7" d="M102.4 391.5L99.4 393"/><path class="q4" d="M99.4 393L96.4 394.5"/><path class="q3" d="M96.4 394.5L90.5 390.2"/><path class="q2" d="M90.5 390.2L84.6 388.3"/><path class="q0" d="M84.6 388.3L78.7 386.2L72.8 382.2L66.8 378.4L60.9 374.2L55 370"/><path class="w" d="M125 421.7L125 404.7L119.1 407.5L113.2 401.3L107.2 397L101.3 392L95.4 395L89.5 390.7L83.6 388.8L77.6 386.8L71.7 382.7L65.8 378.9L59.9 374.7L54 370.5L54 370.5Z"/><path class="k" d="M125 421.7L125 404.7"/><path class="q11" d="M125 404.7L122 406.1"/><path class="q8" d="M122 406.1L119.1 407.5"/><path class="q7" d="M119.1 407.5L113.2 401.3"/><path class="q8" d="M113.2 401.3L107.2 397L101.3 392"/><path class="q7" d="M101.3 392L98.4 393.5"/><path class="q4" d="M98.4 393.5L95.4 395"/><path class="q3" d="M95.4 395L89.5 390.7"/><path class="q2" d="M89.5 390.7L83.6 388.8"/><path class="q0" d="M83.6 388.8L77.6 386.8L71.7 382.7L65.8 378.9L59.9 374.7L54 370.5"/><path class="w" d="M123.9 422.2L123.9 405.2L118 408L112.1 401.8L106.2 397.5L100.3 392.5L94.3 395.5L88.4 391.2L82.5 389.3L76.6 387.3L70.7 383.2L64.7 379.4L58.8 375.2L52.9 371L52.9 371Z"/><path class="k" d="M123.9 422.2L123.9 405.2"/><path class="q11" d="M123.9 405.2L121 406.6"/><path class="q8" d="M121 406.6L118 408"/><path class="q7" d="M118 408L112.1 401.8"/><path class="q8" d="M112.1 401.8L106.2 397.5L100.3 392.5"/><path class="q7" d="M100.3 392.5L97.3 394"/><path class="q4" d="M97.3 394L94.3 395.5"/><path class="q3" d="M94.3 395.5L88.4 391.2"/><path class="q2" d="M88.4 391.2L82.5 389.3"/><path class="q0" d="M82.5 389.3L76.6 387.3L70.7 383.2L64.7 379.4L58.8 375.2L52.9 371"/><path class="w0" d="M122.9 422.7L122.9 405.7L117 408.6L111 402.3L105.1 398.1L99.2 393L93.3 396L87.4 391.7L81.4 389.8L75.5 387.8L69.6 383.7L63.7 379.9L57.8 375.7L51.8 371.5L51.8 371.5Z"/><path class="k" d="M122.9 422.7L122.9 405.7"/><path class="q11" d="M122.9 405.7L119.9 407.1"/><path class="q8" d="M119.9 407.1L117 408.6"/><path class="q7" d="M117 408.6L111 402.3"/><path class="q8" d="M111 402.3L105.1 398.1L99.2 393"/><path class="q7" d="M99.2 393L96.2 394.5"/><path class="q4" d="M96.2 394.5L93.3 396"/><path class="q3" d="M93.3 396L87.4 391.7"/><path class="q2" d="M87.4 391.7L81.4 389.8"/><path class="q0" d="M81.4 389.8L75.5 387.8L69.6 383.7L63.7 379.9L57.8 375.7L51.8 371.5"/></g>
<path d="M40 299.2L40 363L128.8 427L234.3 375.6" stroke="#555" stroke-width="0.8" fill="none"/>
<path d="M128.8 427L130.8 428.5M149.9 416.7L151.9 418.2M171 406.4L173 407.9M192.1 396.2L194.1 397.6M213.2 385.9L215.2 387.3M234.3 375.6L236.3 377.1M128.8 427L126.6 428.1M99.2 405.7L97 406.8M69.6 384.3L67.4 385.4M40 363L37.8 364.1M40 363L37.8 364.1M40 341.8L37.8 342.8M40 320.5L37.8 321.6M40 299.2L37.8 300.3" stroke="#555" stroke-width="0.7" fill="none"/>
<text x="132.9" y="436.3" font-size="6.2" text-anchor="middle" fill="#404040" >0</text>
<text x="158.1" y="426.4" font-size="6.2" text-anchor="middle" fill="#404040" >100</text>
<text x="179.2" y="416.1" font-size="6.2" text-anchor="middle" fill="#404040" >200</text>
<text x="200.3" y="405.8" font-size="6.2" text-anchor="middle" fill="#404040" >300</text>
<text x="221.4" y="395.5" font-size="6.2" text-anchor="middle" fill="#404040" >400</text>
<text x="242.5" y="385.6" font-size="6.2" text-anchor="middle" fill="#404040" >500</text>
<text x="120.3" y="437" font-size="6.2" text-anchor="middle" fill="#404040" >0</text>
<text x="91.2" y="414.9" font-size="6.2" text-anchor="middle" fill="#404040" >5</text>
<text x="61.1" y="394.9" font-size="6.2" text-anchor="middle" fill="#404040" >10</text>
<text x="32.8" y="373" font-size="6.2" text-anchor="middle" fill="#404040" >15</text>
<text x="35.5" y="364.2" font-size="6.2" text-anchor="end" fill="#404040" >0</text>
<text x="35.5" y="342.9" font-size="6.2" text-anchor="end" fill="#404040" >5</text>
<text x="35.5" y="321.7" font-size="6.2" text-anchor="end" fill="#404040" >10</text>
<text x="35.5" y="300.4" font-size="6.2" text-anchor="end" fill="#404040" >15</text>
<text x="179.8" y="434.4" font-size="6.7" text-anchor="middle" fill="#404040" >time</text>
<text x="75" y="431.3" font-size="6.7" text-anchor="middle" fill="#404040" >drop size</text>
<text transform="translate(23.7 332) rotate(-90)" font-size="6.7" text-anchor="middle" fill="#404040">Count</text>
<text x="25" y="288.5" font-size="6.2" fill="#404040">×10<tspan dy="-2.3" font-size="4.4">4</tspan></text>
<text x="5.6" y="226" font-size="11" font-weight="bold" fill="#111" font-family="Liberation Serif, serif">(a)</text>
<text x="263.5" y="230.7" font-size="11" font-weight="bold" fill="#111" font-family="Liberation Serif, serif">(b)</text>
<text x="5.8" y="456.5" font-size="11" font-weight="bold" fill="#111" font-family="Liberation Serif, serif">(c)</text>
<text x="263.5" y="457.2" font-size="11" font-weight="bold" fill="#111" font-family="Liberation Serif, serif">(d)</text></g></svg></body></html>
